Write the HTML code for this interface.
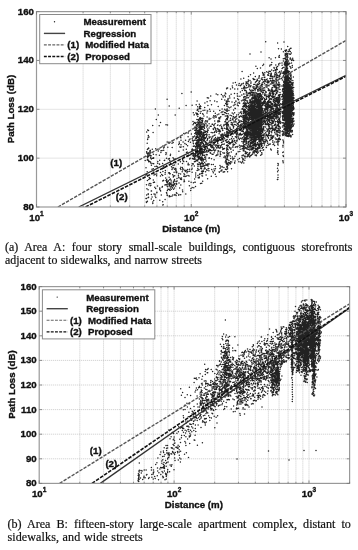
<!DOCTYPE html>
<html><head><meta charset="utf-8"><title>Path loss figure</title>
<style>
html,body{margin:0;padding:0;background:#fff}
body{width:358px;height:550px;position:relative;overflow:hidden}
svg,.cap{filter:blur(0.35px)}
.cap{position:absolute;font-family:"Liberation Serif","DejaVu Serif",serif;line-height:12.9px;color:#111;text-align:justify;margin:0;-webkit-text-stroke:0.2px #111}
.l1{text-align-last:justify;white-space:nowrap}
.l2{white-space:nowrap}
</style></head><body>
<svg width="358" height="550" viewBox="0 0 358 550" style="position:absolute;left:0;top:0;font-family:'Liberation Sans', Arial, sans-serif" fill="#111">
<style>text{stroke:#111;stroke-width:0.35px}</style>
<path d="M83.08 11.6V207M110.33 11.6V207M129.67 11.6V207M144.67 11.6V207M156.92 11.6V207M167.28 11.6V207M176.25 11.6V207M184.17 11.6V207M191.25 11.6V207M237.83 11.6V207M265.08 11.6V207M284.42 11.6V207M299.42 11.6V207M311.67 11.6V207M322.03 11.6V207M331.00 11.6V207M338.92 11.6V207M36.5 158.15H346M36.5 109.30H346M36.5 60.45H346" stroke="#a8a8a8" stroke-width="0.6" stroke-dasharray="1 1" fill="none"/>
<path d="M148.8 152.7h0M148.7 148.5h0M148.6 147.9h0M147.8 138.9h0M148.5 130.4h0M149.0 136.9h0M147.6 154.9h0M148.2 137.2h0M147.2 143.3h0M147.6 130.1h0M147.2 159.9h0M148.3 135.6h0M147.6 139.6h0M148.7 161.7h0M148.6 148.4h0M148.4 160.5h0M146.7 153.0h0M148.1 156.7h0M147.1 156.6h0M150.0 153.5h0M149.1 153.4h0M148.2 153.7h0M151.4 159.1h0M149.9 153.2h0M147.6 153.6h0M149.1 155.6h0M149.7 154.1h0M148.8 153.9h0M149.8 151.2h0M148.9 154.5h0M149.8 153.2h0M150.7 158.0h0M148.2 156.5h0M149.2 154.4h0M148.4 156.5h0M149.2 153.5h0M147.6 157.7h0M148.3 154.5h0M148.8 156.3h0M150.1 150.6h0M150.4 155.5h0M147.4 149.4h0M148.0 148.4h0M149.8 153.6h0M146.6 151.8h0M148.4 155.0h0M148.9 161.2h0M150.5 152.0h0M172.7 174.7h0M177.1 181.0h0M161.7 174.5h0M169.4 173.8h0M181.0 144.8h0M187.7 169.6h0M152.1 196.9h0M188.9 181.3h0M145.2 160.5h0M180.4 168.6h0M183.1 169.4h0M151.4 194.6h0M164.7 167.6h0M183.3 150.1h0M145.7 175.0h0M174.5 165.0h0M182.3 167.5h0M169.1 177.2h0M179.1 178.0h0M155.6 188.4h0M154.3 182.3h0M162.1 150.5h0M153.4 182.5h0M161.3 195.0h0M189.6 169.2h0M171.9 196.3h0M161.0 150.7h0M157.8 161.5h0M189.7 159.0h0M165.9 152.7h0M191.1 182.2h0M169.2 196.8h0M169.5 142.9h0M187.1 152.1h0M179.9 147.0h0M172.3 167.9h0M165.1 199.5h0M186.3 144.6h0M164.3 147.1h0M188.4 141.5h0M148.2 193.7h0M165.2 172.5h0M169.4 172.7h0M189.7 171.2h0M156.8 192.7h0M182.9 160.7h0M176.8 172.1h0M178.7 144.4h0M174.6 159.6h0M190.7 190.6h0M160.6 191.1h0M163.7 150.3h0M154.5 182.3h0M147.4 201.2h0M155.0 166.6h0M188.0 175.4h0M184.5 181.2h0M150.3 150.5h0M173.4 167.7h0M167.5 195.2h0M173.0 165.4h0M176.0 169.1h0M159.4 155.2h0M190.2 158.2h0M166.9 182.5h0M174.5 169.2h0M174.9 183.4h0M153.6 158.3h0M147.9 159.5h0M164.3 160.4h0M180.9 137.8h0M183.3 146.8h0M179.3 143.4h0M150.3 178.5h0M187.9 153.2h0M182.7 170.1h0M186.3 149.3h0M169.6 160.3h0M188.0 133.1h0M147.2 171.7h0M146.4 198.4h0M146.0 167.7h0M156.9 192.3h0M156.7 174.1h0M153.8 173.0h0M171.7 185.9h0M146.8 174.4h0M172.7 163.8h0M152.8 203.4h0M176.9 193.5h0M146.0 198.4h0M159.6 164.3h0M189.1 176.1h0M170.3 155.5h0M183.1 142.1h0M175.9 170.0h0M173.7 159.1h0M154.0 175.0h0M172.0 169.4h0M146.9 188.7h0M182.7 191.7h0M190.1 139.1h0M185.1 176.6h0M147.4 180.6h0M160.9 152.6h0M159.9 188.2h0M174.5 183.7h0M182.5 163.5h0M159.7 188.1h0M185.6 140.3h0M182.5 189.9h0M151.1 155.7h0M181.0 140.2h0M186.5 152.4h0M172.0 141.0h0M175.0 194.4h0M173.6 176.1h0M149.5 154.2h0M176.1 172.2h0M174.7 175.7h0M183.7 161.6h0M182.8 168.6h0M160.4 190.4h0M178.9 177.6h0M185.8 194.0h0M187.0 172.7h0M152.6 158.2h0M146.3 202.1h0M175.6 162.7h0M155.1 195.9h0M171.5 166.8h0M189.4 185.7h0M162.8 181.0h0M166.5 158.2h0M175.9 170.7h0M149.8 178.6h0M162.9 171.5h0M176.1 195.6h0M184.0 156.1h0M162.7 201.8h0M162.5 168.8h0M170.4 163.0h0M155.1 194.2h0M156.6 175.8h0M160.5 172.4h0M166.5 165.6h0M148.8 179.5h0M180.4 161.7h0M172.2 147.5h0M159.1 149.1h0M148.6 197.2h0M180.9 169.6h0M151.2 190.9h0M151.3 198.9h0M151.1 163.5h0M148.8 185.1h0M187.6 145.8h0M157.7 163.3h0M159.4 164.0h0M184.1 180.1h0M174.1 172.2h0M153.8 171.1h0M165.4 170.5h0M186.5 161.5h0M162.6 163.6h0M178.4 175.2h0M149.5 161.6h0M179.2 142.0h0M181.5 179.4h0M183.8 176.3h0M176.7 172.8h0M162.4 186.5h0M148.0 197.7h0M169.4 158.6h0M180.6 174.1h0M154.0 193.9h0M157.5 186.0h0M170.2 196.6h0M180.2 137.0h0M187.1 156.6h0M150.9 185.2h0M153.7 163.7h0M182.6 159.5h0M175.3 158.9h0M178.9 173.4h0M191.8 165.7h0M189.1 140.1h0M184.6 174.8h0M181.5 178.1h0M163.6 148.1h0M175.1 168.2h0M153.7 200.6h0M180.7 194.8h0M180.6 147.3h0M178.9 151.3h0M165.9 154.4h0M162.8 205.0h0M164.7 160.3h0M146.6 202.5h0M184.7 170.2h0M170.5 154.2h0M163.2 204.7h0M170.8 163.9h0M178.9 194.4h0M162.9 146.1h0M184.0 173.7h0M188.2 163.3h0M163.2 180.6h0M151.5 191.0h0M180.7 178.2h0M191.7 150.1h0M152.0 169.2h0M178.5 177.1h0M183.8 133.4h0M188.3 133.1h0M150.8 183.5h0M149.3 183.4h0M191.4 134.1h0M150.5 162.1h0M153.3 168.8h0M172.0 143.3h0M166.0 180.5h0M180.3 136.8h0M188.0 171.6h0M155.2 174.2h0M181.1 147.1h0M148.2 194.6h0M167.2 141.9h0M146.5 184.7h0M159.7 160.2h0M159.7 189.3h0M178.8 195.2h0M166.4 153.1h0M191.8 169.5h0M186.8 171.1h0M188.1 136.8h0M156.6 166.3h0M163.5 166.8h0M155.7 148.7h0M150.9 163.0h0M146.6 195.1h0M168.7 142.2h0M150.8 157.2h0M153.3 179.9h0M185.4 171.6h0M167.8 147.3h0M153.6 157.7h0M176.5 192.7h0M157.5 166.9h0M169.8 160.7h0M158.3 151.1h0M169.3 189.7h0M174.5 179.6h0M170.2 173.8h0M163.6 168.2h0M182.2 171.7h0M186.1 170.3h0M153.4 154.3h0M151.4 165.3h0M150.3 185.8h0M191.0 188.6h0M189.3 155.3h0M155.8 197.6h0M190.6 154.7h0M154.8 187.2h0M168.8 172.7h0M168.4 159.1h0M188.0 164.8h0M146.9 152.3h0M159.8 200.2h0M173.2 142.5h0M148.1 189.7h0M156.1 154.8h0M166.9 184.5h0M186.4 176.1h0M180.8 185.0h0M184.0 181.8h0M180.8 167.2h0M178.3 163.9h0M184.9 143.6h0M177.0 138.7h0M179.6 188.0h0M152.9 163.5h0M180.6 179.2h0M152.8 202.1h0M188.2 155.9h0M173.0 157.7h0M160.5 176.0h0M189.0 164.7h0M152.3 149.2h0M169.2 173.4h0M149.3 177.6h0M190.4 142.3h0M186.1 105.4h0M192.1 105.2h0M153.1 132.6h0M146.7 132.1h0M159.2 125.8h0M152.7 125.6h0M155.4 109.0h0M175.2 115.1h0M167.1 99.2h0M167.5 124.9h0M156.3 119.5h0M179.2 108.2h0M160.5 122.5h0M166.0 124.7h0M169.2 106.0h0M191.2 92.0h0M158.3 115.0h0M181.9 93.6h0M167.1 186.1h0M176.1 181.4h0M166.8 193.7h0M172.8 194.9h0M165.7 177.9h0M171.5 185.9h0M169.4 195.8h0M170.3 188.0h0M172.5 185.5h0M176.6 183.6h0M171.2 182.1h0M170.9 183.5h0M167.1 182.0h0M172.5 187.9h0M169.6 182.7h0M173.4 182.5h0M170.3 179.1h0M176.6 184.3h0M163.6 180.5h0M169.5 183.7h0M173.6 189.2h0M169.3 186.1h0M167.7 186.8h0M169.6 186.1h0M165.7 184.8h0M170.9 183.9h0M179.0 183.1h0M174.5 187.9h0M166.6 179.6h0M167.4 190.5h0M169.1 184.7h0M174.0 181.1h0M167.6 182.3h0M168.1 181.5h0M173.6 185.2h0M173.5 181.3h0M169.2 189.6h0M166.6 181.0h0M165.1 174.3h0M168.1 181.2h0M162.7 175.5h0M173.1 184.3h0M168.3 189.3h0M172.2 187.4h0M177.0 178.5h0M174.6 181.1h0M166.5 192.5h0M173.5 185.9h0M174.6 184.5h0M167.9 189.3h0M167.2 195.5h0M170.1 190.3h0M164.9 185.1h0M175.6 186.1h0M162.1 187.3h0M166.6 181.7h0M169.6 179.7h0M169.7 184.7h0M171.1 180.2h0M171.5 184.2h0M169.8 184.9h0M174.5 195.0h0M163.0 180.7h0M170.5 184.0h0M168.0 183.8h0M171.0 186.5h0M171.3 189.2h0M167.3 182.3h0M168.3 180.8h0M173.3 177.1h0M197.7 133.7h0M201.3 166.4h0M200.1 126.1h0M197.5 155.4h0M199.1 120.4h0M200.1 152.0h0M201.3 139.3h0M199.4 140.9h0M195.5 123.5h0M197.1 133.7h0M204.0 166.3h0M194.5 122.6h0M199.2 123.6h0M200.5 164.7h0M199.1 142.9h0M198.0 166.4h0M199.8 146.3h0M200.0 126.5h0M199.8 139.9h0M195.3 161.2h0M199.6 156.5h0M197.9 141.0h0M198.6 141.8h0M200.6 139.1h0M201.6 131.5h0M202.2 172.8h0M198.8 141.1h0M202.3 122.4h0M202.9 133.2h0M202.8 152.9h0M203.5 151.6h0M199.6 138.7h0M199.6 130.0h0M202.1 141.4h0M196.6 113.5h0M200.5 119.6h0M198.7 154.1h0M199.1 133.1h0M195.6 147.2h0M197.8 161.0h0M199.9 151.7h0M202.2 141.3h0M202.5 176.0h0M199.8 152.0h0M199.5 135.2h0M197.9 153.0h0M201.0 147.7h0M199.4 126.9h0M201.5 142.2h0M204.4 138.3h0M199.9 108.7h0M196.3 138.2h0M197.8 136.3h0M196.4 133.8h0M197.0 113.9h0M203.3 135.2h0M200.6 140.3h0M196.2 142.7h0M201.6 122.3h0M203.2 151.4h0M199.1 121.0h0M198.3 137.3h0M199.2 162.5h0M200.7 129.6h0M201.6 132.6h0M203.0 158.7h0M203.0 134.7h0M203.0 136.1h0M203.4 144.6h0M201.7 158.3h0M196.2 104.8h0M199.7 127.4h0M200.8 124.4h0M199.0 123.2h0M202.3 127.0h0M199.1 127.2h0M197.7 145.9h0M203.6 126.4h0M201.7 143.0h0M200.5 147.6h0M202.3 129.0h0M202.7 143.1h0M200.9 167.8h0M193.9 146.3h0M198.3 130.6h0M198.9 139.9h0M197.5 126.0h0M200.5 145.4h0M203.0 155.1h0M198.8 127.6h0M197.2 137.6h0M205.1 159.2h0M198.9 132.9h0M196.9 144.1h0M200.6 124.3h0M201.1 127.6h0M198.2 132.6h0M202.0 175.8h0M198.8 134.5h0M197.7 132.5h0M200.4 132.0h0M201.9 138.4h0M198.4 151.5h0M200.8 144.0h0M199.8 173.9h0M207.1 144.4h0M198.2 164.2h0M203.5 145.4h0M199.9 150.7h0M199.7 117.9h0M201.8 139.0h0M202.2 139.9h0M203.2 137.1h0M200.8 106.6h0M198.5 155.1h0M198.7 134.8h0M201.3 134.0h0M201.5 136.9h0M203.5 137.4h0M201.0 147.5h0M202.7 120.7h0M203.8 126.1h0M200.4 145.7h0M196.3 143.3h0M197.1 135.0h0M196.4 131.8h0M204.0 127.6h0M197.9 140.1h0M203.1 159.9h0M201.5 124.1h0M204.3 165.4h0M202.5 154.5h0M199.7 133.8h0M199.5 153.5h0M200.2 117.5h0M200.4 113.3h0M198.7 120.4h0M199.9 134.4h0M204.0 135.8h0M195.7 132.8h0M200.6 142.6h0M197.7 106.8h0M200.5 148.9h0M202.1 118.3h0M199.9 130.4h0M201.9 134.4h0M196.0 122.5h0M202.8 119.1h0M198.5 124.9h0M201.6 140.8h0M200.5 150.4h0M193.5 150.0h0M198.1 125.1h0M200.6 128.3h0M203.9 126.3h0M200.7 148.2h0M200.6 108.4h0M196.5 160.8h0M203.6 133.2h0M204.5 128.5h0M200.1 146.4h0M199.5 157.5h0M196.0 146.5h0M202.2 157.8h0M206.8 143.1h0M201.8 160.7h0M203.2 160.9h0M201.4 139.4h0M197.5 164.0h0M203.3 143.6h0M196.9 142.4h0M199.5 126.3h0M200.7 136.4h0M202.2 153.4h0M201.0 120.0h0M201.0 151.4h0M198.1 146.6h0M196.8 145.4h0M200.2 105.7h0M198.2 139.3h0M196.7 151.4h0M196.8 128.8h0M198.8 142.4h0M196.6 151.7h0M195.9 130.4h0M200.5 154.9h0M201.0 111.5h0M205.0 152.1h0M196.3 137.2h0M198.3 153.9h0M202.3 126.2h0M199.5 131.1h0M199.2 176.9h0M204.3 127.7h0M199.2 129.7h0M197.1 136.6h0M196.7 124.6h0M200.8 160.0h0M200.8 168.6h0M196.6 129.7h0M197.5 113.4h0M201.3 159.8h0M201.4 158.7h0M198.4 154.1h0M201.6 159.5h0M201.4 127.1h0M195.5 138.3h0M199.2 118.9h0M201.0 118.3h0M198.6 156.7h0M194.7 130.2h0M199.3 177.5h0M201.9 142.2h0M204.0 130.8h0M194.5 153.8h0M206.5 169.8h0M197.2 148.8h0M202.4 121.5h0M203.1 146.9h0M202.5 163.0h0M200.4 133.1h0M197.1 128.6h0M201.6 157.3h0M198.2 143.2h0M193.7 123.4h0M207.1 134.9h0M201.8 128.9h0M204.5 145.7h0M197.7 142.8h0M203.7 159.4h0M204.0 152.4h0M203.9 116.0h0M199.9 147.5h0M197.0 155.4h0M199.6 148.3h0M194.5 157.5h0M195.7 132.2h0M200.2 125.8h0M197.5 155.9h0M199.6 124.0h0M199.7 106.4h0M204.8 157.4h0M203.2 129.4h0M199.9 136.1h0M203.0 118.6h0M198.1 119.8h0M199.2 122.5h0M202.3 135.2h0M196.9 146.9h0M199.3 104.2h0M196.7 153.0h0M200.3 122.1h0M204.1 123.9h0M198.1 151.8h0M200.6 139.8h0M197.8 116.4h0M197.1 170.5h0M196.9 127.2h0M203.6 145.0h0M205.9 144.2h0M201.2 163.6h0M198.2 133.7h0M201.8 157.1h0M199.2 129.1h0M202.0 159.0h0M200.7 128.8h0M200.7 135.2h0M201.5 171.3h0M198.6 146.1h0M199.0 142.8h0M195.7 176.9h0M198.9 146.8h0M196.4 127.9h0M199.6 152.8h0M197.6 122.1h0M200.3 159.1h0M201.1 160.3h0M196.4 131.8h0M198.0 131.0h0M197.6 143.8h0M201.9 141.2h0M204.3 125.4h0M202.1 150.1h0M199.1 108.3h0M203.7 134.1h0M196.2 134.5h0M203.7 136.6h0M198.4 145.9h0M193.0 121.4h0M206.6 150.4h0M203.9 138.1h0M197.4 130.6h0M200.4 119.1h0M199.5 122.1h0M200.3 146.8h0M196.3 125.6h0M198.3 142.0h0M201.2 158.0h0M200.6 157.5h0M203.0 166.0h0M200.2 136.3h0M205.9 123.6h0M198.2 157.3h0M200.6 146.0h0M195.2 159.0h0M196.9 141.2h0M203.3 160.1h0M197.6 154.5h0M201.3 152.5h0M199.8 149.1h0M197.4 147.4h0M199.1 144.7h0M198.7 144.6h0M198.8 156.8h0M201.9 132.8h0M201.6 168.8h0M198.6 139.3h0M197.7 156.8h0M200.7 139.6h0M199.7 137.1h0M202.6 173.5h0M206.6 136.1h0M202.1 120.6h0M199.9 129.6h0M199.6 135.9h0M197.9 175.5h0M197.7 144.3h0M197.5 156.0h0M199.0 125.0h0M198.9 146.6h0M201.9 151.7h0M199.0 169.8h0M199.5 129.9h0M197.0 150.7h0M204.1 145.8h0M201.3 124.7h0M204.5 140.7h0M202.0 136.8h0M199.4 150.6h0M201.8 149.6h0M206.8 134.0h0M196.9 119.6h0M202.9 164.7h0M204.2 145.3h0M201.1 157.3h0M201.9 163.6h0M203.2 132.7h0M198.3 154.0h0M201.0 137.1h0M197.8 140.0h0M198.3 139.6h0M198.4 141.0h0M199.6 158.8h0M200.4 143.0h0M201.2 138.5h0M196.4 136.6h0M205.1 146.5h0M203.0 126.7h0M201.9 133.0h0M199.1 140.2h0M199.8 131.9h0M201.4 139.1h0M201.1 131.2h0M195.7 173.1h0M201.9 162.3h0M207.5 148.2h0M195.3 140.1h0M202.5 176.1h0M200.9 146.2h0M199.7 139.6h0M203.5 145.9h0M197.0 145.9h0M200.4 163.6h0M203.8 140.7h0M199.5 174.6h0M198.9 126.9h0M200.3 152.1h0M220.8 116.8h0M205.4 138.4h0M201.4 166.3h0M214.1 159.8h0M195.7 146.8h0M219.3 172.3h0M232.4 119.6h0M229.8 97.9h0M248.6 109.7h0M243.4 131.6h0M228.8 155.0h0M244.1 126.4h0M217.8 153.1h0M238.3 123.0h0M208.5 98.0h0M222.5 130.1h0M248.8 132.1h0M226.7 169.4h0M221.4 128.3h0M237.7 126.8h0M210.1 100.7h0M240.2 149.3h0M193.1 136.7h0M205.8 163.9h0M202.3 150.0h0M206.9 131.6h0M246.8 121.2h0M193.4 141.0h0M209.3 137.5h0M225.3 157.9h0M232.8 141.0h0M236.9 136.5h0M214.2 143.5h0M204.8 125.0h0M241.4 135.0h0M199.1 151.9h0M195.8 133.0h0M205.4 132.2h0M220.6 167.0h0M246.6 139.7h0M234.3 98.1h0M224.7 95.3h0M222.2 167.0h0M232.2 112.9h0M228.3 130.6h0M211.5 164.4h0M197.4 109.3h0M203.7 152.3h0M237.4 146.9h0M228.8 135.2h0M238.2 151.8h0M194.6 136.1h0M244.2 119.6h0M214.2 124.7h0M245.7 113.6h0M226.5 142.2h0M223.7 149.0h0M239.4 139.4h0M228.3 130.0h0M231.1 94.2h0M201.1 153.3h0M227.1 118.4h0M212.7 132.7h0M196.4 142.9h0M199.7 162.7h0M219.8 125.7h0M207.2 122.0h0M236.4 134.1h0M199.1 178.1h0M192.8 137.0h0M249.8 117.3h0M210.2 153.1h0M221.6 126.7h0M204.2 155.6h0M204.1 136.9h0M215.3 174.2h0M237.8 146.4h0M194.3 165.9h0M240.6 133.9h0M249.4 117.1h0M224.4 128.3h0M212.9 171.2h0M205.6 141.8h0M202.6 135.9h0M210.8 153.3h0M241.4 129.1h0M192.2 187.5h0M237.6 98.8h0M230.7 158.6h0M193.1 164.3h0M196.0 156.8h0M234.6 112.7h0M231.0 142.8h0M210.2 126.2h0M242.0 157.2h0M204.2 132.6h0M216.8 155.2h0M198.7 137.5h0M229.5 95.9h0M197.0 127.1h0M202.4 171.2h0M236.4 153.4h0M221.0 137.5h0M230.4 135.1h0M234.6 162.6h0M227.2 151.6h0M203.5 132.6h0M232.5 123.0h0M198.7 111.3h0M207.6 178.8h0M218.0 151.1h0M198.6 122.6h0M198.1 157.2h0M229.8 132.7h0M235.0 156.3h0M213.5 148.7h0M214.6 135.3h0M204.0 145.4h0M222.3 144.2h0M225.7 103.5h0M246.1 145.1h0M194.4 140.2h0M244.7 101.1h0M249.5 123.0h0M212.1 150.6h0M234.1 141.8h0M239.8 151.4h0M229.8 147.9h0M208.8 168.5h0M228.1 135.6h0M242.9 130.4h0M198.2 177.7h0M219.8 110.4h0M193.3 146.2h0M241.0 130.7h0M237.2 129.5h0M194.7 127.3h0M235.3 147.2h0M232.1 140.0h0M199.3 144.5h0M222.5 114.5h0M232.0 102.0h0M211.5 158.7h0M221.2 170.6h0M248.6 131.7h0M228.9 160.4h0M221.1 145.8h0M195.8 138.2h0M199.0 123.6h0M241.3 113.0h0M235.1 161.0h0M240.4 138.3h0M225.5 121.8h0M225.4 96.8h0M222.8 130.4h0M234.6 132.7h0M211.2 132.6h0M220.8 151.6h0M219.2 137.4h0M230.4 130.9h0M204.5 135.6h0M193.5 143.8h0M197.1 100.9h0M202.4 166.4h0M241.7 146.1h0M233.6 110.1h0M235.5 142.4h0M217.8 137.2h0M198.0 123.0h0M219.0 121.0h0M242.1 116.9h0M221.5 142.5h0M228.6 164.9h0M213.7 149.2h0M200.7 153.7h0M228.3 124.5h0M220.1 147.9h0M212.0 145.5h0M207.0 147.2h0M232.4 156.9h0M210.4 149.8h0M225.4 140.6h0M207.1 117.1h0M235.7 119.3h0M213.7 111.2h0M219.8 139.2h0M245.8 144.8h0M233.7 126.6h0M234.7 163.2h0M211.7 169.5h0M240.7 112.5h0M214.4 127.3h0M249.3 117.1h0M244.0 138.2h0M230.2 163.6h0M240.2 125.4h0M223.6 125.8h0M234.5 93.4h0M199.2 131.6h0M249.3 129.2h0M238.4 114.8h0M200.3 159.2h0M206.1 160.9h0M225.3 93.0h0M236.2 129.9h0M200.6 125.2h0M247.7 131.2h0M212.1 154.3h0M249.7 135.1h0M235.6 117.1h0M220.2 152.9h0M213.0 147.2h0M197.6 150.3h0M197.1 140.4h0M228.5 135.2h0M236.9 138.0h0M244.6 137.9h0M213.2 128.8h0M246.4 137.5h0M209.2 157.8h0M246.5 118.5h0M245.3 112.5h0M201.0 144.6h0M241.9 108.9h0M232.8 118.7h0M232.7 131.0h0M240.7 130.5h0M223.1 172.0h0M221.4 94.4h0M213.3 172.8h0M242.2 131.4h0M244.3 122.9h0M201.3 152.9h0M236.8 125.2h0M208.0 166.0h0M202.7 181.3h0M203.4 145.5h0M225.3 115.9h0M208.2 150.5h0M206.1 174.9h0M197.7 131.0h0M210.8 142.3h0M236.9 118.7h0M193.3 112.8h0M220.0 165.5h0M227.0 88.1h0M194.9 182.2h0M209.1 136.7h0M244.6 119.7h0M249.7 156.9h0M241.3 125.6h0M201.8 183.3h0M236.3 131.5h0M218.2 106.6h0M201.9 124.8h0M219.9 117.6h0M245.5 126.3h0M242.9 146.4h0M214.7 121.1h0M195.7 143.6h0M244.2 121.7h0M249.2 141.8h0M221.7 99.2h0M205.1 168.6h0M223.5 141.2h0M232.4 156.9h0M220.0 168.4h0M212.4 145.3h0M206.4 154.7h0M209.2 158.2h0M194.9 155.6h0M206.8 143.5h0M247.3 127.9h0M192.5 139.0h0M234.2 117.9h0M237.8 124.1h0M215.5 168.7h0M226.5 125.3h0M204.8 146.0h0M230.7 120.6h0M233.1 82.9h0M234.6 124.5h0M220.5 140.2h0M248.3 126.0h0M242.2 127.7h0M225.2 161.9h0M231.6 131.6h0M207.9 105.4h0M246.7 135.3h0M229.4 162.8h0M243.9 123.6h0M208.7 150.4h0M249.0 125.5h0M198.1 170.1h0M222.8 139.5h0M198.4 151.6h0M203.0 139.1h0M236.3 116.8h0M195.8 155.1h0M214.2 145.1h0M203.1 110.6h0M241.3 124.1h0M196.8 114.8h0M211.5 104.8h0M241.7 121.6h0M231.8 161.9h0M232.8 158.7h0M249.5 150.1h0M193.4 182.7h0M230.6 135.3h0M235.2 120.7h0M235.4 82.5h0M233.4 128.0h0M196.2 152.2h0M196.9 134.8h0M236.8 130.4h0M227.5 155.1h0M207.2 154.8h0M192.5 158.4h0M222.9 95.8h0M197.2 110.4h0M235.4 136.8h0M211.8 142.7h0M238.8 135.0h0M197.5 159.9h0M220.7 135.1h0M197.8 168.4h0M237.3 123.7h0M224.5 153.0h0M205.6 171.7h0M247.8 124.8h0M231.6 142.4h0M211.5 145.4h0M241.6 134.7h0M214.0 169.0h0M246.7 128.7h0M209.2 118.3h0M249.1 118.7h0M195.6 174.9h0M234.6 144.4h0M208.9 170.8h0M216.6 155.0h0M228.9 110.4h0M194.7 146.0h0M205.0 134.5h0M198.0 114.4h0M234.9 133.2h0M204.8 167.7h0M220.9 125.0h0M211.1 150.4h0M205.7 138.0h0M246.2 103.8h0M221.4 139.9h0M229.7 144.0h0M232.9 147.3h0M239.6 103.2h0M207.3 147.1h0M196.6 140.5h0M219.1 130.4h0M201.9 129.3h0M193.2 143.1h0M245.3 122.1h0M228.3 145.6h0M216.0 130.3h0M199.9 128.9h0M236.2 131.2h0M222.9 148.4h0M202.1 149.2h0M249.0 122.9h0M247.1 148.1h0M245.8 117.0h0M239.9 96.2h0M222.8 134.0h0M209.4 149.3h0M229.8 139.6h0M200.8 153.3h0M227.8 127.9h0M195.8 149.1h0M192.8 150.5h0M233.5 116.5h0M211.9 147.7h0M232.4 142.2h0M237.2 133.4h0M240.4 92.1h0M227.7 164.2h0M241.1 84.9h0M230.2 164.1h0M245.8 134.0h0M244.0 86.1h0M194.5 158.6h0M207.5 139.5h0M214.6 170.8h0M206.6 146.8h0M202.3 154.8h0M242.7 148.5h0M193.5 155.5h0M202.5 155.4h0M236.1 146.7h0M205.0 131.0h0M207.0 113.0h0M248.1 142.1h0M236.2 154.6h0M218.0 122.1h0M199.9 133.5h0M207.6 165.0h0M248.9 86.9h0M237.9 159.7h0M196.1 144.6h0M233.0 125.0h0M213.8 144.6h0M233.8 122.1h0M209.1 134.8h0M199.5 107.7h0M193.1 158.8h0M209.1 127.9h0M241.9 141.5h0M243.7 145.1h0M231.6 133.7h0M235.4 108.4h0M203.3 123.9h0M212.5 137.1h0M244.2 146.2h0M249.2 115.5h0M217.7 121.0h0M237.0 141.1h0M246.1 142.6h0M249.8 131.8h0M209.2 138.0h0M229.9 130.4h0M214.6 101.1h0M219.0 145.2h0M218.8 147.6h0M208.2 130.3h0M193.1 154.7h0M236.5 137.6h0M232.4 133.8h0M240.8 145.9h0M200.9 126.5h0M205.7 158.9h0M226.6 88.7h0M246.3 114.4h0M219.4 139.1h0M203.6 144.7h0M226.5 124.0h0M247.5 100.9h0M242.3 90.5h0M244.1 102.5h0M215.8 146.3h0M207.2 151.9h0M242.5 161.5h0M237.7 89.1h0M241.4 116.3h0M214.7 151.0h0M208.6 150.2h0M205.9 148.9h0M242.5 137.8h0M245.3 123.0h0M213.3 164.6h0M242.7 108.6h0M214.1 148.0h0M218.0 147.7h0M224.9 156.1h0M204.8 110.2h0M207.5 120.9h0M207.5 131.2h0M207.1 140.4h0M221.9 134.3h0M197.8 164.7h0M237.3 93.7h0M202.1 151.2h0M217.8 146.5h0M229.2 131.6h0M200.0 174.1h0M215.7 150.0h0M224.7 138.7h0M223.9 157.3h0M243.8 162.9h0M237.5 132.7h0M199.0 164.4h0M240.3 85.7h0M223.9 167.5h0M231.3 134.4h0M201.3 128.7h0M219.4 148.0h0M232.6 87.8h0M238.3 105.8h0M238.7 125.1h0M204.6 155.7h0M240.3 125.6h0M225.0 134.9h0M230.8 149.2h0M241.4 130.9h0M215.5 137.5h0M245.3 110.7h0M243.1 145.7h0M238.8 138.5h0M214.0 118.0h0M222.6 136.5h0M202.0 137.5h0M236.0 143.3h0M243.7 78.2h0M201.3 150.1h0M235.2 124.7h0M232.3 136.7h0M194.1 115.1h0M245.2 153.7h0M219.8 131.9h0M207.6 138.6h0M193.8 187.8h0M237.3 130.0h0M211.6 147.3h0M221.8 144.4h0M203.3 139.1h0M227.2 145.9h0M215.0 134.9h0M238.8 161.8h0M230.6 161.8h0M233.9 131.0h0M206.6 126.9h0M195.7 152.9h0M243.0 119.1h0M246.3 139.7h0M229.3 142.9h0M245.5 118.0h0M233.0 144.3h0M227.1 108.9h0M216.3 116.9h0M212.6 124.2h0M220.4 131.3h0M204.9 103.1h0M216.8 139.1h0M221.4 135.6h0M193.8 158.9h0M214.8 139.0h0M208.5 151.6h0M228.8 121.2h0M239.1 122.2h0M227.6 118.3h0M230.5 89.1h0M227.6 88.1h0M206.9 124.9h0M213.8 125.4h0M241.0 146.0h0M246.9 130.1h0M202.5 171.3h0M192.6 140.7h0M247.8 95.3h0M241.9 162.4h0M227.2 131.6h0M239.4 145.2h0M226.5 139.9h0M244.5 106.6h0M206.1 134.2h0M217.8 94.7h0M230.9 131.9h0M204.5 155.3h0M233.5 145.1h0M207.2 111.1h0M233.2 120.0h0M238.6 99.8h0M216.6 148.1h0M249.4 108.9h0M228.6 133.5h0M235.9 132.5h0M193.2 163.7h0M198.5 164.5h0M233.3 126.6h0M246.7 106.7h0M228.4 162.5h0M244.9 127.8h0M195.4 154.1h0M243.7 146.9h0M242.9 106.6h0M228.5 141.3h0M216.9 141.6h0M232.9 159.7h0M206.1 131.6h0M230.7 142.8h0M232.3 124.4h0M223.3 136.2h0M207.1 144.7h0M192.1 172.2h0M203.4 163.7h0M240.4 116.0h0M204.3 138.6h0M196.3 129.8h0M206.3 154.6h0M222.1 142.1h0M226.0 128.8h0M242.9 131.0h0M241.6 113.7h0M248.2 138.6h0M243.3 121.5h0M218.1 150.7h0M200.2 144.9h0M247.4 138.8h0M205.3 152.0h0M228.1 153.3h0M207.3 97.8h0M239.4 134.0h0M203.6 141.1h0M216.4 132.3h0M204.7 126.1h0M241.9 138.3h0M227.9 135.4h0M228.6 125.9h0M210.2 111.3h0M202.2 127.6h0M241.7 163.1h0M236.3 141.0h0M234.6 102.7h0M249.8 124.7h0M224.5 112.4h0M202.4 153.1h0M227.4 135.1h0M208.7 163.9h0M221.8 112.3h0M218.6 118.1h0M224.7 109.2h0M245.4 113.5h0M239.0 117.1h0M216.1 176.4h0M239.4 117.2h0M241.9 139.0h0M236.9 135.7h0M224.0 134.9h0M244.2 126.9h0M220.5 146.1h0M198.1 157.4h0M207.8 148.7h0M230.1 128.6h0M214.0 145.0h0M216.5 140.7h0M215.3 113.3h0M203.1 152.4h0M197.4 143.8h0M194.8 133.5h0M231.0 148.1h0M210.8 137.1h0M218.5 129.3h0M246.2 118.6h0M228.3 106.9h0M239.0 126.2h0M236.2 122.0h0M247.3 118.0h0M195.9 112.9h0M214.3 132.4h0M247.1 129.5h0M218.9 151.3h0M247.0 82.0h0M202.7 142.6h0M195.5 186.6h0M243.9 122.2h0M215.9 155.7h0M221.5 136.5h0M246.3 112.0h0M204.7 107.5h0M248.2 81.7h0M215.0 131.5h0M206.4 137.1h0M205.6 120.8h0M222.1 166.4h0M219.1 133.8h0M243.4 122.2h0M194.9 127.7h0M194.6 179.1h0M200.9 123.1h0M227.1 135.5h0M237.3 128.3h0M219.8 118.7h0M227.6 168.8h0M229.3 142.2h0M193.1 159.0h0M206.3 143.4h0M249.9 152.4h0M211.2 126.2h0M246.9 101.0h0M220.6 147.2h0M204.9 149.4h0M192.1 168.2h0M204.6 150.4h0M210.6 146.8h0M217.5 129.1h0M217.9 125.0h0M223.8 144.2h0M219.5 118.0h0M193.9 156.4h0M207.5 129.0h0M247.8 106.3h0M193.6 137.0h0M234.6 140.6h0M219.6 121.4h0M233.0 117.0h0M211.3 176.3h0M213.5 129.1h0M222.0 169.9h0M244.8 88.0h0M211.0 140.1h0M197.0 151.0h0M194.2 114.7h0M243.1 121.8h0M210.2 152.5h0M198.9 139.1h0M226.6 158.8h0M241.0 111.4h0M226.8 127.9h0M200.8 143.4h0M215.5 139.9h0M207.5 132.2h0M193.0 153.9h0M248.0 145.2h0M218.6 130.9h0M199.8 151.6h0M243.3 126.2h0M249.1 139.0h0M239.3 121.1h0M206.7 164.9h0M203.1 170.5h0M222.5 128.2h0M225.8 93.8h0M242.9 115.6h0M248.1 149.2h0M244.8 111.8h0M211.8 145.9h0M226.0 161.5h0M199.2 156.5h0M222.1 108.9h0M196.1 137.0h0M198.5 153.9h0M199.1 145.6h0M209.5 141.0h0M210.0 142.5h0M232.9 146.0h0M196.4 129.7h0M198.4 158.1h0M230.1 115.3h0M231.0 131.5h0M233.2 131.8h0M233.8 138.8h0M230.4 129.2h0M224.1 125.5h0M235.0 121.8h0M196.7 159.9h0M204.3 139.2h0M235.0 108.2h0M203.2 114.2h0M222.8 135.3h0M207.1 101.7h0M217.0 131.3h0M240.4 162.0h0M230.3 143.7h0M217.8 143.6h0M207.9 130.6h0M238.7 122.5h0M230.1 120.2h0M217.5 125.3h0M242.4 134.2h0M232.2 125.3h0M248.9 127.9h0M230.5 118.2h0M244.2 126.1h0M223.9 114.6h0M233.2 150.3h0M240.9 120.8h0M197.2 132.5h0M219.5 131.0h0M227.1 119.8h0M195.4 156.0h0M237.8 130.2h0M233.5 128.0h0M246.3 105.5h0M213.6 150.0h0M219.2 171.7h0M244.9 156.4h0M215.9 141.1h0M240.4 133.2h0M216.4 147.7h0M211.6 140.1h0M208.1 168.7h0M204.4 140.9h0M217.0 101.8h0M201.4 149.9h0M240.0 121.9h0M248.5 141.6h0M197.7 152.4h0M195.2 150.6h0M192.2 163.7h0M246.1 134.1h0M196.3 143.9h0M231.5 115.7h0M209.6 109.2h0M203.5 171.4h0M206.3 142.8h0M232.0 141.4h0M193.0 124.7h0M242.2 124.3h0M224.9 121.7h0M205.7 157.0h0M204.1 169.0h0M230.0 127.2h0M228.5 130.0h0M210.5 150.2h0M211.4 142.2h0M218.9 131.5h0M244.8 160.2h0M223.2 96.9h0M240.7 124.6h0M229.2 152.7h0M224.6 132.9h0M220.4 154.4h0M231.5 138.6h0M220.5 139.7h0M234.1 158.3h0M202.6 113.8h0M210.7 96.1h0M242.6 158.8h0M214.9 127.6h0M240.9 79.1h0M246.4 121.5h0M225.6 140.7h0M197.9 109.4h0M235.9 129.6h0M230.6 163.5h0M208.9 163.7h0M242.1 109.1h0M220.0 156.2h0M195.3 127.1h0M195.9 151.2h0M205.2 137.8h0M227.4 132.9h0M239.3 129.9h0M197.7 145.5h0M193.3 153.7h0M228.1 149.8h0M215.7 145.1h0M217.6 142.2h0M239.6 128.9h0M245.3 104.4h0M248.1 93.5h0M237.2 140.0h0M192.2 138.8h0M200.7 127.2h0M226.1 124.2h0M247.4 129.9h0M196.7 153.0h0M221.9 128.6h0M215.0 142.4h0M215.6 129.8h0M207.6 125.8h0M207.7 110.9h0M205.8 165.4h0M198.0 130.7h0M224.1 124.4h0M217.9 154.8h0M233.4 114.0h0M229.1 147.1h0M247.3 139.1h0M211.7 138.6h0M243.2 150.8h0M214.3 138.9h0M230.3 156.1h0M238.7 120.1h0M215.0 138.8h0M217.9 145.6h0M228.6 132.5h0M198.4 159.3h0M222.8 149.5h0M197.5 155.0h0M205.0 148.2h0M228.1 136.6h0M248.4 121.9h0M250.0 128.6h0M207.1 170.3h0M200.5 183.6h0M222.1 139.8h0M217.6 139.1h0M214.0 150.0h0M236.6 115.1h0M233.2 134.0h0M224.6 171.8h0M228.0 137.5h0M225.7 136.3h0M231.3 122.5h0M245.8 113.6h0M246.9 149.1h0M248.8 110.8h0M241.9 88.5h0M198.1 137.1h0M218.2 140.9h0M237.3 104.9h0M209.1 123.8h0M227.2 123.6h0M195.2 182.3h0M203.8 126.4h0M215.2 166.5h0M196.1 136.9h0M216.6 144.9h0M205.3 142.3h0M242.0 149.1h0M210.5 145.2h0M214.1 152.8h0M238.5 137.1h0M224.5 148.6h0M194.9 156.1h0M204.6 138.6h0M227.4 146.3h0M203.6 138.9h0M206.4 151.7h0M228.1 125.3h0M220.7 154.6h0M207.6 164.0h0M224.4 105.6h0M228.8 143.4h0M194.3 158.8h0M207.9 145.2h0M209.8 150.6h0M243.0 159.9h0M195.0 159.5h0M212.1 124.2h0M203.3 143.7h0M232.3 85.9h0M239.1 113.1h0M195.3 161.4h0M242.1 155.4h0M232.4 132.0h0M204.6 162.5h0M245.1 116.2h0M209.0 158.3h0M237.7 134.1h0M196.3 138.5h0M218.5 145.9h0M221.3 135.7h0M244.0 110.2h0M240.5 127.0h0M223.7 171.9h0M195.0 155.5h0M216.9 141.3h0M213.8 139.7h0M249.7 156.2h0M231.5 168.7h0M215.5 115.7h0M213.2 136.0h0M236.5 134.5h0M197.6 124.2h0M239.4 158.5h0M230.9 134.9h0M217.2 128.4h0M233.2 144.0h0M215.1 123.6h0M200.3 166.3h0M216.2 93.9h0M195.0 155.2h0M197.1 140.1h0M217.5 140.2h0M239.9 147.3h0M203.8 149.4h0M221.0 171.3h0M248.8 133.9h0M240.0 135.0h0M244.3 115.2h0M231.1 124.2h0M226.2 163.8h0M225.7 136.0h0M226.9 119.2h0M219.0 120.2h0M212.9 146.7h0M205.8 142.9h0M195.8 129.1h0M213.4 129.6h0M236.7 128.6h0M224.1 153.2h0M201.5 173.6h0M239.2 83.6h0M194.4 161.7h0M246.0 88.1h0M229.8 163.6h0M224.3 144.0h0M215.9 117.2h0M239.9 116.6h0M192.4 149.0h0M192.9 155.7h0M222.2 147.3h0M209.2 163.9h0M215.3 128.5h0M223.1 139.8h0M194.5 154.1h0M249.0 119.5h0M231.3 152.1h0M197.7 142.7h0M234.8 89.0h0M222.9 152.8h0M231.8 129.6h0M234.8 117.5h0M249.5 146.6h0M198.9 141.2h0M249.8 101.9h0M219.7 130.1h0M203.7 140.5h0M213.7 115.7h0M213.1 154.3h0M226.9 119.1h0M226.7 155.1h0M227.1 139.5h0M226.6 126.7h0M227.7 156.5h0M227.5 167.2h0M227.9 145.5h0M227.4 146.3h0M226.4 161.8h0M226.9 119.7h0M227.6 171.7h0M226.7 111.0h0M229.0 101.4h0M226.8 158.9h0M226.6 110.9h0M227.8 122.8h0M227.5 136.0h0M227.0 106.2h0M226.8 129.4h0M227.3 124.2h0M227.6 104.3h0M227.5 142.6h0M226.8 131.4h0M227.3 109.8h0M227.6 156.3h0M227.5 128.3h0M224.8 99.9h0M226.4 163.1h0M226.5 128.3h0M226.8 104.8h0M227.1 119.4h0M227.6 116.9h0M227.4 101.3h0M226.9 122.5h0M227.0 110.5h0M228.2 113.8h0M226.6 147.9h0M227.2 109.7h0M228.1 99.6h0M227.2 111.2h0M225.6 119.9h0M227.3 110.2h0M226.7 142.2h0M226.9 163.1h0M227.7 159.5h0M227.3 132.8h0M226.8 156.1h0M227.6 156.5h0M227.3 145.0h0M227.1 157.4h0M227.2 126.0h0M227.2 153.3h0M226.8 136.7h0M226.7 152.7h0M227.0 152.7h0M226.3 102.9h0M226.1 159.7h0M227.9 100.7h0M226.8 129.6h0M227.0 141.7h0M226.9 158.9h0M227.0 102.3h0M227.0 147.7h0M227.0 123.5h0M226.4 101.0h0M227.7 122.6h0M226.5 145.4h0M227.7 104.1h0M225.7 160.8h0M226.3 101.2h0M227.7 115.7h0M226.9 122.4h0M226.5 102.8h0M227.3 166.5h0M226.3 169.5h0M227.1 165.0h0M225.4 112.7h0M226.7 159.7h0M226.5 123.0h0M227.4 119.4h0M227.6 149.1h0M226.4 104.3h0M228.1 98.4h0M226.6 166.9h0M225.6 124.2h0M225.3 156.8h0M228.1 129.5h0M226.9 104.9h0M226.5 133.1h0M226.5 110.6h0M226.2 104.0h0M227.9 99.4h0M226.9 127.7h0M228.3 117.1h0M226.9 122.9h0M225.4 169.2h0M227.6 159.4h0M226.7 150.2h0M226.8 116.1h0M228.1 153.5h0M226.8 149.6h0M227.8 137.1h0M227.0 115.7h0M226.5 113.4h0M227.4 129.0h0M226.6 118.5h0M227.9 163.5h0M227.7 132.5h0M227.0 148.1h0M227.4 164.4h0M257.6 120.5h0M252.3 127.8h0M254.2 140.1h0M261.1 106.7h0M251.0 128.4h0M253.0 136.1h0M257.6 116.5h0M260.3 94.5h0M259.9 117.8h0M258.9 105.1h0M258.6 132.9h0M254.8 110.4h0M251.2 149.9h0M257.8 125.3h0M251.3 111.1h0M259.7 115.6h0M252.0 106.8h0M250.8 129.0h0M262.0 145.5h0M252.4 119.9h0M257.2 137.0h0M251.2 109.0h0M261.8 127.8h0M258.4 102.1h0M260.2 141.6h0M253.9 140.8h0M250.6 95.0h0M250.9 101.6h0M251.2 108.5h0M259.2 137.7h0M256.6 116.7h0M260.8 120.6h0M257.8 133.8h0M257.3 124.9h0M252.8 126.5h0M253.1 118.3h0M261.8 140.0h0M261.5 111.5h0M255.5 148.3h0M259.6 118.1h0M258.8 111.2h0M253.7 132.8h0M252.8 129.9h0M259.1 93.4h0M261.6 126.4h0M261.8 102.9h0M254.6 110.7h0M251.3 134.9h0M254.2 110.2h0M251.3 128.4h0M261.9 117.4h0M254.0 152.1h0M260.2 121.7h0M253.3 105.5h0M261.5 106.5h0M256.1 109.5h0M260.1 125.0h0M257.4 123.0h0M259.3 137.6h0M251.3 125.6h0M251.5 125.0h0M254.6 127.9h0M260.6 121.1h0M261.0 127.4h0M258.7 134.8h0M257.4 134.8h0M251.1 114.8h0M261.2 96.5h0M258.1 110.9h0M257.6 127.2h0M253.2 115.8h0M257.6 129.7h0M258.4 114.5h0M259.2 106.2h0M251.6 149.2h0M258.9 143.7h0M260.9 119.1h0M257.7 142.8h0M252.5 142.4h0M261.1 106.0h0M253.1 108.8h0M260.3 118.9h0M257.3 106.4h0M254.4 124.0h0M259.7 103.1h0M257.9 122.8h0M251.9 139.1h0M253.2 126.0h0M259.8 118.9h0M259.8 146.0h0M251.4 109.4h0M256.5 137.3h0M258.7 118.3h0M254.2 126.0h0M251.2 123.3h0M255.3 124.7h0M261.3 122.0h0M258.9 111.0h0M253.0 114.2h0M260.2 129.4h0M258.2 121.1h0M253.8 105.3h0M253.6 112.1h0M252.5 112.3h0M255.2 121.9h0M254.6 125.4h0M253.8 124.0h0M260.5 112.9h0M259.3 122.9h0M256.2 102.1h0M258.2 121.8h0M261.4 97.8h0M260.0 108.4h0M257.8 104.5h0M258.5 132.0h0M259.4 104.4h0M259.2 126.7h0M260.5 115.2h0M254.4 104.0h0M254.7 98.9h0M253.3 129.4h0M261.1 128.2h0M260.9 134.0h0M255.6 149.9h0M255.1 126.5h0M252.0 126.6h0M261.7 120.5h0M258.2 123.9h0M261.6 117.1h0M257.8 108.9h0M256.4 152.2h0M259.1 94.4h0M260.7 126.1h0M260.2 128.9h0M254.5 124.5h0M256.3 107.8h0M261.4 119.3h0M256.3 115.3h0M259.7 106.1h0M256.5 121.5h0M260.1 116.0h0M251.3 113.8h0M250.5 132.4h0M251.5 106.2h0M255.5 128.7h0M254.7 112.9h0M261.5 128.5h0M262.0 123.1h0M252.0 125.6h0M260.1 107.3h0M256.4 110.4h0M260.2 109.2h0M254.7 124.6h0M259.4 133.2h0M250.6 138.1h0M255.9 114.4h0M254.3 123.2h0M253.4 97.7h0M254.0 88.7h0M255.3 108.9h0M256.2 111.9h0M256.5 98.6h0M258.9 95.2h0M260.0 129.8h0M261.6 109.8h0M258.2 96.7h0M257.2 124.4h0M255.5 117.0h0M253.2 131.9h0M254.3 110.4h0M253.1 145.5h0M256.7 98.7h0M251.3 102.2h0M256.7 119.7h0M255.2 110.3h0M250.6 142.8h0M253.7 97.7h0M261.7 110.7h0M257.2 125.2h0M251.2 130.0h0M257.1 136.6h0M258.6 126.7h0M252.0 154.5h0M255.1 114.5h0M253.0 124.2h0M256.7 134.4h0M260.0 116.8h0M253.3 117.1h0M252.1 114.6h0M252.1 111.9h0M257.6 104.6h0M251.3 113.2h0M256.6 98.3h0M259.8 127.1h0M259.3 97.6h0M258.2 152.3h0M250.6 146.8h0M255.5 137.9h0M253.3 118.2h0M256.4 112.6h0M252.2 139.7h0M252.1 124.1h0M261.4 129.7h0M260.6 110.6h0M251.6 137.3h0M260.0 109.4h0M251.3 122.9h0M254.4 95.5h0M261.9 111.5h0M261.3 128.8h0M255.9 114.6h0M258.6 114.6h0M254.9 133.1h0M260.3 120.2h0M254.1 139.8h0M252.2 129.7h0M257.8 128.8h0M256.9 98.2h0M260.9 101.8h0M252.2 134.4h0M259.8 105.3h0M261.4 111.7h0M259.1 130.2h0M251.8 116.3h0M252.3 128.3h0M251.5 108.3h0M254.3 125.7h0M259.2 137.4h0M252.2 126.1h0M255.7 88.4h0M251.0 130.9h0M258.3 122.1h0M251.6 107.7h0M259.6 142.0h0M257.5 95.2h0M252.7 149.2h0M258.5 111.7h0M254.5 144.7h0M256.5 120.5h0M256.9 101.3h0M253.6 122.6h0M255.3 126.1h0M259.5 129.3h0M260.4 137.0h0M260.3 107.8h0M257.0 128.5h0M260.5 132.2h0M252.1 117.1h0M261.8 107.2h0M251.0 106.9h0M260.8 132.4h0M259.6 133.1h0M255.0 108.8h0M259.6 101.2h0M261.5 139.7h0M252.4 98.0h0M258.0 123.6h0M250.6 109.1h0M258.1 95.0h0M251.2 123.0h0M258.2 118.3h0M250.8 142.7h0M255.1 155.1h0M260.5 118.4h0M254.0 136.5h0M261.6 136.8h0M255.9 113.4h0M252.6 108.2h0M261.3 145.2h0M252.3 115.7h0M257.3 120.8h0M261.3 116.8h0M261.3 119.2h0M256.9 112.1h0M252.9 132.3h0M256.3 139.9h0M253.9 115.6h0M254.1 100.6h0M254.2 121.9h0M252.8 99.0h0M250.9 111.6h0M259.1 139.5h0M250.6 155.8h0M257.1 126.8h0M254.7 105.3h0M258.0 132.8h0M256.0 110.8h0M259.4 143.9h0M257.1 132.3h0M260.8 100.6h0M257.2 96.3h0M260.6 133.9h0M260.4 120.4h0M258.6 112.3h0M254.3 127.3h0M256.1 112.6h0M251.4 92.5h0M258.8 133.2h0M257.9 111.5h0M259.9 106.2h0M251.5 101.3h0M252.0 124.9h0M257.9 109.1h0M258.9 130.5h0M251.3 117.2h0M250.9 137.3h0M254.2 115.4h0M254.4 111.4h0M251.1 91.8h0M251.6 104.8h0M252.8 131.9h0M252.2 102.5h0M250.8 105.7h0M254.8 126.2h0M259.1 128.3h0M258.1 111.1h0M257.5 122.3h0M255.9 97.2h0M252.7 116.7h0M251.1 134.6h0M252.6 145.6h0M261.4 118.7h0M259.9 117.3h0M257.1 127.9h0M257.6 137.7h0M259.1 128.4h0M260.0 110.0h0M253.3 126.5h0M259.7 135.6h0M258.0 110.5h0M253.7 101.2h0M253.8 128.8h0M252.5 126.6h0M256.8 135.6h0M261.6 122.5h0M259.6 111.6h0M252.4 114.7h0M251.9 105.8h0M253.7 107.1h0M252.4 112.8h0M252.1 114.0h0M258.9 137.8h0M254.1 102.9h0M257.0 120.5h0M254.1 112.4h0M261.8 143.4h0M257.3 125.1h0M252.1 115.7h0M259.4 133.4h0M253.8 122.2h0M255.7 114.2h0M253.8 144.2h0M256.1 131.9h0M254.0 147.1h0M254.2 138.5h0M252.3 132.8h0M261.5 123.3h0M252.9 105.1h0M253.8 131.9h0M255.2 122.4h0M251.9 131.4h0M253.1 121.2h0M255.2 111.0h0M257.2 106.3h0M256.7 131.8h0M254.7 140.6h0M258.3 117.0h0M259.1 128.1h0M253.6 142.0h0M253.3 108.9h0M257.7 116.3h0M255.2 104.7h0M260.0 138.9h0M250.6 125.3h0M256.7 114.5h0M254.5 96.7h0M252.9 118.7h0M260.5 136.2h0M253.0 117.0h0M259.6 115.1h0M260.3 130.9h0M261.6 103.0h0M251.8 122.2h0M252.3 130.3h0M251.5 109.8h0M254.2 109.0h0M260.9 125.1h0M257.9 119.9h0M252.3 117.9h0M251.7 124.5h0M259.1 124.7h0M257.7 107.6h0M250.5 111.5h0M257.3 128.1h0M252.7 138.1h0M253.9 141.6h0M251.7 108.8h0M261.9 137.7h0M255.8 132.7h0M257.6 121.0h0M252.8 128.7h0M254.8 133.8h0M257.9 148.1h0M259.1 105.8h0M260.9 130.4h0M253.3 119.4h0M253.3 118.4h0M255.1 138.6h0M254.0 133.7h0M259.9 106.4h0M254.8 117.3h0M254.8 124.9h0M256.3 100.5h0M257.0 134.4h0M254.6 120.4h0M250.6 123.9h0M259.0 126.5h0M251.8 148.4h0M260.3 122.1h0M253.3 116.2h0M253.4 147.4h0M256.7 114.1h0M260.9 113.7h0M254.9 100.9h0M256.0 137.6h0M255.3 125.6h0M251.8 128.5h0M253.8 124.0h0M261.0 119.5h0M261.3 109.9h0M253.4 110.0h0M261.1 128.0h0M250.7 123.4h0M258.8 145.8h0M250.8 110.3h0M255.4 114.3h0M255.2 106.4h0M255.5 142.0h0M261.3 103.3h0M254.6 133.0h0M250.7 142.9h0M251.8 119.5h0M259.1 132.3h0M252.0 90.0h0M251.2 115.8h0M252.7 97.0h0M261.7 124.1h0M255.6 121.7h0M252.2 110.2h0M258.1 135.6h0M254.8 126.9h0M256.9 113.8h0M262.0 114.0h0M258.5 99.8h0M256.7 118.9h0M262.0 153.0h0M256.3 111.1h0M255.7 127.8h0M260.3 113.5h0M261.5 133.5h0M258.8 128.1h0M254.7 118.2h0M255.1 95.2h0M250.6 114.0h0M253.3 139.4h0M259.4 118.0h0M256.1 130.9h0M260.3 114.5h0M258.2 94.0h0M257.0 127.9h0M259.8 126.4h0M256.2 113.1h0M258.2 116.1h0M256.1 125.9h0M254.6 112.8h0M259.3 126.8h0M251.3 118.6h0M261.5 119.5h0M260.0 112.8h0M255.9 109.2h0M255.7 127.6h0M255.1 114.4h0M255.8 129.6h0M253.0 137.9h0M259.7 123.8h0M260.6 98.7h0M256.3 110.8h0M260.3 135.2h0M253.9 117.8h0M260.4 109.7h0M261.7 120.3h0M258.2 129.1h0M261.6 125.5h0M258.8 131.2h0M258.5 109.4h0M255.9 117.6h0M251.2 117.9h0M251.9 121.4h0M260.0 90.6h0M252.6 118.2h0M258.4 101.8h0M252.3 142.3h0M259.2 144.8h0M261.5 146.6h0M257.6 133.7h0M250.9 114.5h0M259.0 135.9h0M256.0 118.7h0M260.5 130.8h0M252.2 108.3h0M253.7 113.0h0M261.1 128.6h0M260.1 148.0h0M261.0 121.4h0M256.5 155.1h0M261.2 102.7h0M258.1 121.3h0M251.5 107.6h0M252.3 119.7h0M250.5 113.8h0M251.8 120.8h0M250.8 136.0h0M254.9 135.7h0M257.6 125.6h0M260.4 121.8h0M255.2 123.5h0M252.3 123.6h0M261.0 130.3h0M261.0 121.8h0M261.7 129.2h0M250.8 102.3h0M257.3 133.5h0M257.8 147.7h0M256.6 124.5h0M252.7 100.8h0M261.1 141.8h0M256.7 116.9h0M254.5 118.5h0M258.9 130.8h0M252.8 127.5h0M259.4 140.2h0M252.9 131.0h0M255.5 123.6h0M253.9 92.5h0M252.0 105.3h0M260.7 124.5h0M254.4 131.8h0M259.1 106.6h0M260.7 112.7h0M253.8 128.8h0M250.6 93.5h0M256.5 92.9h0M253.2 118.4h0M260.5 125.5h0M252.4 114.7h0M250.8 122.2h0M253.6 102.1h0M252.8 131.5h0M260.3 120.3h0M257.4 125.7h0M258.1 131.3h0M251.4 114.0h0M254.0 134.1h0M260.8 140.3h0M257.6 127.7h0M259.2 141.6h0M256.3 112.5h0M252.9 135.4h0M261.0 125.8h0M253.5 107.2h0M252.5 120.7h0M258.0 114.0h0M251.5 113.6h0M259.3 123.1h0M258.7 137.6h0M254.9 117.1h0M256.4 123.7h0M256.1 100.0h0M251.4 123.4h0M251.4 139.0h0M254.6 133.9h0M250.6 128.9h0M252.6 114.0h0M254.7 107.4h0M257.7 120.4h0M256.4 102.0h0M252.5 103.5h0M259.2 135.8h0M259.6 108.2h0M258.1 148.5h0M258.4 100.6h0M253.4 128.2h0M260.1 104.4h0M257.2 124.4h0M252.5 106.4h0M258.4 122.4h0M257.7 119.5h0M257.0 115.1h0M255.9 129.4h0M259.3 144.2h0M258.9 113.0h0M257.3 135.0h0M251.3 123.1h0M253.2 121.4h0M261.8 154.4h0M255.1 89.6h0M257.8 111.7h0M252.0 94.9h0M257.1 117.2h0M257.5 118.4h0M261.6 127.0h0M255.7 148.5h0M254.1 141.1h0M252.3 115.3h0M254.3 128.9h0M255.6 146.6h0M261.6 124.4h0M256.4 124.9h0M258.3 129.3h0M258.9 99.5h0M250.7 109.8h0M253.2 126.8h0M256.7 129.9h0M251.2 108.2h0M252.2 117.0h0M259.2 120.0h0M258.3 119.6h0M252.1 132.1h0M251.9 123.4h0M260.2 124.3h0M255.9 100.8h0M254.1 106.1h0M258.8 126.6h0M258.2 98.1h0M261.9 125.8h0M251.7 112.0h0M259.3 109.7h0M255.8 131.4h0M253.4 111.7h0M256.2 109.0h0M250.7 111.7h0M251.9 122.6h0M258.5 90.2h0M258.6 121.5h0M253.3 118.1h0M254.0 135.9h0M259.4 116.2h0M254.5 141.5h0M261.4 105.5h0M256.8 120.8h0M256.7 101.3h0M257.5 105.4h0M251.0 114.3h0M255.1 134.5h0M259.6 134.2h0M258.0 112.8h0M260.7 129.1h0M254.1 116.1h0M256.0 123.3h0M253.2 123.9h0M252.6 130.9h0M251.5 112.5h0M252.8 119.7h0M252.4 124.9h0M255.5 123.0h0M255.2 109.7h0M259.3 147.3h0M259.4 114.7h0M256.7 132.9h0M258.1 124.6h0M255.9 139.8h0M254.1 89.0h0M256.3 152.2h0M257.8 118.4h0M261.5 103.2h0M259.9 123.5h0M251.3 155.2h0M257.9 129.1h0M251.5 103.2h0M257.7 114.7h0M260.3 141.5h0M258.5 100.6h0M251.9 118.9h0M255.4 117.2h0M252.7 153.9h0M258.1 117.2h0M258.7 141.1h0M259.0 111.5h0M254.6 109.6h0M257.4 136.5h0M252.9 130.8h0M261.2 95.8h0M261.3 131.1h0M250.8 131.1h0M257.0 112.4h0M258.8 124.8h0M253.2 125.5h0M250.9 114.3h0M250.5 112.8h0M258.6 111.5h0M250.6 117.5h0M254.9 101.7h0M259.7 120.9h0M251.1 99.3h0M258.6 122.6h0M255.5 120.3h0M255.0 106.1h0M256.1 134.2h0M254.5 150.4h0M260.4 141.2h0M258.2 101.2h0M255.0 140.5h0M251.9 124.8h0M256.3 120.7h0M262.0 112.6h0M260.8 121.4h0M251.3 142.2h0M254.6 129.6h0M255.9 115.3h0M255.2 111.5h0M251.8 115.3h0M252.6 130.2h0M256.7 149.3h0M258.8 105.7h0M258.7 121.5h0M258.2 115.8h0M258.2 110.3h0M250.6 127.4h0M253.0 129.7h0M254.4 100.4h0M253.4 106.1h0M255.0 139.3h0M255.1 126.2h0M254.4 129.2h0M250.6 114.0h0M260.4 115.8h0M261.5 128.3h0M257.6 114.1h0M253.6 105.0h0M255.7 121.5h0M261.0 134.9h0M257.4 106.2h0M258.5 137.2h0M258.6 131.9h0M261.8 108.7h0M258.0 121.6h0M251.7 120.9h0M256.3 130.9h0M261.1 131.4h0M252.0 102.1h0M251.1 101.5h0M251.1 136.8h0M251.3 123.2h0M252.4 127.7h0M259.4 126.4h0M257.4 144.2h0M258.9 103.6h0M256.9 137.7h0M254.6 109.3h0M259.5 132.3h0M252.5 141.4h0M254.6 101.0h0M255.3 127.5h0M258.3 117.4h0M259.3 117.2h0M257.0 122.1h0M257.5 105.9h0M253.7 107.2h0M257.3 131.2h0M260.2 134.0h0M255.6 113.1h0M259.1 99.9h0M256.3 155.8h0M256.4 137.8h0M257.5 126.8h0M252.1 106.2h0M253.0 112.9h0M252.5 125.1h0M256.7 107.3h0M258.2 145.2h0M258.6 123.5h0M252.9 127.3h0M254.3 106.2h0M252.2 108.0h0M258.0 109.8h0M255.3 125.6h0M253.6 117.6h0M253.1 117.2h0M261.4 126.2h0M256.0 124.8h0M261.9 143.4h0M254.2 118.6h0M253.0 106.5h0M258.7 121.3h0M261.0 143.1h0M252.4 113.3h0M260.4 122.2h0M257.3 116.2h0M260.9 127.5h0M261.4 125.3h0M255.4 109.5h0M261.3 118.1h0M252.6 135.4h0M255.6 137.7h0M255.6 135.1h0M253.3 134.2h0M256.1 116.6h0M259.2 116.1h0M251.7 135.2h0M256.0 104.2h0M256.5 120.6h0M252.8 94.1h0M257.9 115.9h0M253.4 111.1h0M257.1 103.7h0M257.1 130.0h0M259.1 110.7h0M261.3 116.1h0M261.2 117.7h0M256.3 110.7h0M253.5 142.5h0M253.3 114.2h0M259.5 124.4h0M259.2 102.3h0M259.6 114.5h0M260.1 116.7h0M257.0 117.0h0M260.8 112.9h0M258.1 123.6h0M257.8 144.5h0M260.1 119.6h0M258.0 119.5h0M259.3 115.8h0M255.0 145.3h0M259.1 129.7h0M253.9 131.9h0M256.1 111.1h0M260.5 119.3h0M261.7 124.6h0M261.4 123.3h0M259.2 108.9h0M260.3 110.0h0M260.7 129.1h0M257.5 126.1h0M253.3 90.5h0M250.7 122.9h0M259.3 140.2h0M259.2 112.0h0M258.9 125.1h0M257.2 100.1h0M258.1 133.8h0M258.8 105.1h0M256.6 103.1h0M258.1 116.9h0M256.6 112.5h0M257.7 103.0h0M257.0 128.3h0M253.5 124.9h0M252.0 145.9h0M258.0 102.9h0M251.8 98.1h0M259.6 116.9h0M252.6 127.1h0M259.4 126.8h0M254.6 137.5h0M260.9 99.6h0M253.1 109.4h0M252.3 119.6h0M258.3 133.9h0M259.4 128.5h0M254.5 115.3h0M255.9 106.5h0M258.1 134.5h0M253.9 135.5h0M257.0 118.9h0M254.0 145.4h0M252.2 103.8h0M260.9 113.6h0M251.9 111.6h0M261.8 114.7h0M260.2 108.7h0M255.6 113.6h0M260.4 120.8h0M251.2 114.9h0M257.0 131.3h0M254.6 120.3h0M254.0 121.5h0M260.8 143.2h0M250.9 126.2h0M260.4 123.8h0M251.4 121.3h0M258.3 122.5h0M253.8 130.0h0M256.6 109.8h0M261.1 138.4h0M259.7 144.7h0M251.6 138.5h0M254.0 114.3h0M256.1 98.2h0M258.7 115.1h0M250.6 123.8h0M260.4 133.7h0M260.2 118.9h0M261.5 117.1h0M252.8 143.9h0M253.0 111.7h0M260.1 137.2h0M256.4 134.9h0M253.3 102.0h0M250.7 125.7h0M253.0 113.4h0M258.3 107.6h0M258.9 94.4h0M254.6 98.5h0M261.1 127.7h0M256.4 115.9h0M256.5 125.6h0M255.0 105.9h0M255.1 116.9h0M254.6 117.6h0M260.0 98.9h0M255.6 97.1h0M253.2 128.0h0M255.5 123.7h0M261.1 107.9h0M257.8 120.1h0M251.7 131.3h0M255.3 148.5h0M255.9 108.5h0M250.7 130.6h0M261.6 152.7h0M261.0 122.5h0M251.7 143.1h0M254.1 142.9h0M252.9 121.4h0M253.7 94.0h0M251.1 133.0h0M258.4 137.0h0M254.7 139.3h0M258.5 139.2h0M259.9 121.1h0M257.1 110.6h0M254.5 114.8h0M252.1 121.1h0M258.0 127.5h0M258.3 114.5h0M259.5 122.3h0M252.1 134.5h0M251.0 126.3h0M260.6 155.3h0M257.5 153.3h0M251.6 104.7h0M258.7 113.2h0M251.1 102.3h0M257.8 104.4h0M256.9 129.6h0M258.7 107.0h0M251.6 106.2h0M260.9 117.6h0M261.3 133.3h0M261.8 116.3h0M259.3 116.3h0M254.1 135.1h0M261.8 128.5h0M257.6 128.3h0M258.8 135.5h0M258.1 106.7h0M252.9 124.7h0M260.3 112.2h0M257.9 136.7h0M253.0 133.6h0M254.8 106.2h0M252.2 141.3h0M255.5 104.3h0M261.9 138.8h0M254.9 124.6h0M255.0 108.7h0M259.7 105.1h0M251.5 117.1h0M251.9 121.2h0M259.1 111.1h0M268.6 100.7h0M278.5 126.8h0M271.3 103.1h0M253.0 130.8h0M267.8 106.3h0M256.1 138.5h0M273.9 105.8h0M261.2 119.4h0M252.4 121.4h0M253.9 138.4h0M246.2 106.0h0M256.5 116.3h0M255.7 108.3h0M260.2 132.4h0M267.7 106.2h0M277.8 121.1h0M273.7 116.3h0M264.5 120.6h0M256.6 129.8h0M249.4 128.2h0M265.2 111.3h0M245.4 152.0h0M245.0 124.4h0M267.1 116.6h0M249.2 113.3h0M274.8 132.6h0M268.1 80.7h0M262.7 79.8h0M278.1 130.5h0M247.9 134.1h0M254.6 124.5h0M262.0 91.9h0M279.2 104.9h0M246.0 128.1h0M265.6 106.7h0M277.5 109.9h0M248.4 132.4h0M269.4 114.5h0M268.9 117.2h0M256.5 130.6h0M263.1 134.8h0M278.1 101.4h0M260.5 90.9h0M260.1 105.4h0M264.2 117.0h0M244.2 136.2h0M273.4 111.7h0M244.9 118.8h0M279.7 71.4h0M279.4 137.9h0M273.7 94.3h0M276.6 98.4h0M266.1 95.1h0M254.5 151.5h0M265.6 127.1h0M268.5 105.4h0M248.3 123.2h0M272.1 120.9h0M254.4 101.7h0M262.2 114.8h0M253.0 101.3h0M253.6 72.9h0M275.9 112.3h0M271.9 127.1h0M245.3 139.7h0M271.9 87.9h0M277.7 111.3h0M269.4 90.6h0M269.0 89.5h0M252.9 116.6h0M269.2 101.3h0M257.2 120.3h0M277.6 120.7h0M269.4 105.9h0M255.1 106.4h0M276.1 100.8h0M272.0 136.1h0M250.5 119.6h0M251.1 117.0h0M243.5 116.3h0M271.9 90.7h0M246.2 93.9h0M253.3 122.2h0M270.6 107.5h0M254.5 108.0h0M253.7 119.4h0M245.5 99.8h0M244.9 148.6h0M264.4 134.1h0M248.2 97.4h0M279.1 130.0h0M244.0 141.7h0M254.8 117.3h0M249.9 125.7h0M276.7 113.5h0M271.2 80.9h0M247.2 152.5h0M245.1 127.0h0M246.1 140.5h0M270.7 94.9h0M271.0 75.6h0M266.7 84.8h0M261.3 114.3h0M260.4 117.8h0M265.3 106.3h0M247.1 114.0h0M272.8 126.1h0M272.2 128.0h0M268.5 101.7h0M251.8 113.2h0M251.1 146.3h0M279.8 139.6h0M278.6 102.9h0M271.1 107.5h0M272.4 138.4h0M260.2 131.1h0M275.9 109.7h0M268.9 128.1h0M259.4 118.5h0M268.6 133.9h0M246.0 119.9h0M257.8 122.2h0M274.6 130.8h0M261.0 117.3h0M263.9 120.7h0M264.0 120.6h0M278.4 126.0h0M250.5 108.7h0M268.6 135.3h0M259.8 139.1h0M251.8 123.5h0M244.8 117.1h0M265.9 106.8h0M249.9 130.2h0M264.8 115.7h0M259.1 112.2h0M258.2 89.3h0M276.3 130.4h0M246.4 112.0h0M264.0 102.9h0M258.5 131.4h0M248.7 155.1h0M257.8 90.4h0M275.5 109.3h0M250.4 86.6h0M268.5 138.3h0M253.1 151.0h0M262.5 89.0h0M263.7 137.6h0M245.7 132.8h0M273.3 117.3h0M257.2 120.8h0M250.9 83.2h0M250.8 134.5h0M279.9 76.2h0M278.4 95.2h0M260.6 126.2h0M253.2 86.7h0M269.6 92.8h0M245.0 125.7h0M275.2 110.4h0M243.2 117.6h0M244.9 126.9h0M255.5 151.4h0M260.1 89.5h0M243.2 103.8h0M253.7 131.5h0M279.9 110.7h0M272.0 127.9h0M245.2 105.1h0M275.9 89.0h0M260.5 117.6h0M280.1 127.5h0M255.0 124.1h0M254.6 135.5h0M268.5 97.3h0M261.3 109.4h0M253.4 105.3h0M262.7 73.1h0M266.9 124.3h0M254.7 144.0h0M273.9 93.8h0M271.1 110.9h0M271.2 99.5h0M267.8 82.9h0M251.6 116.0h0M269.5 105.5h0M249.6 136.9h0M248.3 125.9h0M261.9 114.3h0M249.5 141.1h0M247.8 156.5h0M265.2 103.7h0M279.6 135.4h0M245.1 121.0h0M259.7 113.5h0M246.4 138.0h0M263.2 114.4h0M264.5 110.8h0M261.4 128.3h0M244.5 144.8h0M269.3 128.3h0M262.0 131.5h0M264.5 99.2h0M268.1 72.6h0M277.0 117.8h0M259.3 117.1h0M277.2 121.6h0M249.6 89.3h0M260.0 125.0h0M249.6 118.4h0M257.0 122.8h0M276.9 125.2h0M279.6 100.4h0M260.7 117.7h0M253.4 119.0h0M255.1 94.4h0M276.8 105.7h0M259.4 95.9h0M250.4 124.5h0M274.3 120.8h0M262.1 116.7h0M259.0 110.9h0M276.9 84.3h0M271.0 106.2h0M243.5 113.4h0M279.2 94.7h0M260.0 115.1h0M249.7 100.1h0M277.1 109.2h0M258.7 133.2h0M268.7 120.9h0M271.2 110.4h0M250.3 113.6h0M279.9 104.5h0M264.1 119.4h0M245.1 116.4h0M263.1 128.8h0M243.7 120.6h0M279.7 112.9h0M268.0 81.3h0M257.2 95.1h0M273.0 92.8h0M272.8 115.9h0M269.3 93.4h0M251.8 118.7h0M246.5 124.5h0M275.1 124.4h0M276.3 93.3h0M256.0 133.6h0M257.5 85.0h0M258.1 122.0h0M253.4 88.0h0M278.2 96.9h0M262.9 105.6h0M269.6 131.7h0M265.7 142.0h0M246.4 112.1h0M245.7 103.1h0M248.5 110.2h0M261.6 99.4h0M266.5 109.7h0M280.3 94.6h0M276.8 113.1h0M270.7 73.9h0M257.4 142.7h0M255.9 115.1h0M269.1 81.7h0M256.0 113.6h0M271.7 108.8h0M270.3 116.1h0M247.5 155.1h0M273.1 144.5h0M246.5 141.4h0M254.9 121.2h0M279.6 113.5h0M267.4 113.8h0M275.1 75.9h0M277.8 91.9h0M252.9 124.0h0M272.8 93.3h0M257.0 120.1h0M245.4 128.0h0M247.0 116.6h0M247.7 125.3h0M266.7 107.9h0M267.1 104.4h0M274.8 129.8h0M254.1 139.9h0M271.6 118.1h0M253.0 152.5h0M254.8 114.1h0M267.6 101.4h0M257.7 119.3h0M280.4 113.5h0M254.9 130.1h0M251.9 140.1h0M276.0 139.5h0M275.7 114.4h0M249.1 105.7h0M255.7 145.9h0M262.1 120.5h0M245.5 139.0h0M256.9 128.8h0M271.9 128.4h0M271.8 89.3h0M248.6 97.7h0M254.4 113.4h0M253.1 112.1h0M268.7 131.9h0M247.9 138.1h0M280.0 89.6h0M247.4 117.5h0M262.8 135.3h0M269.4 120.1h0M278.6 84.5h0M266.0 107.4h0M275.1 87.4h0M262.9 88.2h0M251.3 146.0h0M258.8 98.0h0M265.8 119.1h0M262.9 105.0h0M272.3 106.5h0M263.2 121.2h0M257.4 113.2h0M262.3 103.0h0M262.5 117.4h0M243.4 83.3h0M255.3 99.8h0M264.5 120.8h0M269.7 106.5h0M259.0 128.9h0M271.0 104.1h0M261.9 105.5h0M256.9 132.5h0M252.1 125.1h0M272.9 128.2h0M277.6 84.2h0M270.4 93.8h0M251.3 137.1h0M269.5 112.2h0M261.9 86.2h0M277.7 91.0h0M243.2 125.6h0M272.0 118.4h0M260.5 95.8h0M275.1 96.1h0M265.7 121.7h0M243.3 143.3h0M268.9 113.8h0M263.0 138.8h0M252.0 108.2h0M247.6 113.1h0M257.9 107.9h0M264.0 126.6h0M260.9 138.9h0M243.6 110.7h0M248.5 109.4h0M268.5 144.9h0M263.5 82.0h0M270.9 128.4h0M258.5 101.3h0M252.6 102.3h0M272.9 142.3h0M251.2 143.7h0M245.3 156.3h0M256.8 134.0h0M259.9 140.2h0M250.8 102.7h0M278.8 64.9h0M251.7 146.9h0M247.6 132.4h0M267.8 109.3h0M248.4 132.6h0M253.5 124.1h0M258.5 105.8h0M253.3 145.4h0M267.5 81.1h0M248.3 144.6h0M267.2 124.5h0M247.3 97.6h0M264.8 100.8h0M279.7 105.9h0M272.5 104.6h0M278.5 132.3h0M263.5 103.7h0M248.9 134.6h0M256.9 102.5h0M272.1 122.0h0M247.9 114.9h0M267.9 113.3h0M255.1 102.6h0M277.4 106.9h0M256.1 106.7h0M255.1 90.7h0M253.2 144.7h0M263.2 143.3h0M278.7 82.3h0M263.3 90.6h0M270.8 98.5h0M262.5 114.1h0M246.1 121.8h0M265.0 102.8h0M265.3 124.5h0M265.4 116.9h0M254.2 128.7h0M253.0 100.9h0M255.3 76.6h0M244.2 109.5h0M249.0 112.6h0M253.8 84.4h0M262.2 99.1h0M277.2 125.1h0M269.3 133.4h0M262.4 99.4h0M269.9 131.7h0M259.7 126.3h0M244.8 127.3h0M268.7 119.3h0M269.5 119.1h0M267.6 118.6h0M275.0 84.3h0M272.3 97.5h0M274.1 114.9h0M244.7 139.5h0M280.5 121.8h0M265.1 116.4h0M265.2 108.8h0M266.0 107.3h0M253.1 111.5h0M254.4 105.6h0M275.9 81.2h0M265.5 101.8h0M279.0 77.2h0M250.8 122.2h0M265.0 100.1h0M265.5 106.6h0M244.4 140.4h0M266.5 109.5h0M257.4 150.7h0M259.1 133.5h0M250.0 144.3h0M265.3 112.7h0M268.3 119.7h0M276.5 97.8h0M274.6 116.4h0M279.8 85.1h0M279.6 120.5h0M269.3 114.7h0M253.5 137.2h0M263.3 111.3h0M246.1 128.1h0M264.2 121.4h0M254.5 123.8h0M263.1 134.2h0M271.1 91.7h0M245.3 116.5h0M275.9 98.4h0M244.4 109.6h0M261.4 137.1h0M251.2 149.2h0M244.5 111.2h0M261.0 115.3h0M252.8 147.4h0M246.0 143.2h0M273.9 99.4h0M252.2 107.7h0M278.2 111.9h0M265.8 138.0h0M256.3 122.1h0M245.3 114.0h0M275.1 116.9h0M247.1 126.7h0M272.1 121.1h0M262.8 110.4h0M260.1 112.3h0M246.0 113.2h0M258.8 114.1h0M243.6 145.9h0M271.6 131.3h0M269.5 115.6h0M248.1 93.4h0M262.1 111.3h0M249.7 108.0h0M269.7 93.9h0M250.1 112.4h0M249.5 114.2h0M253.7 119.2h0M279.4 95.0h0M273.7 83.0h0M258.1 109.1h0M272.8 140.8h0M256.6 129.5h0M250.0 115.2h0M276.6 88.4h0M244.4 124.4h0M272.7 79.1h0M279.0 141.3h0M246.2 143.3h0M275.2 116.6h0M272.3 115.9h0M244.6 109.6h0M259.7 109.5h0M252.8 123.4h0M257.4 148.8h0M257.3 106.5h0M257.8 111.1h0M243.4 109.6h0M253.2 125.4h0M253.9 125.0h0M267.4 131.0h0M269.1 101.6h0M271.1 134.9h0M266.9 128.8h0M276.5 79.3h0M263.9 135.7h0M254.8 79.4h0M244.5 146.9h0M270.3 80.8h0M264.1 101.2h0M249.1 106.9h0M262.2 138.4h0M278.4 98.2h0M265.7 123.6h0M254.6 129.1h0M273.3 80.5h0M257.8 118.7h0M243.6 87.7h0M246.0 124.1h0M279.1 114.0h0M246.5 127.7h0M272.4 108.9h0M244.2 118.2h0M258.9 78.2h0M253.6 110.5h0M255.9 120.0h0M246.4 128.5h0M258.1 127.8h0M271.5 139.0h0M262.7 132.6h0M248.0 127.0h0M273.2 85.5h0M275.7 111.7h0M260.1 112.6h0M256.5 129.9h0M243.7 97.7h0M245.6 137.5h0M257.1 105.6h0M247.2 129.7h0M279.4 99.3h0M267.2 113.3h0M254.7 128.7h0M264.9 93.8h0M249.3 110.9h0M277.4 134.5h0M261.8 107.7h0M269.2 116.8h0M260.8 117.3h0M269.8 115.5h0M257.5 84.1h0M245.4 112.4h0M260.6 116.1h0M273.9 104.9h0M260.3 95.0h0M279.7 84.4h0M264.0 119.3h0M276.1 111.6h0M244.2 122.1h0M266.7 134.4h0M262.1 77.7h0M256.4 87.3h0M276.8 93.4h0M246.4 153.6h0M261.2 103.3h0M254.5 113.9h0M279.0 105.2h0M272.3 118.0h0M250.5 102.9h0M247.8 129.8h0M243.9 119.2h0M249.7 113.5h0M277.8 104.7h0M275.7 121.6h0M273.0 116.9h0M258.0 129.0h0M261.1 105.4h0M264.6 109.3h0M273.4 123.1h0M243.2 112.0h0M249.8 104.3h0M264.8 105.4h0M248.3 115.8h0M278.2 100.0h0M244.7 133.1h0M279.5 111.9h0M251.0 130.6h0M250.3 122.1h0M258.9 131.1h0M266.9 113.7h0M279.7 119.3h0M260.9 122.1h0M276.7 73.0h0M276.4 117.7h0M279.9 104.8h0M256.5 99.9h0M260.8 94.9h0M243.8 110.8h0M257.4 119.3h0M256.3 144.8h0M247.7 127.0h0M274.2 86.0h0M253.5 126.0h0M247.9 127.7h0M247.3 119.4h0M243.9 117.0h0M271.3 150.1h0M262.9 94.1h0M262.6 98.5h0M258.5 115.4h0M279.1 105.4h0M257.2 86.5h0M260.8 89.1h0M268.9 112.6h0M277.8 90.9h0M275.2 90.2h0M276.1 97.8h0M249.9 128.3h0M278.4 101.6h0M273.9 114.0h0M255.4 129.8h0M273.2 109.0h0M278.7 113.0h0M270.9 108.7h0M270.7 118.4h0M274.4 130.4h0M276.0 100.9h0M272.3 120.8h0M245.9 106.0h0M250.8 109.5h0M247.5 127.3h0M260.5 135.9h0M245.5 135.2h0M263.6 149.7h0M277.7 75.4h0M279.8 78.9h0M244.4 118.4h0M268.6 95.3h0M248.4 79.9h0M275.3 134.0h0M244.2 125.1h0M246.9 133.8h0M255.1 124.9h0M243.2 107.1h0M267.8 103.1h0M250.7 146.0h0M270.0 102.4h0M278.6 124.3h0M260.6 130.3h0M260.6 115.8h0M280.4 111.7h0M254.8 112.4h0M276.2 109.0h0M269.7 140.2h0M243.3 145.7h0M254.2 103.9h0M270.0 111.9h0M244.7 127.6h0M275.2 102.0h0M277.2 100.0h0M271.5 125.0h0M273.4 111.9h0M265.4 91.9h0M273.3 118.6h0M260.5 127.0h0M258.3 104.7h0M269.4 105.4h0M260.4 116.1h0M254.6 99.2h0M252.9 115.5h0M259.4 117.6h0M257.3 125.9h0M271.3 103.1h0M272.4 138.5h0M272.9 108.5h0M274.7 98.3h0M256.6 109.7h0M256.9 144.6h0M274.4 91.2h0M249.8 135.7h0M269.3 144.3h0M262.7 114.7h0M268.0 109.0h0M269.1 104.8h0M268.1 96.5h0M251.8 135.6h0M243.9 122.5h0M278.7 108.7h0M276.7 134.0h0M261.9 102.7h0M267.8 117.4h0M246.4 92.6h0M260.2 134.6h0M265.0 80.0h0M269.2 120.6h0M251.2 95.6h0M246.5 153.1h0M279.0 128.9h0M274.8 124.4h0M249.7 126.8h0M273.8 108.2h0M273.5 116.6h0M249.8 137.6h0M273.2 121.1h0M257.3 131.6h0M255.5 104.3h0M249.0 124.1h0M265.2 102.2h0M266.0 91.7h0M262.2 79.4h0M246.7 132.8h0M272.8 91.0h0M254.9 135.1h0M252.9 128.5h0M267.0 109.7h0M249.9 102.4h0M277.1 131.2h0M267.3 96.5h0M272.6 117.5h0M255.8 97.7h0M259.1 123.1h0M252.4 113.1h0M252.4 99.0h0M258.6 119.5h0M272.5 105.9h0M261.9 90.7h0M274.2 86.8h0M247.2 119.3h0M253.8 98.6h0M244.4 126.1h0M277.2 105.5h0M245.4 138.6h0M263.3 112.2h0M268.3 116.7h0M250.7 116.0h0M279.8 100.5h0M279.8 86.2h0M251.9 94.5h0M248.2 135.2h0M267.4 135.4h0M262.3 116.8h0M265.7 121.2h0M266.2 104.3h0M278.9 76.1h0M271.8 108.6h0M254.7 121.1h0M271.0 104.3h0M259.8 144.0h0M279.6 95.7h0M260.9 94.6h0M243.4 127.2h0M277.4 77.6h0M253.4 135.8h0M273.8 106.0h0M265.9 108.8h0M270.9 90.2h0M270.7 101.6h0M277.0 132.3h0M274.2 97.1h0M267.2 131.1h0M255.2 134.5h0M261.5 111.4h0M253.5 129.1h0M255.6 116.2h0M260.3 93.3h0M258.9 110.3h0M253.9 148.1h0M254.4 116.4h0M254.7 126.1h0M250.2 121.9h0M264.9 130.8h0M246.5 85.5h0M252.3 114.6h0M249.4 118.9h0M269.5 107.1h0M253.5 148.8h0M246.7 126.6h0M273.8 115.4h0M259.4 100.7h0M273.2 114.8h0M255.0 103.5h0M256.0 148.6h0M264.0 113.4h0M245.6 120.1h0M279.6 96.6h0M248.0 103.1h0M277.2 84.5h0M267.7 121.0h0M271.7 83.7h0M250.9 139.7h0M276.5 128.1h0M263.1 138.0h0M258.5 128.3h0M250.2 130.8h0M249.4 134.6h0M275.4 69.7h0M279.4 101.9h0M258.7 109.9h0M270.1 94.4h0M269.2 125.0h0M261.5 96.9h0M261.0 115.5h0M263.7 127.2h0M256.0 148.5h0M271.0 115.0h0M258.7 116.5h0M261.9 130.4h0M249.8 110.2h0M279.6 101.2h0M245.9 117.2h0M269.9 109.9h0M267.8 119.2h0M255.9 113.7h0M279.6 97.1h0M244.4 99.3h0M253.2 96.0h0M255.7 143.4h0M267.1 102.6h0M265.1 109.9h0M269.7 99.3h0M275.3 122.0h0M243.7 100.2h0M264.0 81.5h0M258.0 148.9h0M268.8 135.2h0M262.8 103.9h0M256.1 85.4h0M243.3 159.7h0M254.7 123.7h0M259.7 142.0h0M255.6 132.3h0M257.2 139.4h0M267.4 122.2h0M255.6 116.1h0M274.9 105.5h0M256.6 109.9h0M259.3 148.3h0M259.3 101.0h0M276.9 101.5h0M265.7 132.8h0M279.2 102.4h0M243.2 123.4h0M278.8 126.7h0M250.3 112.0h0M276.7 117.0h0M244.6 134.1h0M275.1 70.5h0M266.7 106.6h0M268.7 82.6h0M257.7 99.6h0M257.6 120.1h0M248.9 123.4h0M248.3 119.4h0M266.4 96.2h0M255.8 149.2h0M244.1 111.3h0M249.4 85.1h0M249.4 127.7h0M250.2 109.3h0M260.0 129.1h0M277.1 113.6h0M264.8 116.5h0M270.8 117.1h0M247.0 143.3h0M269.0 107.8h0M275.4 125.1h0M280.3 98.9h0M269.7 117.5h0M265.8 114.9h0M279.1 99.8h0M247.8 124.7h0M272.7 87.4h0M270.0 102.2h0M270.2 91.9h0M256.3 107.6h0M246.0 125.5h0M248.3 122.6h0M268.4 102.5h0M254.7 133.0h0M278.6 123.3h0M247.6 136.3h0M273.5 85.3h0M260.9 144.1h0M254.0 107.8h0M252.6 116.2h0M256.3 123.0h0M256.8 103.7h0M251.5 123.3h0M251.2 127.5h0M279.4 100.3h0M258.8 100.4h0M266.4 147.6h0M269.3 126.7h0M255.4 98.4h0M278.1 111.3h0M254.0 132.6h0M250.2 106.7h0M244.7 90.0h0M252.9 113.4h0M245.3 109.7h0M266.5 103.1h0M264.6 101.0h0M243.8 149.9h0M278.6 98.8h0M270.3 76.2h0M263.6 103.5h0M278.4 128.7h0M262.9 102.3h0M249.6 133.9h0M272.2 83.1h0M278.8 110.1h0M245.2 96.8h0M261.9 144.7h0M251.5 137.2h0M276.9 119.0h0M246.6 83.6h0M273.3 121.6h0M250.7 140.7h0M267.0 131.6h0M268.9 73.4h0M271.5 96.2h0M245.0 90.6h0M261.1 106.4h0M247.7 119.4h0M247.7 125.9h0M249.1 113.8h0M248.5 120.1h0M278.1 108.8h0M264.0 113.9h0M252.5 97.7h0M261.2 140.3h0M245.1 158.1h0M251.1 118.0h0M266.5 140.5h0M269.0 95.5h0M266.1 116.3h0M279.9 120.9h0M279.7 126.5h0M274.3 119.6h0M260.5 104.5h0M271.4 73.2h0M252.3 119.5h0M275.4 113.8h0M252.1 102.3h0M280.2 128.6h0M243.5 119.9h0M272.9 82.3h0M261.8 129.4h0M273.6 113.0h0M262.5 117.6h0M274.3 100.6h0M269.6 121.0h0M267.0 109.0h0M278.7 103.5h0M247.4 135.4h0M277.7 110.6h0M262.6 140.3h0M269.5 118.0h0M268.1 95.0h0M257.7 117.1h0M262.8 131.3h0M279.5 104.8h0M261.3 127.7h0M277.4 112.0h0M243.3 116.7h0M264.5 143.2h0M268.8 102.8h0M257.8 122.9h0M246.0 153.0h0M272.7 129.3h0M271.2 110.8h0M257.3 135.3h0M246.7 103.7h0M274.5 104.4h0M272.1 107.6h0M274.3 125.5h0M273.7 110.7h0M252.9 105.3h0M266.4 134.5h0M260.5 140.0h0M257.6 119.5h0M258.4 99.3h0M268.2 96.7h0M280.4 114.9h0M260.7 105.5h0M256.7 125.4h0M266.5 99.2h0M266.6 139.9h0M258.3 106.2h0M267.2 79.0h0M267.6 75.0h0M271.0 137.3h0M249.3 114.8h0M267.5 129.7h0M258.7 147.0h0M276.0 87.0h0M266.2 147.3h0M273.4 96.2h0M273.4 97.0h0M251.0 131.1h0M245.9 142.0h0M271.5 103.9h0M245.1 120.7h0M278.6 139.6h0M268.9 107.3h0M258.9 119.3h0M268.1 104.4h0M247.9 117.8h0M266.9 124.0h0M277.5 136.3h0M243.0 83.7h0M278.2 110.0h0M254.7 117.2h0M257.9 132.8h0M278.2 98.7h0M272.9 130.0h0M257.4 110.1h0M279.7 97.4h0M244.2 103.3h0M267.8 113.6h0M262.1 148.6h0M276.3 131.2h0M243.7 129.3h0M255.1 103.7h0M260.9 118.6h0M245.7 114.5h0M267.2 113.5h0M274.8 141.9h0M277.0 101.8h0M248.4 120.3h0M262.0 122.2h0M279.9 133.1h0M245.7 131.9h0M269.4 112.0h0M253.7 140.1h0M277.1 88.0h0M265.8 140.1h0M276.6 100.1h0M244.9 123.5h0M265.7 106.2h0M258.8 84.1h0M247.0 136.0h0M258.3 123.6h0M270.8 102.2h0M264.8 134.0h0M265.3 113.3h0M253.5 113.6h0M262.1 104.0h0M259.7 147.6h0M277.1 115.1h0M275.9 104.1h0M259.4 141.6h0M261.9 115.0h0M254.0 134.4h0M264.3 100.6h0M247.9 130.6h0M279.2 121.6h0M258.5 113.4h0M243.3 116.6h0M254.1 116.5h0M278.6 122.8h0M254.6 143.3h0M257.5 148.3h0M279.6 138.7h0M272.4 83.5h0M256.5 109.5h0M249.2 124.5h0M257.7 94.0h0M257.0 149.6h0M276.5 80.7h0M263.2 97.5h0M277.7 110.3h0M280.0 135.2h0M275.6 129.3h0M258.2 136.5h0M257.6 132.9h0M263.5 126.7h0M268.5 126.0h0M274.8 128.7h0M273.7 85.2h0M254.7 121.5h0M270.6 116.4h0M257.1 118.3h0M272.1 113.9h0M243.5 111.0h0M274.8 106.2h0M269.2 113.1h0M248.5 105.5h0M252.4 114.6h0M254.7 123.5h0M262.3 103.7h0M277.0 108.0h0M279.4 102.3h0M265.6 106.9h0M247.1 122.3h0M279.7 118.9h0M279.0 83.8h0M246.3 130.1h0M268.0 110.8h0M268.0 74.7h0M267.8 115.2h0M270.2 139.8h0M243.2 129.5h0M254.6 98.2h0M255.7 123.2h0M267.3 107.0h0M246.6 112.0h0M253.4 130.4h0M249.6 93.2h0M244.8 141.4h0M260.8 150.5h0M250.7 134.5h0M261.1 85.2h0M250.7 108.2h0M272.7 103.4h0M247.2 83.5h0M271.9 111.2h0M267.7 143.1h0M248.9 107.6h0M257.2 79.2h0M257.3 135.7h0M260.1 133.7h0M268.3 90.6h0M243.6 117.5h0M249.2 110.8h0M269.2 119.8h0M246.5 137.7h0M274.7 115.3h0M256.9 94.9h0M244.4 141.0h0M271.8 123.6h0M252.2 122.5h0M280.4 103.8h0M277.6 116.9h0M276.2 101.5h0M276.1 100.6h0M245.8 147.6h0M244.0 94.0h0M258.0 136.7h0M258.8 77.9h0M258.3 108.1h0M265.4 118.1h0M272.4 123.6h0M272.6 107.9h0M277.9 108.0h0M268.4 120.0h0M275.9 107.0h0M246.4 126.3h0M244.0 149.1h0M259.9 147.3h0M276.1 100.0h0M257.5 106.0h0M247.2 87.6h0M247.7 102.6h0M251.6 108.7h0M275.4 79.1h0M255.6 110.5h0M275.2 137.9h0M278.3 124.1h0M272.0 116.7h0M277.6 91.3h0M252.6 92.6h0M250.3 121.9h0M252.1 102.8h0M243.7 105.8h0M277.9 141.5h0M250.7 105.1h0M266.6 124.6h0M253.7 114.4h0M263.2 147.3h0M259.3 124.2h0M270.0 124.6h0M250.5 100.4h0M253.8 117.4h0M248.2 127.1h0M255.2 131.5h0M274.3 102.5h0M279.1 122.5h0M243.6 94.1h0M274.7 116.3h0M270.5 118.8h0M246.0 103.1h0M249.0 149.4h0M275.5 109.6h0M250.3 105.9h0M277.1 100.8h0M263.2 97.5h0M279.9 135.9h0M261.9 116.3h0M247.9 118.0h0M265.7 81.6h0M259.7 117.1h0M245.7 151.6h0M273.7 129.6h0M276.7 127.1h0M279.1 97.8h0M267.2 110.0h0M264.9 122.7h0M250.3 133.7h0M279.2 109.4h0M270.6 149.1h0M268.1 119.7h0M269.0 132.5h0M274.6 145.4h0M255.9 109.2h0M247.2 127.2h0M280.2 111.4h0M244.2 128.0h0M253.2 108.2h0M261.4 90.9h0M244.5 137.9h0M254.6 120.9h0M275.6 112.2h0M266.5 98.6h0M264.9 139.8h0M243.7 136.8h0M259.0 117.9h0M247.6 133.0h0M257.5 113.7h0M257.6 137.2h0M258.9 116.5h0M254.8 93.3h0M272.3 116.5h0M260.4 128.5h0M277.1 87.6h0M255.9 133.9h0M248.4 103.4h0M256.3 103.8h0M275.7 114.5h0M256.5 113.1h0M273.8 136.1h0M269.0 107.7h0M252.7 95.4h0M250.2 145.0h0M247.2 136.0h0M259.9 107.0h0M269.0 85.7h0M254.0 120.6h0M278.8 105.6h0M243.5 128.7h0M272.5 137.2h0M249.4 146.0h0M280.4 117.1h0M246.7 138.3h0M277.5 131.2h0M258.1 87.1h0M253.7 140.4h0M244.5 110.0h0M251.2 91.9h0M257.4 120.1h0M278.1 85.6h0M279.3 97.1h0M246.0 82.1h0M264.1 103.5h0M244.2 156.0h0M246.9 156.7h0M266.1 140.2h0M262.8 122.1h0M276.8 105.1h0M276.9 77.7h0M249.0 132.6h0M266.8 86.3h0M273.2 115.7h0M272.0 119.9h0M264.3 115.3h0M262.2 110.1h0M264.4 122.0h0M258.5 144.4h0M264.2 118.6h0M276.4 82.2h0M256.0 115.2h0M259.5 97.4h0M259.4 104.5h0M275.5 112.4h0M252.2 117.0h0M259.5 100.8h0M271.2 109.6h0M257.7 118.3h0M275.1 99.9h0M263.2 75.3h0M246.7 122.2h0M256.8 105.7h0M248.5 128.6h0M259.5 112.3h0M256.7 151.3h0M255.7 96.1h0M274.1 114.0h0M276.6 68.2h0M271.3 73.6h0M271.7 82.3h0M276.5 116.6h0M277.4 103.1h0M249.5 106.5h0M276.7 117.7h0M249.0 118.8h0M253.2 116.9h0M272.7 109.0h0M248.4 113.3h0M279.2 97.7h0M277.9 108.6h0M243.0 142.9h0M266.9 87.2h0M277.7 144.0h0M263.3 104.3h0M263.1 115.2h0M265.0 141.4h0M263.7 101.6h0M264.8 113.2h0M268.5 104.6h0M278.9 87.5h0M246.1 115.4h0M251.8 125.1h0M243.2 148.0h0M245.5 115.4h0M250.6 114.0h0M276.8 87.8h0M254.8 86.9h0M265.5 99.7h0M254.7 101.6h0M280.0 130.7h0M250.2 101.5h0M257.8 101.4h0M256.9 80.4h0M251.0 122.5h0M245.8 111.6h0M257.7 110.9h0M250.6 140.0h0M243.9 99.6h0M276.2 85.7h0M255.9 119.1h0M243.4 128.2h0M266.1 92.5h0M260.9 89.6h0M268.9 97.5h0M256.5 127.5h0M248.3 120.5h0M267.0 82.3h0M257.9 126.8h0M275.9 106.0h0M255.2 136.5h0M251.3 112.3h0M250.0 80.4h0M252.6 118.5h0M251.9 127.9h0M262.6 124.6h0M257.0 128.3h0M279.4 95.3h0M250.6 86.7h0M278.3 85.8h0M255.6 115.8h0M261.1 118.0h0M279.0 82.7h0M272.3 96.5h0M278.5 97.7h0M263.2 141.4h0M254.9 124.3h0M268.3 107.8h0M268.7 97.1h0M244.6 112.4h0M247.0 130.9h0M278.5 113.8h0M270.0 110.2h0M273.9 97.8h0M250.0 143.9h0M279.5 118.2h0M254.3 153.0h0M248.3 147.3h0M256.5 136.6h0M256.2 118.9h0M245.2 111.0h0M274.7 86.4h0M275.6 129.2h0M250.4 109.1h0M263.7 129.2h0M275.6 94.4h0M257.2 84.3h0M262.1 96.5h0M252.2 137.3h0M260.5 139.4h0M254.7 88.7h0M273.9 91.8h0M249.0 122.9h0M244.2 134.9h0M276.8 139.1h0M249.5 132.5h0M263.6 123.9h0M269.6 131.2h0M255.3 97.9h0M277.8 116.9h0M255.7 110.7h0M250.4 135.1h0M245.5 125.9h0M276.7 98.4h0M251.1 133.3h0M276.7 142.0h0M260.1 110.3h0M278.0 128.5h0M246.3 114.9h0M275.1 91.3h0M279.7 107.0h0M269.7 131.1h0M248.0 138.3h0M280.4 139.4h0M273.0 123.0h0M250.9 85.6h0M279.4 119.9h0M246.2 136.1h0M247.9 109.6h0M243.6 88.8h0M265.2 106.1h0M258.1 103.8h0M246.2 117.6h0M261.5 114.9h0M276.0 110.1h0M246.5 133.7h0M267.0 112.7h0M249.3 126.0h0M262.2 82.9h0M255.9 96.2h0M253.3 103.1h0M243.5 119.1h0M264.7 87.7h0M259.6 140.3h0M268.9 130.3h0M249.9 115.8h0M279.9 132.4h0M243.7 133.2h0M250.3 90.4h0M267.1 111.7h0M248.0 136.6h0M252.8 132.8h0M261.8 135.4h0M271.4 137.6h0M275.4 124.5h0M254.9 130.8h0M267.7 136.5h0M243.9 142.4h0M276.4 92.4h0M268.2 88.8h0M276.8 110.1h0M250.9 116.7h0M261.6 130.8h0M270.9 76.8h0M243.9 144.9h0M274.5 91.2h0M269.5 99.0h0M272.6 91.5h0M249.1 120.4h0M272.1 76.3h0M264.3 118.5h0M248.6 112.5h0M248.0 108.1h0M275.2 103.6h0M257.9 150.9h0M253.2 122.4h0M256.8 114.5h0M268.7 129.0h0M248.1 156.2h0M249.1 118.0h0M267.4 141.3h0M276.5 73.3h0M268.2 104.9h0M278.4 117.1h0M253.6 121.8h0M256.3 96.1h0M257.0 112.7h0M256.5 120.5h0M253.1 78.5h0M272.7 95.1h0M253.6 127.6h0M258.6 94.1h0M260.7 104.7h0M280.4 73.7h0M255.4 106.1h0M268.9 106.0h0M255.3 115.8h0M273.0 77.0h0M257.5 147.4h0M243.8 103.0h0M262.6 109.2h0M255.7 109.6h0M252.9 148.1h0M254.0 118.3h0M243.1 115.4h0M270.4 80.7h0M263.5 123.3h0M266.9 105.0h0M264.4 145.1h0M257.3 119.1h0M260.2 150.4h0M260.9 140.0h0M277.4 74.9h0M256.1 121.1h0M248.7 120.3h0M246.1 140.3h0M255.6 126.8h0M264.5 79.6h0M264.8 94.6h0M270.3 128.9h0M267.7 143.3h0M246.1 140.6h0M257.6 109.2h0M256.9 113.2h0M247.2 118.6h0M265.1 135.9h0M272.0 113.5h0M244.6 104.2h0M262.9 108.6h0M247.5 127.3h0M272.1 93.4h0M263.9 90.3h0M245.5 114.2h0M262.3 92.5h0M252.0 125.8h0M250.8 149.3h0M268.0 123.2h0M258.2 98.3h0M277.8 97.3h0M277.4 130.6h0M275.0 85.1h0M258.4 122.6h0M276.9 101.1h0M245.7 107.2h0M272.1 111.4h0M256.5 119.3h0M275.5 101.4h0M244.1 150.9h0M264.6 95.5h0M245.6 137.5h0M254.0 118.9h0M264.2 117.7h0M248.2 114.2h0M269.0 131.8h0M262.2 114.3h0M251.4 133.8h0M263.2 137.3h0M259.7 107.8h0M244.3 132.9h0M269.6 106.9h0M269.8 78.5h0M277.1 91.7h0M278.3 123.9h0M256.9 122.0h0M267.1 124.3h0M265.8 112.2h0M245.0 124.4h0M270.1 114.9h0M253.2 137.2h0M258.9 113.2h0M266.3 97.1h0M261.9 138.9h0M253.5 130.8h0M275.7 98.6h0M246.5 123.6h0M265.6 115.9h0M249.9 133.4h0M277.7 124.8h0M278.1 135.0h0M269.8 128.1h0M276.2 104.2h0M271.7 132.7h0M267.5 119.5h0M271.0 105.0h0M277.2 115.5h0M251.1 115.8h0M270.3 143.9h0M249.7 115.0h0M260.3 102.7h0M255.7 119.5h0M266.8 118.8h0M267.0 85.4h0M276.8 114.3h0M274.5 114.3h0M245.4 134.8h0M249.5 154.1h0M244.7 90.6h0M269.6 107.3h0M256.0 112.2h0M279.6 118.4h0M251.0 82.1h0M278.9 132.1h0M271.4 108.2h0M271.6 103.5h0M265.8 95.0h0M276.2 107.0h0M251.8 108.5h0M275.6 124.0h0M276.0 86.8h0M265.7 106.1h0M267.8 119.8h0M251.6 132.8h0M261.4 95.3h0M265.0 116.3h0M254.9 106.7h0M244.6 123.8h0M278.6 123.6h0M273.2 112.0h0M256.7 103.3h0M263.0 74.9h0M265.2 109.9h0M278.9 121.3h0M263.9 127.2h0M270.1 135.8h0M273.1 137.3h0M246.8 95.4h0M264.8 72.8h0M277.9 110.7h0M273.9 102.0h0M277.6 100.4h0M249.1 127.3h0M272.2 96.7h0M253.5 124.5h0M275.8 108.7h0M272.4 92.5h0M257.1 85.1h0M264.7 100.0h0M260.6 135.3h0M278.3 102.3h0M263.8 116.8h0M245.9 148.0h0M263.1 103.3h0M243.7 106.6h0M248.1 93.1h0M261.4 109.3h0M260.3 111.4h0M245.6 124.1h0M255.8 96.8h0M253.8 107.4h0M253.8 145.3h0M259.6 83.4h0M244.3 125.1h0M244.2 100.8h0M251.8 104.3h0M269.9 71.6h0M278.1 122.2h0M271.3 116.4h0M245.9 126.8h0M273.9 113.0h0M273.7 144.0h0M274.7 73.9h0M270.3 95.4h0M252.8 141.6h0M261.6 129.2h0M259.5 100.5h0M244.3 112.3h0M263.3 140.1h0M252.9 87.0h0M278.7 108.9h0M268.0 85.2h0M273.4 70.7h0M244.2 96.4h0M269.7 122.3h0M273.1 136.1h0M260.3 108.0h0M252.5 115.1h0M261.3 79.1h0M263.6 128.1h0M259.3 75.7h0M254.9 144.6h0M268.1 108.0h0M276.4 115.0h0M253.1 109.6h0M276.1 70.9h0M245.1 139.6h0M268.8 123.8h0M255.9 110.7h0M262.7 119.0h0M256.3 145.9h0M246.0 106.0h0M249.2 107.5h0M280.0 92.4h0M258.6 138.5h0M278.6 119.6h0M262.5 129.4h0M276.7 69.4h0M259.7 118.1h0M280.2 74.6h0M260.9 109.1h0M252.7 113.0h0M249.6 102.5h0M245.7 125.0h0M247.1 132.2h0M268.6 75.3h0M256.6 110.2h0M275.8 104.6h0M250.4 102.6h0M278.0 125.7h0M250.1 111.2h0M253.1 116.2h0M255.7 140.7h0M252.9 101.8h0M258.6 112.5h0M273.1 100.9h0M245.7 100.3h0M252.2 105.9h0M245.0 116.4h0M272.1 104.0h0M247.5 146.2h0M262.1 117.1h0M275.6 104.2h0M254.8 99.5h0M247.3 132.9h0M253.0 136.8h0M278.2 97.1h0M246.6 111.0h0M275.4 127.6h0M247.5 133.3h0M249.1 126.7h0M272.0 116.8h0M267.0 145.6h0M255.0 84.3h0M269.3 96.5h0M248.5 123.5h0M276.0 126.8h0M264.6 109.0h0M278.5 138.5h0M265.3 113.5h0M264.4 98.6h0M275.2 116.0h0M264.9 116.9h0M246.3 115.6h0M265.9 123.9h0M254.0 131.2h0M266.9 108.6h0M280.4 123.4h0M265.9 104.4h0M274.3 80.7h0M256.3 118.8h0M243.4 141.3h0M244.8 105.1h0M243.7 111.9h0M251.2 122.4h0M253.2 152.1h0M255.1 108.3h0M267.5 105.1h0M271.1 106.8h0M271.8 112.9h0M271.2 120.5h0M275.1 118.6h0M270.0 124.7h0M260.2 151.2h0M258.5 135.7h0M246.1 125.0h0M243.5 139.5h0M275.1 100.0h0M248.6 143.1h0M275.4 116.8h0M258.0 93.8h0M245.2 104.4h0M274.1 90.9h0M269.8 105.4h0M280.4 130.9h0M263.3 102.3h0M277.9 80.7h0M262.0 137.5h0M252.8 92.7h0M258.0 144.7h0M267.7 116.4h0M276.4 90.6h0M273.6 116.3h0M277.9 103.1h0M263.1 150.2h0M260.3 115.4h0M262.7 103.0h0M278.0 105.0h0M256.7 130.5h0M245.3 147.4h0M257.7 105.0h0M267.4 114.9h0M274.2 102.5h0M278.4 114.7h0M268.8 90.6h0M273.5 94.3h0M273.5 99.5h0M273.3 109.3h0M265.5 117.3h0M278.4 84.6h0M276.4 112.1h0M243.3 155.1h0M247.6 111.2h0M280.2 122.6h0M268.0 124.4h0M248.3 84.0h0M277.2 104.9h0M246.3 131.8h0M263.2 130.7h0M257.5 89.5h0M253.8 125.0h0M252.0 109.7h0M246.3 108.3h0M257.1 102.3h0M246.8 136.7h0M266.4 124.6h0M255.1 95.6h0M271.8 99.0h0M278.2 121.8h0M276.3 74.7h0M270.7 122.7h0M272.3 130.6h0M246.5 91.2h0M279.5 75.2h0M264.6 95.4h0M263.4 92.3h0M268.3 137.3h0M250.0 125.9h0M260.6 96.8h0M247.6 124.5h0M277.5 134.4h0M261.7 125.6h0M248.0 122.9h0M279.4 122.4h0M264.8 90.2h0M271.3 120.1h0M273.1 128.3h0M269.1 98.1h0M259.6 95.5h0M253.5 118.3h0M244.9 123.1h0M266.4 135.4h0M247.1 134.9h0M256.8 93.8h0M276.4 117.3h0M276.9 89.3h0M273.8 121.1h0M250.2 100.7h0M278.3 125.3h0M248.3 133.2h0M277.4 99.5h0M271.1 81.1h0M279.4 126.2h0M279.9 114.4h0M262.7 116.3h0M254.7 113.9h0M277.4 107.8h0M254.8 115.1h0M255.5 128.9h0M264.3 74.9h0M248.3 154.3h0M260.1 103.7h0M248.2 135.8h0M260.0 80.8h0M277.0 134.9h0M277.5 113.3h0M278.9 118.2h0M270.2 116.7h0M271.0 138.8h0M259.0 128.6h0M276.5 131.5h0M248.0 93.1h0M249.2 93.7h0M247.4 94.9h0M258.3 125.9h0M245.2 124.1h0M269.4 102.2h0M249.9 148.0h0M268.8 115.4h0M264.1 141.9h0M268.9 101.0h0M269.3 99.7h0M272.5 90.0h0M261.0 110.7h0M264.4 102.8h0M252.4 109.6h0M261.8 107.9h0M246.4 128.8h0M278.8 89.1h0M277.8 122.4h0M245.8 90.6h0M243.4 159.1h0M257.8 96.9h0M262.8 147.6h0M261.0 101.6h0M255.7 123.2h0M266.3 120.4h0M258.0 129.2h0M258.2 116.0h0M244.2 133.6h0M265.2 111.1h0M246.1 97.0h0M275.2 112.6h0M260.9 131.1h0M256.3 81.6h0M267.8 103.5h0M276.2 83.0h0M249.3 153.0h0M258.0 107.6h0M279.5 110.2h0M275.4 111.9h0M257.7 116.5h0M289.9 120.6h0M288.3 117.4h0M289.7 77.9h0M288.7 103.0h0M286.4 96.5h0M292.6 110.2h0M291.1 89.4h0M283.8 119.6h0M286.4 102.8h0M288.1 114.6h0M289.9 119.1h0M287.8 76.8h0M284.4 102.7h0M290.3 128.6h0M287.5 106.2h0M291.3 121.6h0M288.9 112.2h0M290.8 98.5h0M290.3 110.1h0M290.4 121.7h0M286.7 125.3h0M290.8 127.6h0M288.6 89.3h0M284.7 118.4h0M287.0 85.3h0M287.1 104.0h0M289.3 102.8h0M289.9 115.3h0M285.0 110.7h0M290.0 124.7h0M287.9 96.8h0M285.2 118.6h0M290.3 111.8h0M286.0 106.0h0M284.8 88.0h0M290.1 114.5h0M290.5 110.7h0M286.3 117.7h0M290.9 105.4h0M290.8 102.1h0M286.7 111.8h0M293.5 112.9h0M287.9 116.2h0M288.7 134.3h0M281.6 96.7h0M289.8 136.0h0M289.3 120.3h0M283.5 93.7h0M291.2 136.0h0M292.0 92.7h0M293.2 121.8h0M289.7 89.0h0M289.0 118.0h0M286.1 95.5h0M291.9 101.2h0M285.8 129.3h0M288.6 90.8h0M287.9 91.5h0M289.1 107.3h0M287.0 90.8h0M290.5 112.8h0M290.7 73.8h0M284.4 108.6h0M291.1 97.5h0M286.1 91.6h0M287.4 109.1h0M291.1 102.6h0M288.4 99.2h0M289.7 118.1h0M290.2 110.4h0M289.7 111.6h0M286.7 125.8h0M285.5 104.9h0M290.0 118.5h0M290.2 99.7h0M289.1 115.0h0M287.6 113.8h0M290.4 97.8h0M288.1 83.3h0M284.4 86.8h0M288.9 91.9h0M289.5 114.3h0M290.2 104.0h0M285.7 101.5h0M286.1 113.1h0M289.0 116.9h0M286.9 126.8h0M288.0 97.1h0M290.7 114.2h0M289.2 116.5h0M293.1 91.8h0M288.9 107.8h0M292.8 92.3h0M291.0 102.6h0M288.2 80.6h0M287.9 92.9h0M291.7 93.9h0M286.8 107.3h0M286.9 95.0h0M288.9 111.5h0M289.2 93.2h0M284.4 98.3h0M288.9 115.0h0M287.4 110.7h0M288.1 108.2h0M288.7 105.4h0M287.7 120.9h0M291.1 126.5h0M289.5 100.4h0M287.7 95.1h0M288.4 90.4h0M291.0 131.8h0M290.3 92.6h0M291.6 86.2h0M287.9 110.0h0M288.6 121.6h0M293.7 87.5h0M288.2 104.1h0M292.8 84.6h0M290.5 95.6h0M287.1 130.2h0M284.5 108.5h0M290.0 102.1h0M286.4 107.0h0M286.4 110.2h0M283.6 104.4h0M291.5 88.3h0M288.5 88.4h0M288.3 135.9h0M289.3 94.6h0M288.9 123.8h0M288.5 95.3h0M289.7 125.4h0M287.5 116.4h0M290.3 135.9h0M289.4 92.0h0M288.3 102.5h0M292.5 93.2h0M284.5 94.4h0M292.3 91.7h0M289.4 101.1h0M283.9 129.5h0M287.2 80.1h0M289.9 87.3h0M285.0 91.8h0M289.8 99.0h0M294.0 121.0h0M292.0 116.7h0M288.2 113.1h0M289.1 109.0h0M288.6 89.2h0M287.4 88.8h0M285.6 105.6h0M284.7 109.0h0M293.5 102.4h0M288.5 93.4h0M285.5 86.5h0M287.2 101.9h0M292.3 95.4h0M292.6 98.8h0M286.6 89.9h0M288.8 125.9h0M290.7 112.7h0M287.4 133.6h0M285.1 98.3h0M285.7 106.9h0M288.3 102.3h0M286.2 106.3h0M284.8 102.2h0M287.6 103.5h0M290.8 76.6h0M290.1 101.9h0M287.7 116.3h0M293.4 77.0h0M286.2 100.8h0M288.1 114.5h0M284.6 124.8h0M290.4 104.7h0M287.9 112.8h0M283.8 132.1h0M286.1 125.3h0M293.1 99.3h0M290.2 97.0h0M288.6 121.2h0M290.6 109.3h0M284.0 97.9h0M286.1 102.5h0M284.7 110.7h0M286.0 103.0h0M287.2 102.2h0M289.7 102.5h0M291.0 83.8h0M290.9 131.8h0M286.9 128.5h0M288.2 104.0h0M289.6 107.9h0M286.0 114.6h0M287.5 118.2h0M289.4 78.8h0M285.9 111.3h0M289.5 91.1h0M291.5 104.9h0M285.3 96.1h0M282.1 131.4h0M288.5 114.0h0M285.5 105.6h0M288.7 126.7h0M287.0 104.9h0M289.1 95.2h0M291.3 103.2h0M290.4 100.5h0M287.3 106.7h0M285.1 118.5h0M281.6 104.2h0M282.4 105.0h0M286.1 121.1h0M288.5 110.3h0M286.4 120.1h0M286.6 108.0h0M283.9 86.6h0M283.8 89.3h0M283.6 81.3h0M289.9 122.9h0M282.9 112.2h0M290.0 98.9h0M285.7 91.3h0M289.6 111.4h0M288.8 104.0h0M290.2 110.8h0M291.3 93.4h0M286.0 89.5h0M285.5 129.4h0M286.9 91.8h0M286.0 105.7h0M289.9 125.9h0M287.8 78.7h0M288.1 116.4h0M289.2 107.0h0M286.8 103.9h0M291.0 110.0h0M283.1 88.4h0M288.7 72.9h0M289.4 134.1h0M286.0 101.7h0M286.2 119.2h0M290.5 122.5h0M287.2 110.3h0M282.9 112.8h0M284.4 116.6h0M290.7 129.4h0M285.6 113.3h0M291.5 124.7h0M291.7 101.7h0M287.5 99.7h0M289.5 107.3h0M285.8 112.0h0M286.9 114.0h0M286.1 134.9h0M289.6 118.5h0M284.6 107.0h0M287.6 135.5h0M288.1 110.9h0M289.4 111.3h0M282.3 113.3h0M283.2 101.1h0M285.6 89.8h0M287.4 108.0h0M288.4 101.4h0M288.5 93.2h0M293.4 107.8h0M289.7 103.1h0M289.6 97.2h0M286.7 79.7h0M290.1 103.5h0M289.8 132.1h0M289.8 119.2h0M287.7 122.1h0M289.6 105.7h0M292.1 121.7h0M285.8 96.0h0M282.2 99.3h0M290.2 113.7h0M289.9 84.9h0M287.3 106.9h0M286.8 110.5h0M286.7 95.7h0M284.7 112.3h0M286.7 96.4h0M289.3 98.0h0M286.9 92.1h0M288.8 123.1h0M286.8 113.7h0M288.3 108.4h0M285.1 114.1h0M288.1 87.7h0M284.8 103.0h0M290.5 105.2h0M285.5 129.9h0M287.3 92.7h0M283.1 112.3h0M286.8 120.6h0M284.6 94.0h0M292.0 107.4h0M287.6 76.2h0M289.3 107.5h0M283.3 73.4h0M284.6 100.3h0M287.5 131.6h0M284.3 112.1h0M291.0 106.8h0M286.9 108.3h0M288.8 114.3h0M287.5 121.5h0M290.0 99.6h0M286.1 99.6h0M288.9 90.6h0M291.1 103.5h0M288.5 95.7h0M288.3 120.7h0M287.0 115.6h0M288.1 104.3h0M289.7 98.0h0M283.4 97.3h0M288.4 110.6h0M287.5 115.9h0M288.0 70.5h0M292.1 108.4h0M284.7 90.8h0M285.3 102.9h0M289.7 99.1h0M285.2 114.8h0M288.8 78.5h0M287.9 97.6h0M282.7 120.0h0M289.7 109.1h0M291.6 93.8h0M288.5 112.8h0M284.2 110.3h0M290.0 92.9h0M285.2 116.3h0M287.6 116.1h0M289.0 104.1h0M285.9 120.0h0M283.4 88.7h0M287.5 117.4h0M287.8 103.2h0M285.7 92.2h0M285.9 97.2h0M289.9 123.4h0M287.7 97.9h0M286.7 100.9h0M286.3 96.4h0M288.4 94.3h0M288.2 120.3h0M284.2 125.9h0M286.9 113.6h0M286.3 117.3h0M288.1 101.0h0M291.0 98.7h0M290.4 88.7h0M289.6 127.4h0M288.2 101.1h0M287.1 95.5h0M288.8 96.6h0M286.7 108.9h0M287.0 98.0h0M285.7 106.4h0M287.8 108.6h0M287.7 125.9h0M292.8 87.7h0M289.4 110.5h0M286.9 95.8h0M289.9 99.7h0M286.7 130.1h0M290.6 115.4h0M290.0 100.4h0M285.1 105.8h0M287.7 122.6h0M287.6 98.9h0M288.7 113.4h0M289.8 103.1h0M285.3 106.3h0M286.0 103.9h0M288.7 96.9h0M290.4 107.7h0M285.0 120.7h0M283.8 97.1h0M290.9 100.4h0M290.1 111.6h0M290.8 95.0h0M285.4 119.0h0M287.4 116.6h0M288.5 72.1h0M289.1 96.4h0M287.6 90.1h0M287.8 118.4h0M290.6 120.0h0M286.8 88.4h0M286.5 96.0h0M286.8 104.9h0M286.6 100.7h0M288.2 116.8h0M287.4 120.6h0M286.8 114.9h0M291.6 122.3h0M288.7 120.0h0M287.0 105.1h0M291.2 99.7h0M286.5 95.2h0M287.9 118.3h0M287.7 119.3h0M286.4 121.2h0M286.9 101.3h0M288.1 100.4h0M284.2 110.1h0M286.9 124.7h0M288.6 111.5h0M288.6 109.5h0M288.7 94.0h0M294.0 112.7h0M289.6 114.1h0M287.5 92.1h0M287.6 132.2h0M287.9 92.6h0M289.0 119.9h0M287.1 103.2h0M291.8 108.6h0M285.1 94.6h0M289.5 97.9h0M289.2 116.6h0M285.0 103.3h0M289.5 101.1h0M289.3 119.3h0M286.3 116.7h0M293.9 108.6h0M289.7 109.6h0M287.1 131.6h0M286.7 103.7h0M286.0 112.0h0M288.6 112.5h0M288.1 85.5h0M284.3 77.7h0M285.2 108.1h0M286.1 119.0h0M286.9 109.2h0M287.0 98.3h0M286.2 96.5h0M289.5 118.2h0M290.3 101.8h0M288.1 82.4h0M282.3 116.3h0M287.5 109.7h0M289.3 111.8h0M287.7 121.6h0M288.6 125.8h0M288.2 114.5h0M284.1 103.6h0M289.5 110.6h0M286.6 104.0h0M289.0 125.7h0M287.1 125.1h0M287.5 113.2h0M291.4 126.4h0M284.8 105.1h0M287.9 105.6h0M285.1 93.7h0M288.1 101.6h0M289.1 109.3h0M289.6 121.8h0M288.3 95.4h0M284.4 118.0h0M290.2 86.3h0M290.4 102.4h0M293.4 106.5h0M289.3 121.0h0M285.3 135.6h0M286.6 124.4h0M288.1 105.7h0M290.6 93.6h0M285.0 105.4h0M290.2 105.6h0M289.6 109.8h0M285.7 93.0h0M289.5 128.7h0M285.9 95.5h0M287.9 116.3h0M287.1 109.4h0M288.5 90.0h0M284.9 107.2h0M289.2 106.5h0M282.3 103.4h0M286.9 118.1h0M286.4 99.2h0M289.3 122.9h0M286.6 92.6h0M288.0 124.7h0M286.3 109.9h0M293.6 107.4h0M288.1 84.8h0M281.6 78.6h0M285.8 129.9h0M292.0 98.0h0M286.5 133.9h0M290.7 78.7h0M288.4 116.5h0M290.9 116.6h0M288.0 93.4h0M286.0 90.7h0M283.9 106.7h0M290.3 125.6h0M289.3 120.9h0M287.9 112.3h0M289.1 122.7h0M288.4 79.6h0M286.4 136.1h0M292.9 105.3h0M288.5 86.5h0M287.4 100.4h0M284.1 96.4h0M286.3 107.5h0M287.9 110.7h0M287.4 71.4h0M286.7 124.8h0M287.8 131.8h0M285.0 90.7h0M287.9 128.0h0M283.9 124.8h0M285.7 121.2h0M286.0 130.4h0M290.1 85.4h0M289.2 116.9h0M288.1 91.0h0M286.9 91.6h0M290.0 87.8h0M291.1 122.8h0M284.1 115.3h0M286.8 106.5h0M288.2 108.1h0M288.8 115.2h0M287.9 131.8h0M289.6 95.4h0M284.2 97.7h0M291.9 97.4h0M285.0 104.9h0M288.1 106.2h0M289.2 86.8h0M290.9 110.6h0M290.2 87.1h0M290.1 101.4h0M291.2 102.3h0M287.5 102.4h0M289.8 128.2h0M291.9 130.5h0M286.0 122.2h0M284.3 129.7h0M285.3 101.8h0M291.6 127.1h0M291.1 105.2h0M287.0 109.4h0M288.6 110.1h0M289.1 86.0h0M290.6 96.9h0M283.1 103.6h0M286.5 111.5h0M287.3 104.1h0M288.8 93.3h0M288.1 88.7h0M287.1 106.2h0M288.7 88.3h0M290.1 108.7h0M290.2 93.6h0M286.2 79.3h0M289.0 110.3h0M293.2 118.3h0M292.6 99.9h0M288.1 100.4h0M284.7 71.2h0M288.4 119.5h0M287.2 89.6h0M290.1 116.8h0M284.7 97.2h0M287.5 103.9h0M288.6 103.2h0M286.7 79.0h0M285.0 82.6h0M284.8 107.7h0M287.0 93.8h0M290.1 102.5h0M287.2 126.7h0M286.4 78.1h0M290.0 103.9h0M288.5 113.4h0M286.6 107.8h0M288.3 112.0h0M287.3 94.8h0M289.5 81.4h0M288.3 86.3h0M285.9 99.9h0M286.7 117.1h0M286.9 107.2h0M288.9 130.1h0M288.9 107.5h0M285.8 108.9h0M287.5 109.0h0M288.8 80.0h0M290.8 114.6h0M288.6 89.3h0M293.0 100.3h0M289.9 87.5h0M287.1 107.8h0M285.4 110.4h0M288.2 107.9h0M289.2 106.1h0M288.8 97.6h0M288.3 135.9h0M287.1 75.9h0M285.8 90.6h0M287.2 128.3h0M289.2 114.2h0M290.4 94.5h0M289.5 102.3h0M291.2 113.4h0M288.9 90.5h0M289.7 109.6h0M286.8 96.6h0M287.7 128.5h0M289.3 110.4h0M285.1 124.9h0M285.9 108.4h0M288.5 136.6h0M284.5 112.2h0M288.1 110.2h0M284.1 90.7h0M288.5 99.7h0M288.0 111.9h0M286.5 98.6h0M286.6 105.8h0M282.2 94.6h0M286.9 120.8h0M288.3 98.1h0M291.1 112.1h0M286.6 104.6h0M287.5 95.2h0M291.5 126.8h0M292.4 107.4h0M286.7 122.3h0M290.7 100.9h0M291.0 84.6h0M289.3 87.3h0M285.4 98.2h0M285.5 103.2h0M289.4 106.8h0M294.0 113.7h0M287.5 87.4h0M292.0 109.4h0M292.9 87.7h0M284.7 95.7h0M291.9 125.1h0M290.5 100.6h0M289.4 132.9h0M287.9 127.3h0M289.6 119.3h0M286.3 128.0h0M285.0 104.1h0M283.3 93.1h0M288.3 114.8h0M291.7 87.2h0M286.7 98.4h0M287.8 112.9h0M285.3 98.4h0M287.8 111.2h0M285.3 133.4h0M285.4 91.2h0M284.1 127.1h0M286.5 95.8h0M292.8 92.0h0M287.8 109.4h0M288.4 121.4h0M293.7 95.3h0M286.3 95.1h0M285.4 99.4h0M289.3 95.2h0M284.8 108.8h0M288.8 95.3h0M290.9 102.2h0M285.1 111.3h0M286.6 99.7h0M292.4 123.3h0M285.2 95.8h0M286.2 94.4h0M288.6 136.6h0M287.1 128.6h0M285.7 107.1h0M292.1 118.5h0M286.4 111.1h0M288.8 98.3h0M286.9 116.1h0M287.4 110.6h0M284.4 125.2h0M290.4 78.4h0M286.8 118.1h0M291.3 108.5h0M284.9 95.7h0M286.7 99.6h0M289.2 99.9h0M288.2 86.2h0M286.2 97.4h0M287.6 117.7h0M284.6 83.2h0M288.1 100.4h0M288.4 97.4h0M291.5 111.9h0M290.3 105.2h0M290.2 106.7h0M286.9 89.2h0M289.2 114.5h0M286.9 92.5h0M287.7 119.6h0M287.7 109.2h0M290.3 128.3h0M289.1 100.1h0M290.1 121.4h0M285.5 107.6h0M289.7 106.0h0M289.2 121.0h0M282.1 112.6h0M283.4 105.9h0M288.1 104.2h0M286.2 109.2h0M287.9 107.3h0M286.3 101.1h0M291.8 90.5h0M284.4 104.3h0M285.4 102.4h0M284.4 124.2h0M286.4 112.7h0M287.9 123.1h0M284.5 132.1h0M288.9 104.4h0M291.4 93.4h0M290.8 118.3h0M293.2 97.1h0M290.9 102.2h0M287.9 127.6h0M292.6 114.3h0M289.8 122.5h0M292.8 85.8h0M287.5 106.6h0M282.5 122.8h0M284.9 86.8h0M288.4 109.0h0M289.4 112.1h0M287.4 71.4h0M290.6 130.0h0M285.0 95.3h0M286.1 104.0h0M290.5 131.2h0M288.1 79.2h0M288.2 113.0h0M291.6 99.3h0M290.8 106.7h0M285.9 93.8h0M288.5 126.5h0M283.6 89.2h0M287.9 111.5h0M289.0 114.2h0M283.5 104.7h0M292.0 101.9h0M293.2 102.1h0M289.3 121.4h0M290.4 112.8h0M291.9 104.8h0M287.5 89.7h0M290.7 108.4h0M289.0 114.0h0M284.0 105.6h0M285.6 127.6h0M286.5 77.4h0M288.3 103.3h0M290.6 89.0h0M286.8 79.9h0M284.7 119.1h0M293.4 114.6h0M289.0 105.3h0M287.5 108.6h0M291.1 99.7h0M285.1 123.4h0M287.5 115.5h0M284.3 104.3h0M289.3 81.5h0M288.6 126.6h0M287.0 98.9h0M286.3 90.5h0M284.1 125.4h0M285.9 113.6h0M291.2 75.8h0M287.1 81.1h0M291.3 100.1h0M285.8 87.2h0M287.8 103.8h0M290.0 105.5h0M282.7 118.1h0M289.9 119.5h0M289.8 104.3h0M288.0 83.9h0M288.2 122.2h0M287.4 103.5h0M289.8 112.9h0M288.2 116.7h0M285.8 94.0h0M288.4 131.4h0M290.5 107.3h0M289.0 109.5h0M288.1 99.6h0M288.5 116.8h0M286.7 121.3h0M286.8 97.8h0M283.1 114.9h0M287.5 99.6h0M290.6 87.7h0M287.0 101.2h0M285.7 115.3h0M290.3 114.4h0M288.4 122.4h0M288.4 96.0h0M289.2 101.6h0M289.8 107.2h0M287.9 115.5h0M285.9 104.4h0M292.5 91.9h0M288.2 82.9h0M286.0 123.9h0M288.5 122.2h0M291.1 96.2h0M284.3 128.4h0M291.4 105.2h0M287.7 113.0h0M293.2 125.2h0M289.7 99.0h0M287.7 94.5h0M291.3 80.1h0M291.3 110.8h0M287.1 113.0h0M288.6 119.2h0M286.7 115.3h0M290.4 107.8h0M284.4 123.5h0M287.6 90.8h0M282.5 112.1h0M289.5 113.9h0M282.3 104.4h0M285.3 132.2h0M288.7 112.8h0M287.1 126.5h0M286.9 119.7h0M285.5 103.5h0M286.8 135.3h0M283.5 122.9h0M288.8 106.5h0M290.1 104.4h0M290.0 90.7h0M287.9 104.0h0M291.2 102.7h0M289.2 109.4h0M290.5 99.9h0M289.0 114.8h0M288.1 105.0h0M286.1 82.4h0M289.7 92.7h0M287.7 87.1h0M293.1 102.4h0M282.9 120.0h0M290.2 89.4h0M285.6 76.1h0M288.0 103.8h0M288.9 97.4h0M287.9 110.4h0M290.3 100.1h0M288.4 119.2h0M289.2 128.0h0M291.3 103.9h0M289.3 124.1h0M287.7 90.0h0M291.2 109.4h0M287.7 87.2h0M289.1 109.1h0M287.2 97.1h0M286.3 109.9h0M289.8 109.8h0M285.1 108.0h0M289.9 97.7h0M292.7 94.2h0M284.6 88.5h0M290.3 100.4h0M287.8 112.4h0M289.2 104.3h0M284.9 108.7h0M288.1 125.4h0M288.4 101.5h0M291.7 110.8h0M293.5 118.8h0M288.8 114.1h0M287.1 112.2h0M293.7 107.6h0M287.8 135.4h0M287.9 105.2h0M288.3 100.5h0M289.2 115.3h0M289.9 131.0h0M286.6 127.7h0M287.7 106.9h0M292.9 118.9h0M292.1 113.9h0M289.2 107.5h0M288.7 116.2h0M287.4 115.7h0M290.7 108.5h0M286.7 132.3h0M288.4 100.7h0M286.9 127.4h0M288.1 110.5h0M286.6 103.6h0M287.9 82.3h0M288.2 105.5h0M286.4 82.8h0M287.7 83.1h0M289.8 119.0h0M290.9 115.7h0M288.5 78.9h0M287.3 105.5h0M288.0 111.5h0M292.9 83.6h0M290.4 120.8h0M285.6 86.4h0M287.9 123.4h0M286.7 109.4h0M287.1 95.9h0M283.7 82.2h0M288.1 101.2h0M284.6 105.0h0M286.5 104.4h0M291.9 97.4h0M290.6 103.2h0M285.8 119.5h0M285.4 92.7h0M285.7 103.2h0M283.2 113.3h0M285.5 106.0h0M287.4 119.4h0M285.4 129.8h0M290.0 101.0h0M287.9 109.6h0M292.5 101.1h0M289.9 116.4h0M288.2 89.5h0M292.8 126.4h0M291.4 78.0h0M286.2 126.7h0M288.9 98.6h0M286.9 91.0h0M284.4 99.0h0M292.9 102.3h0M291.9 91.0h0M284.8 85.5h0M289.3 98.4h0M283.8 120.6h0M290.8 112.4h0M287.9 126.5h0M287.3 97.1h0M291.3 100.9h0M288.1 101.3h0M287.4 108.4h0M290.4 113.2h0M287.3 132.7h0M290.3 116.8h0M288.1 108.7h0M290.2 126.7h0M289.7 94.5h0M290.1 86.5h0M285.5 116.3h0M292.9 108.8h0M287.6 108.0h0M292.6 120.3h0M286.5 101.2h0M287.3 104.5h0M287.4 111.9h0M291.0 116.0h0M286.9 121.0h0M289.1 108.0h0M284.0 110.2h0M288.6 124.6h0M287.8 82.6h0M283.2 105.5h0M285.6 101.3h0M293.1 82.4h0M287.6 130.4h0M293.9 97.8h0M289.8 103.7h0M289.2 103.7h0M286.8 117.2h0M287.7 117.9h0M289.2 104.3h0M283.0 122.9h0M290.6 92.6h0M285.0 116.3h0M287.4 96.8h0M289.2 96.1h0M290.0 99.5h0M288.8 128.3h0M288.9 89.3h0M287.1 88.5h0M288.4 114.8h0M291.2 102.1h0M286.9 99.7h0M289.4 104.0h0M287.4 90.6h0M288.7 102.1h0M288.6 108.6h0M286.8 92.0h0M286.9 113.4h0M292.5 92.4h0M290.8 122.9h0M282.7 88.9h0M288.7 103.9h0M290.7 111.1h0M285.7 79.8h0M288.7 110.3h0M285.3 97.1h0M287.4 122.4h0M288.5 109.3h0M292.2 84.6h0M289.0 112.0h0M290.8 92.7h0M284.9 107.4h0M285.0 83.5h0M286.8 117.0h0M284.5 103.5h0M283.9 125.4h0M287.8 113.8h0M291.2 100.8h0M283.8 102.5h0M287.4 99.6h0M291.8 105.2h0M289.9 105.8h0M288.8 95.0h0M287.9 98.9h0M287.4 115.2h0M288.4 96.9h0M286.3 93.9h0M285.7 97.8h0M285.1 100.7h0M288.1 108.6h0M286.0 98.7h0M290.3 103.1h0M282.5 94.8h0M289.5 124.6h0M289.4 107.4h0M291.2 101.3h0M287.4 110.4h0M284.1 105.3h0M285.6 82.5h0M291.0 103.3h0M287.2 130.8h0M287.0 113.6h0M286.5 123.7h0M287.9 95.9h0M287.4 83.7h0M283.9 95.5h0M286.5 126.3h0M290.7 91.0h0M291.8 94.1h0M287.7 122.6h0M286.7 102.2h0M291.6 103.0h0M287.6 111.7h0M284.9 107.3h0M287.7 101.5h0M289.9 109.8h0M292.1 95.3h0M286.7 105.4h0M289.4 115.8h0M287.2 90.1h0M291.0 102.8h0M288.7 88.8h0M288.7 117.2h0M285.4 115.2h0M287.2 120.1h0M287.2 121.5h0M290.3 116.8h0M288.0 94.3h0M287.5 120.0h0M287.1 92.3h0M288.7 110.3h0M284.6 114.9h0M288.4 87.5h0M288.3 122.1h0M288.1 123.6h0M284.1 82.5h0M287.7 97.6h0M284.7 99.0h0M288.9 96.3h0M291.5 126.7h0M287.1 90.0h0M286.6 121.7h0M286.5 102.1h0M288.9 126.6h0M286.6 99.5h0M285.8 94.6h0M286.0 123.8h0M286.6 98.3h0M291.2 123.1h0M284.5 114.7h0M284.5 99.7h0M289.6 94.5h0M285.4 103.4h0M287.6 123.4h0M288.5 105.9h0M288.1 96.0h0M290.4 82.3h0M292.0 102.6h0M285.4 114.1h0M287.3 90.3h0M290.5 105.8h0M287.5 99.6h0M285.4 83.7h0M286.9 112.8h0M290.2 88.9h0M285.4 94.6h0M288.7 124.5h0M289.0 89.1h0M286.3 115.0h0M289.5 123.7h0M289.8 120.9h0M290.6 113.0h0M290.5 102.4h0M284.1 84.9h0M290.4 108.1h0M289.5 112.6h0M290.6 98.3h0M285.8 91.1h0M290.4 118.9h0M289.0 90.1h0M285.0 112.5h0M291.4 98.7h0M286.0 80.6h0M285.4 130.1h0M289.1 115.0h0M286.4 114.0h0M289.0 84.6h0M287.4 103.9h0M288.8 110.0h0M290.2 94.6h0M287.9 130.6h0M290.3 75.4h0M290.2 116.3h0M285.8 77.4h0M290.3 82.2h0M289.6 86.5h0M288.4 114.3h0M291.0 94.9h0M292.4 95.5h0M290.0 92.0h0M284.2 83.3h0M289.2 92.1h0M287.7 90.7h0M287.3 100.7h0M288.9 99.7h0M292.3 95.6h0M288.8 123.6h0M288.1 98.2h0M290.1 104.1h0M290.1 94.3h0M291.1 94.8h0M289.7 104.0h0M287.9 84.8h0M288.4 102.5h0M282.4 80.0h0M284.2 110.0h0M290.8 81.3h0M287.2 114.7h0M292.8 120.0h0M292.8 80.4h0M284.8 114.9h0M288.9 98.6h0M286.0 96.7h0M289.1 100.4h0M287.4 100.3h0M287.4 123.5h0M287.3 75.5h0M288.0 116.1h0M290.0 106.0h0M285.9 97.2h0M289.4 101.0h0M286.2 118.6h0M289.4 116.9h0M288.9 130.0h0M286.0 94.9h0M288.4 76.1h0M286.1 96.2h0M285.8 101.6h0M291.1 97.9h0M283.3 122.8h0M289.9 110.2h0M286.5 77.7h0M290.9 120.1h0M290.4 94.8h0M284.7 105.1h0M289.4 117.0h0M289.3 110.0h0M286.1 103.4h0M289.6 108.7h0M290.0 115.8h0M286.2 113.8h0M282.8 135.5h0M286.1 92.7h0M283.5 95.6h0M287.0 116.8h0M281.8 107.7h0M287.2 117.2h0M292.0 83.0h0M289.2 114.1h0M285.6 103.6h0M287.0 98.4h0M285.7 108.5h0M289.7 129.1h0M288.0 72.8h0M286.0 128.2h0M284.6 108.6h0M286.9 91.5h0M291.1 114.3h0M284.9 105.0h0M289.1 122.5h0M288.9 92.3h0M282.8 118.9h0M290.9 90.8h0M287.9 109.2h0M293.9 114.8h0M292.6 103.2h0M287.4 114.0h0M287.6 95.4h0M285.4 120.3h0M284.4 96.8h0M290.1 93.8h0M287.4 102.6h0M287.0 103.6h0M287.6 91.8h0M289.8 116.3h0M290.5 102.5h0M288.0 113.5h0M287.5 82.0h0M288.3 84.7h0M293.5 100.4h0M282.6 89.5h0M285.0 102.4h0M289.3 112.8h0M288.4 121.1h0M291.3 126.4h0M291.5 116.2h0M293.3 93.8h0M285.9 112.7h0M289.7 96.6h0M287.4 112.5h0M290.6 88.6h0M288.5 124.6h0M290.4 110.6h0M286.1 100.1h0M288.5 84.0h0M286.7 108.6h0M287.4 96.5h0M286.9 108.2h0M285.3 93.7h0M291.0 96.3h0M288.8 113.8h0M290.9 126.6h0M285.4 85.5h0M282.9 101.5h0M286.4 110.3h0M287.7 102.1h0M290.2 97.9h0M290.9 136.9h0M291.3 91.9h0M292.1 109.9h0M290.0 97.1h0M288.4 103.0h0M286.0 70.2h0M289.9 117.8h0M286.7 101.3h0M285.9 90.0h0M289.6 129.4h0M288.6 100.3h0M290.3 95.3h0M286.2 91.8h0M291.2 120.5h0M289.0 104.9h0M287.6 99.8h0M286.1 84.6h0M285.2 90.9h0M284.5 109.7h0M291.8 104.2h0M284.3 74.3h0M289.7 91.4h0M287.4 107.9h0M286.8 93.2h0M287.8 71.1h0M290.5 116.0h0M289.6 97.3h0M288.1 84.7h0M284.4 112.9h0M283.3 101.0h0M293.0 90.0h0M285.4 84.8h0M283.9 102.6h0M291.0 105.8h0M284.1 77.8h0M290.0 119.3h0M290.5 85.4h0M288.7 125.5h0M290.6 109.5h0M284.4 101.7h0M284.8 109.5h0M287.6 95.6h0M288.1 103.5h0M287.8 129.2h0M289.3 95.9h0M286.1 116.7h0M282.4 91.0h0M289.1 104.2h0M287.5 118.9h0M290.2 86.5h0M293.6 109.5h0M288.3 72.2h0M289.6 87.3h0M285.7 98.2h0M290.5 117.7h0M289.0 115.2h0M288.7 90.8h0M290.5 102.5h0M285.1 107.3h0M289.6 81.0h0M289.3 110.8h0M292.3 124.8h0M283.3 123.1h0M287.8 95.6h0M293.9 98.4h0M287.0 90.5h0M286.9 97.1h0M292.8 100.7h0M288.4 105.7h0M286.2 90.6h0M286.5 116.8h0M287.0 117.7h0M285.8 95.3h0M285.9 100.8h0M288.5 103.0h0M288.2 79.8h0M289.3 106.5h0M288.1 114.6h0M284.8 133.7h0M290.0 107.4h0M288.7 100.2h0M286.5 102.3h0M287.3 113.7h0M288.9 116.5h0M288.3 91.6h0M287.7 107.4h0M290.1 114.3h0M290.9 74.4h0M287.2 125.1h0M288.0 101.3h0M285.1 117.6h0M287.6 103.9h0M289.3 100.9h0M290.3 103.4h0M288.5 108.9h0M287.8 117.6h0M286.2 100.6h0M288.6 87.8h0M285.2 94.1h0M288.4 89.9h0M288.1 116.0h0M285.7 90.2h0M288.9 127.4h0M287.5 106.6h0M289.6 103.3h0M286.8 124.2h0M289.3 99.1h0M292.2 100.2h0M288.5 116.3h0M290.1 115.7h0M286.4 89.7h0M283.1 113.2h0M287.6 85.8h0M285.1 102.1h0M288.3 118.6h0M282.6 108.0h0M285.8 117.5h0M289.1 118.7h0M283.7 134.8h0M286.9 115.0h0M290.1 127.4h0M288.5 94.3h0M285.6 114.6h0M289.4 92.1h0M288.7 94.3h0M289.2 102.2h0M290.6 110.9h0M288.3 124.9h0M290.3 106.1h0M283.3 133.5h0M287.3 95.5h0M286.3 95.8h0M292.0 106.4h0M289.6 97.4h0M290.6 103.8h0M286.4 116.8h0M288.8 109.1h0M289.9 119.9h0M285.0 94.9h0M287.5 92.4h0M287.4 84.3h0M287.3 78.6h0M286.2 98.6h0M284.7 106.4h0M289.2 102.4h0M288.7 105.5h0M291.1 136.1h0M287.9 89.1h0M286.3 101.4h0M284.2 98.1h0M288.3 91.8h0M287.2 125.8h0M293.4 105.0h0M292.2 88.6h0M285.6 133.7h0M287.4 92.5h0M285.7 105.4h0M291.8 103.6h0M288.3 114.0h0M287.0 86.1h0M288.0 112.6h0M291.3 116.5h0M285.5 96.6h0M289.3 71.6h0M284.5 95.4h0M287.5 99.7h0M286.3 117.1h0M288.9 96.3h0M288.4 88.4h0M291.2 114.9h0M289.8 111.2h0M286.4 116.7h0M284.5 106.4h0M285.9 121.5h0M286.9 113.4h0M287.4 78.9h0M286.0 108.7h0M290.9 117.3h0M290.5 106.2h0M287.3 127.6h0M286.7 98.9h0M287.4 116.2h0M287.9 87.3h0M288.0 105.7h0M283.7 97.5h0M286.9 90.7h0M283.1 86.1h0M288.1 109.1h0M289.8 112.1h0M285.2 96.2h0M288.5 87.2h0M286.4 92.6h0M286.2 117.1h0M293.2 87.7h0M290.4 122.8h0M289.3 80.7h0M286.9 109.9h0M289.1 115.7h0M287.5 124.1h0M289.2 99.3h0M285.6 94.3h0M287.8 84.4h0M287.0 119.4h0M284.3 103.8h0M292.5 98.9h0M290.2 99.5h0M285.9 109.6h0M284.1 106.3h0M286.1 123.5h0M285.8 73.5h0M286.4 118.5h0M284.0 97.8h0M285.8 104.6h0M288.2 101.1h0M289.1 104.5h0M282.8 117.1h0M288.0 109.1h0M285.4 84.2h0M285.3 104.8h0M287.2 104.4h0M286.2 111.4h0M289.9 106.5h0M289.9 104.6h0M287.2 121.2h0M286.3 89.5h0M293.0 97.4h0M289.0 90.3h0M287.6 117.6h0M290.7 122.0h0M291.9 124.7h0M286.6 127.8h0M292.8 113.1h0M287.6 106.9h0M290.9 111.6h0M286.6 105.9h0M288.2 97.8h0M286.8 130.0h0M288.1 133.2h0M290.7 106.1h0M285.6 102.5h0M287.2 98.6h0M289.5 80.7h0M286.8 95.8h0M293.4 98.2h0M284.1 105.7h0M286.3 77.4h0M290.6 115.8h0M292.3 131.8h0M289.4 74.1h0M284.3 103.9h0M287.1 118.8h0M288.2 88.5h0M289.5 84.5h0M290.6 106.5h0M291.0 102.5h0M291.9 96.5h0M285.5 130.7h0M290.7 128.5h0M283.4 115.9h0M288.4 105.1h0M285.1 101.2h0M283.2 119.4h0M290.5 102.6h0M287.9 128.5h0M290.7 124.9h0M283.8 97.1h0M284.7 117.6h0M287.7 129.8h0M286.2 116.1h0M288.2 92.1h0M286.3 102.3h0M287.1 101.2h0M284.9 108.2h0M291.4 106.9h0M287.2 101.1h0M284.8 119.3h0M289.8 126.8h0M289.3 98.0h0M288.6 84.4h0M288.6 112.1h0M286.9 106.7h0M287.7 112.9h0M282.1 96.4h0M283.8 111.0h0M284.7 93.0h0M288.8 123.1h0M291.3 132.0h0M287.6 92.8h0M291.0 99.5h0M287.0 98.9h0M289.8 109.8h0M289.2 107.2h0M284.4 114.3h0M288.6 98.6h0M284.9 101.3h0M285.2 113.5h0M284.6 79.2h0M291.7 118.8h0M293.7 97.7h0M289.9 85.5h0M292.2 94.3h0M284.4 114.6h0M291.8 119.7h0M293.3 125.8h0M292.3 113.7h0M285.5 96.3h0M290.9 115.5h0M287.7 106.0h0M286.3 76.3h0M288.0 131.4h0M286.5 118.8h0M289.3 113.4h0M287.7 105.9h0M291.0 98.8h0M290.2 92.8h0M289.1 83.9h0M287.2 121.4h0M288.0 117.5h0M290.0 112.8h0M288.4 78.6h0M288.8 103.2h0M287.9 109.2h0M287.8 124.8h0M286.2 92.4h0M283.0 111.5h0M289.5 103.9h0M289.5 107.9h0M285.4 95.8h0M293.1 112.9h0M284.9 108.7h0M290.7 79.5h0M288.7 125.7h0M291.1 94.4h0M290.5 124.8h0M288.1 92.9h0M285.2 99.7h0M284.7 134.0h0M288.5 110.6h0M292.3 130.4h0M290.4 112.1h0M287.9 122.9h0M288.9 105.2h0M289.9 129.2h0M292.6 134.6h0M286.0 117.9h0M290.0 99.3h0M288.8 102.3h0M286.0 93.6h0M285.3 116.9h0M291.4 115.7h0M288.9 97.4h0M287.4 121.6h0M288.3 99.2h0M290.7 135.2h0M288.3 120.3h0M292.3 131.8h0M287.3 97.2h0M285.9 93.0h0M287.7 80.6h0M285.5 117.7h0M287.1 91.1h0M291.3 128.1h0M292.6 110.2h0M289.7 119.5h0M288.5 88.8h0M285.6 99.1h0M285.3 110.8h0M289.0 119.1h0M288.5 88.8h0M286.5 113.2h0M286.8 95.7h0M292.2 120.2h0M290.7 104.7h0M288.2 103.6h0M288.6 114.6h0M291.5 125.4h0M289.0 104.5h0M288.7 126.4h0M283.8 93.2h0M283.5 112.3h0M282.9 91.3h0M281.9 111.3h0M288.0 94.4h0M288.9 108.6h0M285.7 117.4h0M289.2 93.6h0M289.2 81.8h0M287.8 105.5h0M284.0 115.9h0M291.9 111.5h0M291.7 94.5h0M286.5 120.5h0M293.2 103.7h0M288.1 119.5h0M285.9 94.8h0M286.9 114.6h0M283.0 125.6h0M287.1 98.1h0M283.7 103.7h0M291.1 117.3h0M288.9 115.8h0M284.3 113.3h0M289.6 106.2h0M283.4 84.6h0M288.4 107.9h0M289.3 88.7h0M288.2 109.2h0M285.0 73.0h0M287.7 129.4h0M287.5 136.3h0M288.2 114.5h0M292.0 95.3h0M292.6 103.4h0M292.3 121.1h0M286.3 117.7h0M286.0 97.5h0M288.1 125.8h0M289.2 118.7h0M282.5 115.8h0M286.4 102.6h0M292.8 107.8h0M284.7 97.3h0M286.0 110.6h0M286.1 98.0h0M289.3 125.3h0M287.8 108.4h0M287.1 111.0h0M283.9 112.7h0M289.7 112.6h0M288.0 86.6h0M286.2 126.9h0M288.1 109.3h0M290.1 99.6h0M284.0 93.4h0M283.8 97.7h0M285.2 98.7h0M285.6 108.0h0M286.4 109.4h0M291.0 109.9h0M287.1 97.5h0M287.7 112.7h0M291.8 109.4h0M292.2 105.3h0M286.7 117.7h0M285.8 128.2h0M289.0 106.6h0M284.7 94.9h0M287.0 115.8h0M283.5 75.6h0M288.2 109.9h0M288.0 104.8h0M292.4 112.4h0M289.0 85.1h0M286.2 101.1h0M287.8 92.3h0M284.5 99.5h0M288.1 116.2h0M287.4 104.5h0M289.1 98.5h0M290.5 125.0h0M282.6 107.5h0M288.9 77.3h0M290.0 91.8h0M284.8 113.4h0M293.1 113.7h0M286.1 110.5h0M290.1 93.8h0M290.6 105.7h0M288.7 89.5h0M290.7 94.6h0M285.2 93.5h0M285.8 94.5h0M282.7 101.9h0M289.5 103.5h0M286.1 95.0h0M290.0 122.8h0M289.6 100.0h0M284.4 129.5h0M289.9 121.5h0M288.7 88.7h0M288.5 119.8h0M289.2 85.9h0M287.9 128.0h0M288.0 111.4h0M290.9 91.8h0M285.3 74.1h0M284.7 100.5h0M285.9 86.4h0M290.8 122.6h0M287.1 87.9h0M293.2 102.9h0M286.1 106.4h0M286.8 110.1h0M288.7 102.5h0M291.6 116.8h0M287.5 92.3h0M285.2 114.5h0M290.3 88.3h0M292.2 108.7h0M289.6 103.1h0M288.8 114.7h0M285.7 124.3h0M286.7 79.4h0M288.8 94.6h0M288.1 91.6h0M287.3 123.9h0M284.8 93.1h0M288.8 116.4h0M286.2 98.3h0M288.2 84.6h0M286.4 107.6h0M288.5 89.1h0M290.0 116.7h0M288.6 118.1h0M289.8 125.6h0M284.2 90.9h0M289.3 129.2h0M288.8 120.2h0M286.3 79.3h0M288.2 90.5h0M286.9 110.7h0M281.9 86.0h0M289.4 103.9h0M286.3 108.6h0M288.7 115.0h0M287.3 93.6h0M289.3 105.4h0M288.2 92.0h0M287.2 111.5h0M289.3 115.7h0M290.2 106.9h0M281.9 122.8h0M288.1 117.0h0M286.4 111.3h0M285.0 123.0h0M291.5 87.4h0M290.6 105.3h0M285.2 79.6h0M285.0 105.5h0M290.2 98.9h0M286.3 118.1h0M287.1 99.3h0M282.7 96.3h0M287.6 104.4h0M291.1 103.9h0M286.7 113.4h0M287.7 92.9h0M292.7 83.6h0M290.4 82.2h0M291.8 122.9h0M289.7 87.1h0M291.2 98.9h0M283.5 89.4h0M285.8 118.9h0M283.5 97.5h0M294.0 124.0h0M288.5 95.4h0M287.6 110.2h0M285.9 117.1h0M285.2 120.2h0M287.8 104.7h0M288.1 78.7h0M284.2 116.4h0M287.8 111.6h0M289.0 113.4h0M287.8 85.2h0M289.6 108.6h0M285.7 112.4h0M288.9 121.2h0M290.4 98.1h0M289.5 115.9h0M289.0 135.0h0M287.7 99.4h0M285.3 99.8h0M289.5 101.1h0M286.9 83.8h0M285.4 100.5h0M290.0 130.0h0M283.6 92.1h0M286.5 103.0h0M290.1 123.7h0M290.5 114.3h0M287.0 109.3h0M288.2 101.0h0M289.4 104.2h0M287.8 106.1h0M285.9 116.1h0M289.2 107.1h0M288.4 119.9h0M288.3 78.3h0M291.0 118.1h0M288.8 98.1h0M286.7 106.1h0M288.4 99.7h0M293.2 115.5h0M286.0 104.2h0M287.3 115.3h0M285.8 94.1h0M288.9 108.8h0M284.6 124.2h0M289.2 122.5h0M290.0 100.7h0M285.9 108.1h0M285.7 100.5h0M284.0 104.2h0M288.1 106.3h0M285.0 124.0h0M286.3 114.7h0M286.8 127.6h0M286.1 128.8h0M290.2 87.3h0M292.3 110.6h0M282.2 99.4h0M285.8 82.1h0M288.7 90.1h0M285.1 98.6h0M286.5 130.8h0M288.5 107.3h0M291.7 103.3h0M291.2 105.6h0M287.2 95.0h0M288.3 108.6h0M287.0 104.7h0M287.5 82.0h0M284.8 98.2h0M287.0 115.4h0M286.9 129.0h0M288.0 108.2h0M285.6 98.1h0M287.1 107.0h0M288.3 100.7h0M285.9 110.1h0M286.4 102.0h0M286.6 109.4h0M286.3 127.1h0M287.4 95.8h0M288.5 86.5h0M287.5 125.0h0M288.5 116.0h0M288.5 102.4h0M286.1 107.1h0M287.4 122.4h0M288.0 124.5h0M286.5 105.9h0M286.7 116.8h0M289.5 107.5h0M284.7 100.1h0M287.2 122.3h0M286.3 108.6h0M287.1 118.3h0M288.5 88.1h0M286.3 81.9h0M286.7 109.3h0M286.0 121.2h0M287.5 123.4h0M286.8 99.2h0M285.7 112.6h0M286.8 89.8h0M289.7 130.7h0M284.5 100.7h0M285.0 124.6h0M287.5 104.6h0M285.0 103.8h0M289.9 129.1h0M284.8 96.8h0M285.1 124.8h0M286.3 103.4h0M288.6 96.7h0M288.2 97.2h0M287.9 122.7h0M287.5 107.0h0M288.9 103.5h0M284.4 88.5h0M287.4 123.3h0M289.1 121.6h0M285.5 112.2h0M287.5 118.1h0M288.9 101.1h0M286.8 110.1h0M289.7 109.4h0M287.8 100.6h0M288.6 111.1h0M285.5 98.5h0M285.9 99.5h0M285.9 91.8h0M289.6 109.8h0M283.6 98.6h0M284.3 101.5h0M288.2 126.0h0M287.2 107.4h0M282.7 107.5h0M286.4 88.0h0M286.6 101.2h0M288.8 120.8h0M284.2 115.2h0M286.2 108.7h0M288.6 105.7h0M288.1 108.9h0M285.7 113.2h0M286.6 103.8h0M289.0 133.5h0M286.4 122.8h0M288.9 106.0h0M288.2 126.3h0M285.7 91.0h0M286.8 124.8h0M288.0 110.5h0M287.7 119.5h0M289.3 103.5h0M288.7 110.0h0M287.5 115.6h0M288.0 121.6h0M286.0 114.7h0M286.2 113.8h0M287.9 100.3h0M287.5 130.3h0M285.4 110.7h0M286.9 105.1h0M285.9 103.8h0M286.2 92.4h0M288.9 98.4h0M285.7 88.2h0M286.1 110.6h0M287.9 106.9h0M287.1 110.8h0M287.3 91.7h0M284.9 102.5h0M287.0 99.6h0M286.5 120.9h0M285.9 88.6h0M286.2 88.2h0M286.6 124.7h0M288.3 112.7h0M289.8 87.6h0M287.2 125.5h0M289.2 127.4h0M287.2 122.8h0M284.9 81.2h0M287.1 109.5h0M288.9 96.7h0M289.1 104.5h0M285.8 87.4h0M290.3 130.5h0M286.0 99.0h0M286.0 111.6h0M286.3 118.4h0M289.2 116.0h0M287.6 113.3h0M288.4 102.9h0M283.8 110.8h0M287.0 105.1h0M286.9 78.4h0M288.1 121.0h0M286.4 99.8h0M288.8 101.2h0M286.1 102.6h0M285.0 89.9h0M284.7 92.2h0M288.9 84.5h0M288.2 114.1h0M285.9 123.3h0M288.7 108.9h0M286.8 93.1h0M286.9 124.9h0M284.9 103.8h0M286.3 87.2h0M287.2 83.5h0M287.4 110.3h0M286.2 126.7h0M288.5 103.0h0M289.2 99.7h0M285.9 104.4h0M287.6 96.9h0M284.9 100.8h0M287.7 111.2h0M285.7 98.5h0M286.8 120.1h0M287.3 95.2h0M286.7 117.1h0M288.6 112.4h0M285.9 102.9h0M286.4 104.1h0M287.5 103.7h0M287.0 129.7h0M287.4 97.4h0M286.8 123.4h0M285.9 121.0h0M288.0 103.5h0M287.2 129.0h0M289.0 111.1h0M286.6 109.6h0M286.0 108.2h0M286.4 118.8h0M286.1 102.7h0M284.2 105.5h0M289.5 122.9h0M287.7 106.4h0M290.5 94.5h0M286.3 115.3h0M287.9 106.8h0M287.5 100.6h0M287.0 115.1h0M288.5 97.9h0M287.1 95.2h0M287.0 104.5h0M287.3 105.4h0M283.9 108.6h0M286.0 92.3h0M286.0 130.3h0M289.5 116.7h0M287.9 109.8h0M288.2 110.9h0M286.8 119.9h0M289.5 94.6h0M286.8 114.5h0M285.0 92.4h0M288.0 120.7h0M288.8 101.0h0M287.2 105.1h0M287.6 127.8h0M288.5 120.8h0M289.3 90.0h0M287.9 98.8h0M289.5 110.4h0M287.5 104.9h0M290.1 118.4h0M285.1 99.0h0M288.5 83.5h0M287.5 96.1h0M287.3 105.5h0M285.2 115.0h0M288.6 117.6h0M286.8 124.1h0M285.7 111.0h0M286.2 105.3h0M286.8 117.4h0M287.2 106.6h0M285.8 101.8h0M285.8 101.8h0M287.7 120.0h0M287.0 127.2h0M289.9 125.0h0M286.5 87.1h0M288.2 122.1h0M289.6 93.3h0M286.8 103.5h0M288.5 115.5h0M287.5 90.6h0M287.2 92.0h0M289.4 98.2h0M285.7 129.9h0M286.2 121.9h0M284.5 96.2h0M286.9 109.7h0M288.5 109.7h0M286.7 112.0h0M288.3 98.7h0M286.0 126.7h0M288.7 103.0h0M286.9 118.6h0M286.4 86.0h0M289.5 113.0h0M287.1 109.8h0M287.9 125.6h0M288.1 115.1h0M287.3 118.5h0M285.4 104.5h0M287.5 125.0h0M287.6 119.4h0M286.8 118.5h0M289.7 125.5h0M286.0 113.6h0M287.3 123.9h0M287.4 115.7h0M285.5 99.0h0M285.4 94.3h0M288.0 123.2h0M288.1 115.7h0M287.3 99.2h0M284.8 108.3h0M286.7 127.0h0M287.4 85.7h0M288.0 96.2h0M288.8 117.0h0M287.7 118.7h0M288.5 92.7h0M289.5 95.0h0M283.7 110.1h0M288.5 126.2h0M286.5 108.1h0M287.4 121.3h0M285.6 107.7h0M285.8 102.0h0M287.7 92.8h0M286.8 123.5h0M288.1 111.4h0M286.5 113.2h0M290.2 112.5h0M286.7 113.6h0M290.1 118.8h0M286.0 130.2h0M287.9 94.1h0M288.7 107.0h0M285.2 102.1h0M285.7 129.8h0M287.7 104.2h0M288.7 87.0h0M289.0 107.6h0M287.9 98.4h0M288.6 98.3h0M285.4 102.1h0M286.5 90.9h0M289.2 82.8h0M286.3 133.3h0M286.7 106.3h0M284.6 95.8h0M286.8 116.0h0M284.8 125.3h0M287.6 85.2h0M289.2 102.1h0M287.5 111.6h0M287.3 97.0h0M286.5 113.8h0M287.9 91.8h0M285.5 99.3h0M286.4 106.4h0M290.2 113.5h0M285.2 108.4h0M286.3 99.1h0M285.1 103.1h0M288.8 80.4h0M285.2 102.6h0M285.3 104.1h0M288.7 111.4h0M288.0 115.4h0M288.2 112.4h0M287.0 99.1h0M288.4 86.3h0M289.0 105.6h0M288.0 97.5h0M284.8 100.7h0M284.2 107.9h0M285.0 111.0h0M287.4 124.7h0M284.9 106.0h0M285.5 85.4h0M287.1 115.5h0M285.8 120.0h0M285.2 86.5h0M288.4 115.8h0M287.8 110.3h0M288.2 100.8h0M288.4 110.1h0M289.1 113.0h0M287.0 115.6h0M286.8 122.8h0M284.5 107.7h0M286.7 107.8h0M288.5 94.0h0M288.0 104.3h0M289.1 103.3h0M288.6 117.9h0M288.7 122.3h0M287.8 90.7h0M287.2 123.9h0M286.5 92.4h0M285.6 99.2h0M287.6 122.3h0M286.9 104.4h0M284.1 117.1h0M283.1 98.1h0M286.0 109.6h0M286.3 108.2h0M286.6 109.1h0M288.9 118.2h0M286.1 102.2h0M285.2 103.7h0M287.6 90.8h0M288.4 106.1h0M289.4 101.5h0M285.5 119.4h0M286.6 116.6h0M286.4 98.5h0M289.2 113.7h0M288.0 125.0h0M287.0 105.2h0M288.0 92.6h0M286.7 115.1h0M286.9 117.1h0M286.6 97.5h0M287.5 111.9h0M287.3 83.2h0M289.1 114.3h0M288.2 113.1h0M286.9 97.7h0M283.8 96.8h0M284.9 105.6h0M286.3 104.9h0M286.4 128.5h0M285.1 104.7h0M286.4 105.9h0M287.1 105.6h0M286.1 87.1h0M286.8 101.6h0M286.8 90.3h0M286.0 109.6h0M285.7 79.4h0M286.8 93.3h0M287.4 111.2h0M285.5 80.6h0M284.0 87.6h0M285.6 120.8h0M287.7 90.6h0M284.7 107.8h0M288.3 111.9h0M286.1 94.1h0M287.1 85.9h0M285.9 127.8h0M287.8 100.6h0M287.0 114.6h0M287.5 98.0h0M284.2 112.6h0M288.0 90.8h0M284.6 90.0h0M286.5 94.3h0M287.7 99.7h0M286.7 99.7h0M287.7 103.6h0M287.2 113.5h0M287.1 100.9h0M285.8 120.1h0M288.4 99.3h0M288.6 116.5h0M286.2 125.0h0M285.7 130.5h0M287.2 82.0h0M285.9 130.3h0M287.1 84.9h0M288.1 126.4h0M287.9 107.7h0M289.1 112.5h0M287.6 95.6h0M285.5 120.1h0M285.7 116.8h0M287.7 100.7h0M289.7 99.9h0M286.4 119.1h0M285.6 121.3h0M288.9 117.9h0M286.8 102.9h0M287.9 107.9h0M288.5 120.1h0M285.5 118.8h0M286.4 122.6h0M286.2 109.8h0M287.7 98.8h0M287.9 111.7h0M286.2 113.8h0M287.7 101.0h0M284.4 113.8h0M287.4 97.0h0M287.4 111.3h0M286.9 100.1h0M286.8 123.4h0M285.4 111.3h0M289.0 90.8h0M286.5 91.9h0M286.7 117.0h0M286.8 106.0h0M287.7 111.9h0M287.1 87.4h0M287.7 88.3h0M285.6 109.4h0M288.5 105.2h0M286.2 90.6h0M288.0 97.5h0M287.3 118.1h0M288.5 102.3h0M286.8 115.4h0M284.9 129.4h0M285.3 112.3h0M286.6 109.6h0M288.9 100.2h0M286.4 123.8h0M287.0 89.1h0M288.7 93.6h0M286.1 107.7h0M287.4 88.8h0M287.3 120.7h0M286.1 99.8h0M287.3 114.8h0M288.4 103.9h0M288.4 104.6h0M286.5 108.1h0M291.0 82.4h0M287.4 93.8h0M286.6 101.8h0M285.6 118.5h0M288.1 117.3h0M282.9 94.4h0M286.7 119.5h0M285.0 124.1h0M286.7 117.7h0M285.1 90.4h0M285.6 93.9h0M288.7 104.5h0M286.2 95.2h0M286.9 108.6h0M286.5 114.7h0M288.1 107.7h0M288.7 109.2h0M288.2 113.2h0M287.7 118.0h0M287.7 99.3h0M285.3 99.2h0M288.8 123.4h0M286.2 103.5h0M285.7 97.1h0M286.4 111.6h0M285.8 103.3h0M287.5 109.4h0M288.0 107.0h0M288.7 116.1h0M286.8 119.8h0M286.1 97.1h0M286.5 92.1h0M285.3 128.6h0M285.9 99.0h0M289.8 87.7h0M285.9 83.2h0M286.3 107.4h0M287.8 99.5h0M287.3 84.0h0M288.0 95.5h0M285.7 94.1h0M285.4 120.8h0M288.8 110.9h0M286.0 107.7h0M286.8 91.3h0M287.2 105.5h0M284.3 116.4h0M286.7 109.9h0M286.0 121.5h0M287.7 108.8h0M286.5 116.8h0M283.8 113.7h0M288.1 100.4h0M283.3 125.2h0M286.4 112.5h0M286.0 118.5h0M286.1 94.0h0M286.9 93.7h0M288.3 105.5h0M285.7 97.3h0M286.1 115.9h0M288.0 113.1h0M287.7 123.7h0M288.0 115.5h0M287.4 93.1h0M286.6 120.1h0M286.3 99.3h0M286.3 98.3h0M288.2 108.6h0M289.0 107.7h0M289.7 121.3h0M286.6 113.3h0M286.9 126.7h0M286.7 105.0h0M285.4 112.2h0M290.0 101.1h0M289.1 102.3h0M286.7 125.2h0M286.3 113.7h0M286.9 113.6h0M285.2 97.4h0M286.5 130.0h0M288.0 105.5h0M289.3 99.3h0M288.2 107.5h0M288.8 116.5h0M285.5 117.5h0M282.4 126.9h0M288.9 94.0h0M287.2 102.2h0M286.8 128.1h0M285.6 99.7h0M285.6 106.6h0M285.9 87.8h0M289.2 97.1h0M288.3 96.3h0M284.4 106.5h0M289.3 92.4h0M287.0 119.9h0M287.6 107.1h0M285.9 104.5h0M289.6 119.8h0M287.6 104.4h0M288.8 91.7h0M285.5 108.2h0M287.1 109.1h0M286.6 114.6h0M285.8 105.3h0M286.0 105.0h0M285.3 114.4h0M286.9 91.7h0M287.8 100.1h0M284.7 104.3h0M285.5 126.7h0M284.6 116.0h0M286.5 113.0h0M286.6 116.7h0M286.7 127.4h0M287.5 95.1h0M288.3 101.5h0M288.1 109.8h0M287.3 111.7h0M287.8 83.2h0M285.8 113.4h0M285.6 87.2h0M287.9 117.8h0M287.7 118.8h0M290.1 78.5h0M286.6 114.3h0M285.5 110.4h0M287.4 99.8h0M286.3 120.2h0M285.7 133.8h0M288.9 114.3h0M289.7 93.6h0M287.5 89.1h0M286.0 92.7h0M287.3 94.6h0M286.9 122.4h0M285.0 111.5h0M288.1 107.5h0M287.4 119.1h0M288.7 108.0h0M286.2 108.3h0M286.9 96.9h0M286.8 99.7h0M284.5 108.2h0M290.5 92.7h0M284.0 129.3h0M285.3 109.4h0M286.4 100.7h0M284.7 120.4h0M287.6 94.1h0M286.3 121.5h0M287.1 108.9h0M287.3 132.2h0M287.1 100.7h0M287.1 102.7h0M286.7 96.9h0M287.6 91.6h0M288.1 111.0h0M286.6 94.1h0M286.3 111.9h0M286.4 99.5h0M287.4 121.4h0M286.4 113.2h0M284.8 108.4h0M289.7 107.8h0M285.2 99.6h0M289.4 130.4h0M288.1 102.5h0M288.4 113.3h0M287.3 104.4h0M287.7 103.1h0M287.4 108.9h0M287.8 116.5h0M288.2 93.3h0M289.2 101.7h0M285.6 89.5h0M287.7 112.9h0M289.3 96.7h0M289.0 98.1h0M285.5 116.2h0M287.4 107.6h0M287.4 113.0h0M287.3 105.9h0M283.7 113.0h0M288.2 108.9h0M284.7 93.3h0M290.2 110.5h0M287.9 103.3h0M286.9 104.6h0M287.9 111.4h0M287.2 100.6h0M286.2 94.0h0M286.9 123.1h0M287.5 131.6h0M285.8 103.3h0M288.0 122.6h0M288.6 112.7h0M288.6 99.4h0M288.7 96.9h0M288.9 104.1h0M288.0 102.2h0M288.9 103.4h0M287.1 106.1h0M287.6 93.1h0M289.1 118.9h0M289.8 93.1h0M286.5 93.9h0M284.9 119.7h0M290.1 117.6h0M288.7 126.6h0M289.7 109.5h0M288.3 99.4h0M287.4 122.6h0M286.1 106.5h0M285.6 106.1h0M289.1 96.7h0M288.5 113.0h0M285.4 114.6h0M286.3 81.8h0M286.1 119.1h0M286.6 87.5h0M282.8 116.6h0M289.3 104.1h0M286.2 92.6h0M287.1 133.0h0M287.4 102.0h0M285.6 93.3h0M287.7 124.0h0M286.4 88.5h0M287.4 90.7h0M286.9 98.7h0M287.2 81.4h0M285.7 118.4h0M288.1 121.0h0M285.4 107.0h0M288.3 102.4h0M286.3 87.4h0M285.3 113.8h0M286.9 98.6h0M285.5 115.7h0M286.3 121.0h0M286.8 108.3h0M288.2 80.3h0M288.2 95.6h0M287.7 125.5h0M286.6 111.3h0M284.8 126.2h0M286.7 78.7h0M286.6 106.3h0M286.8 105.5h0M286.3 86.6h0M286.3 99.4h0M288.2 120.5h0M285.1 114.8h0M287.0 100.8h0M288.9 112.0h0M285.9 123.3h0M285.6 93.7h0M286.7 111.6h0M286.5 121.3h0M287.4 98.8h0M289.0 124.7h0M286.8 106.6h0M287.8 122.2h0M286.2 119.8h0M286.3 111.2h0M287.5 104.0h0M286.0 99.3h0M288.8 110.0h0M286.4 110.5h0M286.8 126.0h0M285.5 106.7h0M286.4 112.4h0M285.6 129.7h0M286.3 112.0h0M284.4 113.7h0M287.0 128.7h0M289.6 109.0h0M284.3 113.0h0M289.6 117.6h0M286.9 106.3h0M288.3 93.3h0M285.5 88.8h0M290.0 105.2h0M285.4 122.4h0M286.9 120.8h0M289.3 129.0h0M285.1 119.6h0M283.6 99.4h0M286.9 88.9h0M285.9 101.1h0M285.6 104.4h0M285.7 98.1h0M284.9 119.8h0M289.1 97.5h0M288.8 115.3h0M285.0 118.0h0M286.9 85.2h0M286.3 102.3h0M288.6 124.1h0M285.8 118.8h0M286.4 69.3h0M285.2 55.4h0M285.6 59.2h0M286.4 67.0h0M287.5 97.2h0M286.8 77.0h0M286.2 67.2h0M286.5 73.5h0M287.1 72.5h0M284.5 64.7h0M285.3 68.8h0M286.3 67.0h0M287.5 78.8h0M287.4 88.6h0M285.5 85.8h0M286.3 66.2h0M285.5 76.6h0M285.9 61.4h0M286.4 57.0h0M285.9 70.9h0M285.7 77.3h0M285.1 69.3h0M284.7 79.9h0M286.1 79.9h0M286.5 79.0h0M286.9 68.2h0M285.5 53.8h0M285.6 91.5h0M287.5 64.4h0M286.7 78.7h0M287.2 75.8h0M285.7 65.9h0M285.6 91.8h0M285.1 78.1h0M287.3 69.9h0M285.1 65.1h0M284.6 58.5h0M285.5 55.0h0M287.5 76.8h0M286.3 64.8h0M286.5 64.6h0M286.4 76.0h0M286.2 65.9h0M286.1 77.8h0M284.9 62.4h0M287.9 63.9h0M286.1 80.9h0M287.5 61.9h0M284.7 77.3h0M286.8 76.0h0M285.1 70.1h0M285.0 50.4h0M286.5 54.5h0M287.3 57.0h0M287.6 54.7h0M287.6 80.3h0M286.0 59.7h0M287.1 55.3h0M285.7 64.0h0M285.7 68.9h0M286.5 50.2h0M286.2 77.2h0M287.1 78.6h0M284.5 62.9h0M287.4 79.6h0M285.7 51.6h0M287.8 63.5h0M287.4 68.1h0M285.1 70.8h0M286.2 83.6h0M287.0 66.1h0M285.5 58.0h0M285.5 72.5h0M286.0 71.8h0M287.0 75.3h0M287.2 66.0h0M285.9 72.0h0M287.1 63.2h0M287.8 76.7h0M287.2 62.2h0M285.6 62.7h0M285.4 83.8h0M286.6 61.0h0M287.1 70.0h0M286.7 76.7h0M285.9 66.2h0M285.4 80.7h0M287.5 63.1h0M286.1 82.0h0M288.1 51.6h0M285.1 54.0h0M286.0 70.8h0M285.6 86.9h0M288.1 89.0h0M287.5 59.8h0M285.8 69.6h0M284.4 64.2h0M286.4 78.5h0M285.2 65.5h0M284.8 86.1h0M286.7 73.3h0M286.1 63.7h0M286.4 61.8h0M286.7 67.8h0M285.9 75.3h0M286.0 64.2h0M286.2 72.4h0M286.0 56.6h0M286.9 70.9h0M284.3 83.5h0M287.5 75.0h0M286.7 66.1h0M285.5 62.1h0M286.1 60.7h0M287.5 56.0h0M286.8 63.9h0M284.5 73.1h0M285.3 63.3h0M286.5 89.2h0M288.1 74.4h0M287.1 64.7h0M286.1 69.6h0M286.9 87.3h0M286.3 49.9h0M286.0 72.8h0M284.2 81.8h0M287.3 59.3h0M286.8 71.4h0M285.9 67.2h0M285.1 62.0h0M286.6 66.8h0M286.4 66.1h0M286.5 53.2h0M284.1 67.2h0M285.6 76.1h0M285.5 64.9h0M287.2 75.8h0M286.1 78.9h0M285.4 78.2h0M286.5 49.9h0M286.7 87.8h0M287.9 80.1h0M286.6 79.5h0M285.9 70.1h0M285.8 69.9h0M285.5 63.6h0M286.8 74.9h0M287.1 80.9h0M286.1 63.2h0M286.2 79.6h0M287.7 64.5h0M286.4 77.0h0M286.8 68.3h0M285.2 80.1h0M285.7 92.7h0M284.2 72.7h0M284.9 64.2h0M286.7 64.9h0M287.5 77.3h0M286.0 64.1h0M285.1 81.5h0M286.4 73.5h0M287.4 80.7h0M286.1 63.5h0M287.2 58.7h0M277.8 148.5h0M278.1 142.7h0M277.8 148.4h0M278.2 154.3h0M277.4 179.4h0M277.8 151.9h0M278.0 175.1h0M277.5 168.3h0M277.8 179.4h0M277.6 171.8h0M278.0 177.4h0M277.9 141.6h0M278.2 170.3h0M277.8 150.8h0M277.5 152.7h0M277.8 140.0h0M278.0 141.4h0M278.0 165.5h0M278.1 144.9h0M278.4 164.1h0M277.9 151.0h0M277.9 163.5h0M283.0 147.0h0M283.5 135.1h0M283.1 145.3h0M283.3 132.0h0M283.1 155.6h0M283.5 141.8h0M282.9 140.1h0M283.4 156.4h0M283.5 143.1h0M282.9 145.5h0M283.3 151.9h0M282.6 131.1h0M283.1 140.2h0M283.2 162.8h0M282.8 152.6h0M282.5 134.3h0M283.0 161.3h0M282.9 160.7h0M281.4 48.9h0M236.5 85.0h0M270.6 75.5h0M269.0 71.2h0M255.9 66.3h0M279.3 55.6h0M263.4 73.8h0M282.1 65.3h0M260.8 87.5h0M291.0 48.2h0M262.6 72.6h0M235.9 101.0h0M288.8 64.8h0M259.1 83.8h0M241.8 94.9h0M292.3 65.6h0M265.5 81.3h0M283.3 58.7h0M249.8 92.5h0M287.4 65.4h0M288.6 51.4h0M262.8 65.5h0M260.5 68.0h0M252.3 90.7h0M278.5 48.8h0M270.4 71.4h0M290.3 58.0h0M268.1 75.2h0M275.0 70.0h0M269.1 57.7h0M262.1 86.6h0M244.0 97.0h0M278.9 72.6h0M263.6 64.3h0M290.9 68.3h0M281.4 71.0h0M280.5 72.9h0M289.4 54.1h0M256.7 87.7h0M290.3 51.4h0M287.6 68.3h0M256.4 88.2h0M258.9 82.3h0M242.1 71.4h0M272.1 78.3h0M250.5 74.8h0M287.5 64.8h0M262.7 84.7h0M259.4 88.1h0M291.1 59.2h0M264.8 77.2h0M266.2 79.7h0M277.3 69.4h0M276.4 67.2h0M264.1 77.2h0M279.9 63.3h0M258.6 84.6h0M282.0 73.0h0M264.9 80.7h0M259.4 81.4h0M266.7 71.7h0M261.8 84.2h0M286.9 61.0h0M285.5 50.5h0M250.0 93.5h0M290.5 54.3h0M287.8 53.5h0M248.4 81.3h0M274.4 76.8h0M275.8 65.0h0M275.0 74.6h0M237.4 95.9h0M291.3 53.1h0M271.3 74.6h0M284.4 72.6h0M276.9 75.5h0M291.5 62.9h0M264.0 74.9h0M283.4 51.8h0M265.2 85.1h0M291.6 60.5h0M264.5 83.3h0M241.5 84.0h0M274.0 67.6h0M283.4 60.9h0M270.2 65.0h0M285.1 62.9h0M284.9 63.4h0M259.3 88.6h0M293.6 60.6h0M275.5 57.7h0M289.8 63.4h0M269.7 65.9h0M259.2 76.7h0M289.9 66.5h0M272.5 80.8h0M235.9 101.5h0M283.3 71.9h0M276.3 77.4h0M287.9 57.3h0M292.7 58.2h0M282.8 67.8h0M251.8 90.2h0M248.5 76.4h0M289.0 62.9h0M284.7 71.3h0M287.7 46.6h0M276.7 69.4h0M278.7 57.1h0M245.8 84.0h0M271.0 58.9h0M277.6 66.5h0M263.2 82.1h0M246.6 82.5h0M290.0 59.0h0M253.7 79.1h0M275.3 72.4h0M282.1 68.6h0M274.3 76.0h0M290.3 48.6h0M260.0 86.3h0M290.5 67.0h0M289.3 50.7h0M276.7 76.8h0M270.6 78.8h0M289.2 49.6h0M274.2 68.2h0M292.7 59.8h0M253.5 79.5h0M248.7 85.9h0M255.4 82.2h0M288.5 61.0h0M271.5 64.7h0M273.2 80.8h0M282.0 63.1h0M257.8 80.6h0M271.8 62.6h0M279.4 57.2h0M238.8 85.3h0M271.6 70.1h0M278.6 64.1h0M270.7 75.9h0M257.3 68.4h0M244.7 87.1h0M292.3 67.2h0M286.9 66.4h0M277.1 75.6h0M284.3 71.6h0M237.9 96.3h0M265.7 41.7h0M277.6 43.0h0M284.0 42.0h0M250.0 54.0h0M261.0 52.0h0" stroke="#222" stroke-width="1.5" stroke-linecap="round" fill="none"/>
<clipPath id="cp36"><rect x="36.5" y="11.6" width="309.5" height="195.4"/></clipPath>
<line clip-path="url(#cp36)" x1="57.90" y1="207.00" x2="346.00" y2="40.42" stroke="#555" stroke-width="1.4" stroke-dasharray="3.4 1.3"/>
<line clip-path="url(#cp36)" x1="78.70" y1="207.00" x2="346.00" y2="75.30" stroke="#333" stroke-width="1.3"/>
<line clip-path="url(#cp36)" x1="85.49" y1="207.00" x2="346.00" y2="76.33" stroke="#111" stroke-width="1.6" stroke-dasharray="3.6 1.3"/>
<rect x="36.5" y="11.6" width="309.5" height="195.4" fill="none" stroke="#999" stroke-width="1.2"/>
<path d="M36.50 207v-3M36.50 11.6v3M83.08 207v-1.6M83.08 11.6v1.6M110.33 207v-1.6M110.33 11.6v1.6M129.67 207v-1.6M129.67 11.6v1.6M144.67 207v-1.6M144.67 11.6v1.6M156.92 207v-1.6M156.92 11.6v1.6M167.28 207v-1.6M167.28 11.6v1.6M176.25 207v-1.6M176.25 11.6v1.6M184.17 207v-1.6M184.17 11.6v1.6M191.25 207v-3M191.25 11.6v3M237.83 207v-1.6M237.83 11.6v1.6M265.08 207v-1.6M265.08 11.6v1.6M284.42 207v-1.6M284.42 11.6v1.6M299.42 207v-1.6M299.42 11.6v1.6M311.67 207v-1.6M311.67 11.6v1.6M322.03 207v-1.6M322.03 11.6v1.6M331.00 207v-1.6M331.00 11.6v1.6M338.92 207v-1.6M338.92 11.6v1.6M346.00 207v-3M346.00 11.6v3M36.5 207.00h3M346 207.00h-3M36.5 158.15h3M346 158.15h-3M36.5 109.30h3M346 109.30h-3M36.5 60.45h3M346 60.45h-3M36.5 11.60h3M346 11.60h-3" stroke="#777" stroke-width="0.8" fill="none"/>
<text x="34.0" y="210.00" text-anchor="end" font-size="9.7" font-weight="bold">80</text>
<text x="34.0" y="161.15" text-anchor="end" font-size="9.7" font-weight="bold">100</text>
<text x="34.0" y="112.30" text-anchor="end" font-size="9.7" font-weight="bold">120</text>
<text x="34.0" y="63.45" text-anchor="end" font-size="9.7" font-weight="bold">140</text>
<text x="34.0" y="14.60" text-anchor="end" font-size="9.7" font-weight="bold">160</text>
<text x="36.50" y="221.00" text-anchor="middle" font-size="9.7" font-weight="bold">10<tspan dy="-5" font-size="6.5">1</tspan></text>
<text x="191.25" y="221.00" text-anchor="middle" font-size="9.7" font-weight="bold">10<tspan dy="-5" font-size="6.5">2</tspan></text>
<text x="346.00" y="221.00" text-anchor="middle" font-size="9.7" font-weight="bold">10<tspan dy="-5" font-size="6.5">3</tspan></text>
<text x="191.2" y="232" text-anchor="middle" font-size="9.7" font-weight="bold">Distance (m)</text>
<text transform="translate(13.5 109) rotate(-90)" text-anchor="middle" font-size="9.7" font-weight="bold">Path Loss (dB)</text>
<text x="110.3" y="165.6" font-size="9.7" font-weight="bold">(1)</text>
<text x="115.8" y="199.8" font-size="9.7" font-weight="bold">(2)</text>
<rect x="39.7" y="14.5" width="111.3" height="49.2" fill="#fff" stroke="#8a8a8a" stroke-width="1"/>
<circle cx="54.5" cy="21.8" r="0.7" fill="#222"/>
<line x1="43.900000000000006" y1="33.4" x2="65.1" y2="33.4" stroke="#444" stroke-width="1.4"/>
<line x1="43.900000000000006" y1="44.9" x2="65.1" y2="44.9" stroke="#666" stroke-width="1.1" stroke-dasharray="2.9 1.3"/>
<line x1="43.900000000000006" y1="56.5" x2="65.1" y2="56.5" stroke="#111" stroke-width="1.3" stroke-dasharray="2.9 1.3"/>
<text x="83.5" y="25.2" font-size="9.7" font-weight="bold">Measurement</text>
<text x="83.5" y="36.8" font-size="9.7" font-weight="bold">Regression</text>
<text x="67.30000000000001" y="48.3" font-size="9.7" font-weight="bold">(1)</text>
<text x="85.30000000000001" y="48.3" font-size="9.7" font-weight="bold">Modified Hata</text>
<text x="67.30000000000001" y="59.9" font-size="9.7" font-weight="bold">(2)</text>
<text x="85.30000000000001" y="59.9" font-size="9.7" font-weight="bold">Proposed</text>
<path d="M79.81 286.6V483.4M103.56 286.6V483.4M120.42 286.6V483.4M133.49 286.6V483.4M144.17 286.6V483.4M153.20 286.6V483.4M161.02 286.6V483.4M167.92 286.6V483.4M174.10 286.6V483.4M214.70 286.6V483.4M238.46 286.6V483.4M255.31 286.6V483.4M268.38 286.6V483.4M279.07 286.6V483.4M288.10 286.6V483.4M295.92 286.6V483.4M302.82 286.6V483.4M308.99 286.6V483.4M39.2 458.80H349.6M39.2 434.20H349.6M39.2 409.60H349.6M39.2 385.00H349.6M39.2 360.40H349.6M39.2 335.80H349.6M39.2 311.20H349.6" stroke="#a8a8a8" stroke-width="0.6" stroke-dasharray="1 1" fill="none"/>
<path d="M213.8 404.8h0M196.3 378.1h0M212.8 403.5h0M222.4 384.3h0M211.2 369.4h0M221.6 357.8h0M214.8 373.5h0M196.4 417.6h0M202.0 401.7h0M197.5 389.7h0M199.5 387.2h0M214.2 396.0h0M207.8 385.8h0M221.3 362.0h0M194.0 406.6h0M189.5 403.7h0M186.1 422.9h0M196.9 379.6h0M215.7 392.3h0M192.0 414.1h0M213.2 386.8h0M221.6 394.5h0M212.7 404.7h0M194.5 410.6h0M217.2 369.9h0M219.5 364.9h0M209.2 391.6h0M203.4 415.7h0M212.0 408.4h0M186.9 403.2h0M213.9 391.8h0M195.8 390.3h0M213.1 393.0h0M200.1 373.7h0M202.9 412.1h0M222.0 399.2h0M201.5 403.3h0M217.9 366.8h0M187.3 394.7h0M214.9 402.2h0M185.0 397.4h0M208.4 403.4h0M220.9 397.7h0M198.0 407.0h0M198.6 387.7h0M221.7 386.3h0M205.4 408.6h0M213.0 396.8h0M215.6 399.6h0M216.0 401.9h0M223.0 381.2h0M222.7 387.9h0M185.0 409.6h0M182.3 430.6h0M216.6 365.6h0M194.3 378.2h0M215.2 398.9h0M188.3 416.8h0M206.6 396.5h0M205.6 369.5h0M205.7 383.0h0M210.2 404.5h0M189.4 387.3h0M206.1 369.8h0M223.7 401.2h0M183.3 409.8h0M218.0 365.6h0M210.7 382.4h0M193.3 416.7h0M214.2 401.9h0M201.5 383.7h0M207.5 403.1h0M195.1 392.0h0M223.9 364.6h0M222.2 383.8h0M208.3 384.3h0M207.4 403.4h0M203.9 411.2h0M211.0 410.0h0M212.9 398.5h0M217.0 377.4h0M190.6 395.5h0M221.6 366.4h0M184.8 405.2h0M222.2 391.5h0M195.2 378.5h0M207.7 372.7h0M219.4 391.1h0M202.1 383.2h0M187.4 407.1h0M214.5 386.9h0M216.1 369.3h0M204.4 410.3h0M213.8 384.5h0M219.5 360.8h0M172.8 432.4h0M213.5 397.0h0M212.6 371.6h0M206.4 405.2h0M194.1 382.5h0M201.5 394.2h0M204.5 400.5h0M218.8 405.4h0M216.5 405.1h0M208.6 407.6h0M199.7 415.9h0M220.4 363.9h0M180.7 388.8h0M202.5 376.3h0M201.2 403.4h0M207.6 369.6h0M181.4 395.2h0M205.2 371.5h0M190.5 408.5h0M183.3 415.8h0M223.8 366.8h0M219.3 370.8h0M201.3 416.9h0M213.6 383.3h0M196.4 387.9h0M220.9 389.2h0M213.1 396.8h0M205.8 392.9h0M199.0 377.7h0M205.8 380.8h0M216.7 398.0h0M217.7 373.3h0M182.6 392.5h0M223.2 369.4h0M209.0 401.0h0M139.0 475.2h0M138.9 474.3h0M138.4 473.7h0M138.1 480.5h0M138.8 476.9h0M139.2 479.2h0M138.4 481.5h0M138.2 475.4h0M138.6 478.6h0M138.9 470.9h0M139.1 476.0h0M138.7 478.2h0M138.3 479.1h0M138.8 477.4h0M139.1 475.7h0M138.8 481.2h0M139.2 472.1h0M138.6 478.3h0M139.1 474.7h0M139.4 470.2h0M138.4 479.3h0M163.5 477.3h0M141.3 472.9h0M162.7 476.2h0M146.5 474.9h0M154.7 476.6h0M163.5 466.7h0M166.3 478.9h0M153.2 479.0h0M160.6 467.6h0M163.0 477.8h0M157.3 475.8h0M167.6 472.6h0M151.8 474.4h0M151.4 470.0h0M153.8 471.9h0M160.8 474.5h0M162.9 472.8h0M139.3 463.0h0M145.1 477.8h0M142.7 479.4h0M141.0 470.5h0M164.0 466.3h0M143.8 477.8h0M164.0 467.7h0M153.2 473.9h0M162.1 471.5h0M166.6 475.0h0M167.6 471.2h0M140.5 478.1h0M164.5 468.4h0M148.6 478.6h0M144.2 470.1h0M157.5 468.1h0M158.9 472.8h0M142.1 471.1h0M159.9 468.9h0M158.5 479.7h0M162.9 467.4h0M151.9 477.3h0M165.7 474.0h0M155.2 478.5h0M146.1 469.9h0M146.9 474.4h0M157.7 471.1h0M165.5 473.3h0M153.3 472.8h0M151.4 467.5h0M164.0 467.5h0M153.5 470.1h0M149.1 477.6h0M144.0 476.2h0M194.8 440.2h0M198.8 413.1h0M175.0 460.5h0M193.6 415.1h0M156.9 462.8h0M208.4 394.3h0M180.5 442.6h0M164.0 462.6h0M169.2 454.7h0M211.1 400.3h0M166.7 462.4h0M174.0 445.6h0M181.2 426.9h0M189.3 435.9h0M168.8 430.1h0M179.7 458.1h0M213.0 405.5h0M203.0 408.8h0M167.8 458.3h0M226.3 374.4h0M184.5 454.2h0M183.6 417.8h0M202.9 408.4h0M225.5 374.4h0M206.8 412.3h0M214.9 384.4h0M188.5 457.6h0M174.9 442.9h0M204.5 419.0h0M199.8 416.2h0M188.9 431.5h0M160.1 454.6h0M191.7 426.8h0M171.2 466.3h0M209.7 417.4h0M169.2 453.1h0M197.0 418.5h0M189.9 433.2h0M167.6 458.9h0M222.0 358.2h0M169.3 455.2h0M201.9 390.6h0M216.2 380.7h0M191.8 431.8h0M174.5 440.8h0M162.8 459.7h0M178.3 460.1h0M184.9 441.6h0M172.7 451.5h0M169.1 454.7h0M195.1 419.9h0M216.1 417.3h0M185.6 433.0h0M168.1 454.7h0M171.3 447.8h0M169.0 457.0h0M223.1 387.5h0M210.8 393.8h0M167.7 469.5h0M160.8 452.0h0M213.1 401.5h0M193.9 421.1h0M164.9 454.5h0M219.2 394.6h0M184.3 435.6h0M186.6 431.0h0M215.4 392.0h0M205.1 410.6h0M193.0 412.0h0M164.1 456.3h0M190.2 436.2h0M219.6 394.6h0M195.9 415.0h0M174.1 437.0h0M194.0 413.7h0M205.7 386.5h0M195.3 428.4h0M183.7 428.6h0M214.2 416.3h0M172.3 432.4h0M186.4 452.8h0M189.0 426.9h0M176.9 433.3h0M198.1 411.0h0M197.1 396.0h0M189.7 443.5h0M225.1 385.4h0M217.6 385.9h0M212.7 413.8h0M214.9 399.2h0M223.7 380.1h0M178.1 445.3h0M200.8 403.3h0M185.6 442.9h0M197.4 445.3h0M225.0 369.5h0M183.0 421.7h0M195.8 417.4h0M176.4 447.6h0M214.7 389.0h0M173.1 444.5h0M186.8 426.3h0M166.7 453.0h0M202.7 420.8h0M168.5 453.4h0M191.2 424.4h0M181.6 427.2h0M190.9 415.8h0M223.9 394.1h0M195.1 435.2h0M194.7 417.8h0M195.4 424.9h0M179.2 451.9h0M211.3 384.9h0M188.0 429.6h0M208.9 390.9h0M172.2 448.4h0M190.5 434.9h0M177.6 448.2h0M163.6 468.1h0M217.2 378.3h0M205.3 425.0h0M212.3 394.3h0M192.8 428.1h0M171.1 436.8h0M182.8 427.1h0M164.4 471.1h0M194.6 417.0h0M193.2 412.4h0M189.3 436.9h0M206.0 413.6h0M164.2 447.8h0M220.1 405.1h0M199.4 399.0h0M166.6 450.5h0M199.6 406.9h0M204.5 422.4h0M218.1 401.0h0M188.0 426.1h0M173.1 452.5h0M171.3 466.3h0M172.1 447.8h0M181.4 437.7h0M207.8 413.1h0M165.0 479.8h0M161.8 461.1h0M204.4 395.3h0M167.8 452.9h0M163.6 464.5h0M157.9 458.1h0M191.3 420.3h0M188.0 426.5h0M219.1 392.9h0M180.4 462.0h0M204.8 415.2h0M171.0 453.7h0M211.0 394.6h0M197.2 420.5h0M166.2 466.2h0M163.3 464.6h0M226.3 382.8h0M181.6 435.4h0M208.0 384.1h0M162.1 467.8h0M194.1 440.0h0M206.5 401.8h0M165.7 474.3h0M191.9 420.0h0M221.2 375.5h0M175.9 447.2h0M170.0 438.8h0M177.7 452.8h0M185.9 436.7h0M185.1 430.3h0M193.4 423.7h0M218.0 386.1h0M164.4 467.2h0M215.9 389.6h0M207.7 405.0h0M188.9 412.3h0M178.3 448.0h0M207.6 405.6h0M170.1 464.9h0M161.5 467.7h0M199.7 419.5h0M163.6 452.6h0M174.1 453.5h0M174.6 454.6h0M178.7 426.8h0M192.2 411.2h0M221.5 378.0h0M217.4 383.7h0M185.8 421.0h0M180.9 459.0h0M179.8 439.3h0M221.5 392.7h0M171.7 453.9h0M207.1 392.7h0M192.8 414.6h0M211.9 399.5h0M204.0 400.5h0M190.9 418.6h0M215.8 389.0h0M219.1 386.5h0M212.2 396.7h0M215.1 386.0h0M173.9 449.1h0M180.6 427.9h0M220.7 381.5h0M171.9 464.8h0M168.4 457.5h0M199.3 386.3h0M205.8 398.0h0M214.2 382.3h0M216.6 377.1h0M230.8 362.1h0M155.7 464.6h0M190.3 424.3h0M189.7 424.1h0M178.4 431.8h0M207.0 389.7h0M225.9 372.9h0M202.5 422.0h0M166.5 448.2h0M183.5 432.3h0M227.0 385.2h0M193.8 430.6h0M173.6 433.4h0M165.6 460.6h0M174.4 443.3h0M162.6 456.4h0M215.9 383.4h0M206.3 418.5h0M202.4 442.7h0M201.8 410.2h0M188.7 429.4h0M210.5 385.5h0M214.3 406.1h0M193.6 421.5h0M167.5 445.4h0M221.7 389.6h0M195.4 413.7h0M201.6 395.5h0M179.2 449.8h0M167.6 447.9h0M174.0 469.8h0M166.3 475.2h0M215.2 380.8h0M164.4 465.7h0M169.6 471.7h0M223.9 392.3h0M166.3 476.6h0M210.6 408.4h0M202.0 392.4h0M218.4 406.0h0M198.1 425.1h0M180.6 451.2h0M228.8 385.7h0M201.2 404.5h0M163.4 451.0h0M173.2 439.8h0M208.7 399.3h0M187.6 421.2h0M214.2 398.8h0M185.9 445.6h0M174.6 457.9h0M197.3 404.1h0M166.6 474.0h0M177.8 424.9h0M182.7 428.6h0M195.8 431.4h0M193.0 423.8h0M228.6 395.5h0M213.1 409.9h0M165.9 463.5h0M166.0 445.5h0M203.3 411.7h0M190.6 430.2h0M226.4 384.1h0M179.3 455.3h0M172.5 452.1h0M177.1 447.1h0M203.3 407.4h0M187.6 439.0h0M177.5 451.6h0M220.3 389.8h0M220.8 389.9h0M206.4 407.4h0M175.3 452.5h0M161.9 463.2h0M200.3 415.5h0M198.6 417.8h0M218.8 394.3h0M168.1 461.9h0M179.3 446.6h0M214.9 383.1h0M223.0 382.4h0M173.9 439.0h0M221.1 382.9h0M207.3 394.3h0M225.2 390.4h0M228.1 344.9h0M225.2 372.3h0M225.5 364.1h0M231.3 374.7h0M227.6 351.9h0M224.1 381.7h0M229.6 345.3h0M225.6 383.0h0M224.4 377.3h0M228.2 337.3h0M222.9 374.7h0M226.3 335.0h0M227.9 377.6h0M228.4 340.7h0M225.2 366.8h0M225.2 363.4h0M226.3 340.3h0M229.6 336.4h0M221.9 376.5h0M228.6 359.8h0M227.3 386.5h0M230.0 367.2h0M229.5 371.0h0M227.3 374.0h0M225.5 369.5h0M220.2 377.3h0M226.4 355.2h0M227.5 357.1h0M228.7 396.3h0M224.9 364.8h0M223.5 348.5h0M228.3 376.9h0M225.6 353.9h0M229.2 369.5h0M230.2 387.6h0M225.9 390.3h0M224.7 388.3h0M221.3 379.5h0M226.5 377.7h0M228.4 373.4h0M229.2 367.8h0M231.3 367.2h0M225.2 397.0h0M226.5 366.5h0M225.1 389.2h0M225.4 320.0h0M225.8 371.2h0M224.8 357.9h0M225.5 395.5h0M227.3 394.3h0M226.8 358.0h0M223.9 367.4h0M227.8 384.6h0M224.4 374.0h0M227.7 370.5h0M226.7 385.6h0M221.6 346.6h0M223.9 396.5h0M229.0 376.7h0M224.9 353.5h0M225.4 367.8h0M228.0 369.1h0M225.8 343.6h0M230.9 392.6h0M225.1 376.2h0M225.3 369.3h0M226.1 387.4h0M227.0 362.9h0M230.3 367.6h0M232.6 386.7h0M225.7 377.2h0M226.1 386.3h0M228.2 363.5h0M228.8 345.5h0M223.8 346.4h0M228.7 378.4h0M220.9 364.6h0M227.9 373.3h0M228.3 370.6h0M232.9 367.3h0M224.2 351.9h0M228.3 375.2h0M228.2 392.3h0M224.1 355.7h0M224.4 396.8h0M223.5 355.7h0M222.6 383.8h0M226.0 351.4h0M223.8 368.0h0M221.2 351.5h0M227.3 361.0h0M222.1 338.5h0M228.3 367.5h0M227.2 352.3h0M224.4 354.9h0M222.4 336.6h0M224.2 370.8h0M225.5 363.9h0M225.6 367.5h0M232.9 350.7h0M221.1 362.1h0M225.0 355.5h0M228.0 343.5h0M229.2 354.9h0M230.0 361.3h0M224.0 375.4h0M228.6 364.3h0M219.0 374.8h0M225.9 392.0h0M228.7 385.7h0M228.4 362.8h0M222.8 339.8h0M224.3 366.7h0M220.9 371.3h0M224.6 386.8h0M222.9 372.2h0M224.5 364.3h0M228.1 381.0h0M226.2 354.2h0M225.6 352.7h0M231.1 364.7h0M229.5 373.2h0M223.0 381.4h0M228.5 388.8h0M230.0 395.1h0M227.7 392.7h0M221.8 384.1h0M225.5 367.5h0M220.1 379.1h0M222.8 391.5h0M224.7 353.0h0M229.8 381.0h0M226.6 378.2h0M227.1 367.2h0M224.1 357.7h0M229.4 352.8h0M227.1 368.7h0M224.0 358.8h0M225.0 392.2h0M225.8 341.2h0M228.1 347.1h0M230.2 374.7h0M225.7 382.1h0M225.9 349.2h0M231.2 391.5h0M234.9 336.7h0M231.2 386.8h0M227.0 354.2h0M225.5 361.2h0M227.3 368.2h0M224.4 358.2h0M230.1 373.3h0M224.3 370.3h0M224.4 356.0h0M225.1 372.6h0M223.2 348.0h0M228.6 357.4h0M222.7 359.4h0M228.2 380.0h0M227.5 360.7h0M228.5 377.2h0M222.6 388.6h0M226.9 395.8h0M227.2 340.3h0M228.8 368.1h0M227.5 349.4h0M224.9 379.8h0M229.5 373.2h0M230.2 368.8h0M230.1 359.9h0M224.5 352.5h0M227.9 340.2h0M224.1 385.3h0M226.0 365.5h0M228.5 369.4h0M222.7 374.3h0M233.9 382.3h0M224.5 365.9h0M225.0 380.0h0M226.3 341.1h0M226.1 362.2h0M223.3 356.9h0M226.1 358.2h0M222.4 388.5h0M224.8 370.7h0M231.2 370.0h0M226.3 370.2h0M225.5 365.1h0M230.7 365.1h0M227.3 357.9h0M228.2 359.8h0M225.0 361.6h0M229.4 365.8h0M225.6 337.1h0M228.8 370.0h0M228.2 368.2h0M231.1 375.9h0M229.1 350.0h0M226.4 353.1h0M223.7 382.4h0M225.7 356.7h0M224.6 376.9h0M230.6 357.4h0M225.3 348.5h0M220.4 344.2h0M227.5 358.5h0M228.7 360.8h0M224.0 348.1h0M228.4 392.8h0M223.0 369.2h0M227.1 353.8h0M226.1 394.0h0M227.3 382.7h0M227.6 356.0h0M224.7 351.5h0M228.6 365.7h0M225.1 381.1h0M226.8 345.2h0M230.3 388.2h0M224.0 362.4h0M226.7 382.9h0M230.8 366.5h0M229.9 377.1h0M224.7 379.7h0M224.8 390.6h0M228.0 356.9h0M226.7 347.5h0M222.8 374.2h0M228.2 380.3h0M222.2 369.4h0M226.8 383.9h0M228.4 341.8h0M224.7 368.2h0M222.3 385.8h0M223.1 369.2h0M221.3 350.4h0M231.3 371.7h0M221.3 372.2h0M223.0 352.4h0M227.4 391.3h0M226.6 360.0h0M229.2 351.8h0M230.0 370.8h0M227.7 358.1h0M226.3 365.8h0M225.0 373.0h0M226.0 362.1h0M229.0 379.0h0M228.1 374.0h0M228.2 389.5h0M222.0 352.3h0M224.4 370.2h0M224.6 373.4h0M225.0 373.9h0M223.6 333.9h0M228.3 351.2h0M229.3 374.6h0M231.4 378.7h0M225.1 369.7h0M226.2 372.2h0M226.7 389.7h0M226.5 363.2h0M224.2 356.3h0M228.6 394.2h0M221.0 379.4h0M225.2 366.4h0M221.4 357.2h0M228.2 396.1h0M222.7 364.6h0M223.4 355.6h0M226.4 390.5h0M223.7 344.5h0M227.2 366.7h0M225.4 379.7h0M231.8 364.4h0M223.2 360.5h0M224.3 376.5h0M228.0 348.8h0M226.8 365.6h0M227.7 381.3h0M225.7 350.8h0M229.0 392.4h0M227.4 365.7h0M222.5 377.0h0M213.6 393.1h0M225.0 376.7h0M218.0 377.5h0M200.9 418.3h0M220.0 389.4h0M224.8 381.4h0M238.9 371.4h0M221.4 395.9h0M212.6 392.4h0M201.1 395.6h0M207.3 403.7h0M242.6 377.2h0M224.5 376.6h0M241.0 362.8h0M204.9 418.6h0M207.2 396.8h0M239.6 392.9h0M202.0 411.6h0M221.5 389.4h0M229.5 381.6h0M223.8 409.4h0M229.8 376.2h0M202.2 398.9h0M224.7 377.4h0M224.0 386.5h0M235.0 368.7h0M221.7 391.6h0M214.6 379.0h0M220.5 397.6h0M207.5 404.4h0M235.0 383.4h0M224.2 380.6h0M212.0 413.3h0M231.2 409.0h0M214.1 393.7h0M222.8 379.4h0M244.5 382.2h0M242.0 373.1h0M220.1 393.0h0M211.8 405.3h0M233.4 364.4h0M243.7 383.9h0M238.8 364.6h0M226.8 370.5h0M234.0 376.4h0M244.9 392.4h0M213.3 387.8h0M204.2 408.3h0M233.8 369.6h0M241.5 384.1h0M226.0 391.0h0M213.7 410.5h0M217.4 395.3h0M200.2 405.2h0M233.6 357.7h0M244.1 378.2h0M206.4 410.9h0M226.3 389.3h0M219.6 393.8h0M228.6 392.4h0M243.6 385.7h0M237.0 367.7h0M228.2 384.5h0M201.7 409.6h0M215.1 397.9h0M214.7 382.6h0M232.5 357.0h0M206.2 405.0h0M210.7 406.9h0M205.2 423.0h0M231.0 388.8h0M200.1 394.0h0M216.9 399.0h0M215.7 392.7h0M240.2 368.2h0M202.4 385.1h0M233.2 358.5h0M220.2 382.1h0M214.5 389.6h0M201.5 405.0h0M217.7 393.0h0M243.6 377.5h0M233.6 406.0h0M207.1 399.4h0M205.7 418.7h0M224.3 378.1h0M228.9 375.5h0M241.8 369.0h0M242.6 352.2h0M239.1 398.9h0M205.8 404.4h0M220.0 400.3h0M209.8 420.4h0M227.6 391.5h0M211.4 418.1h0M219.5 361.2h0M240.2 393.2h0M211.9 400.7h0M239.5 370.3h0M227.5 399.7h0M211.9 397.2h0M230.7 374.6h0M229.5 359.4h0M217.6 415.7h0M237.9 344.9h0M234.2 382.0h0M226.8 406.8h0M230.4 392.1h0M237.0 371.1h0M225.9 383.5h0M232.8 374.1h0M222.0 392.8h0M220.1 390.0h0M216.4 376.9h0M216.8 374.4h0M237.2 393.6h0M216.3 377.2h0M225.4 372.6h0M217.0 423.1h0M226.7 375.5h0M205.6 384.0h0M201.4 391.5h0M216.2 403.5h0M211.9 387.0h0M238.6 376.0h0M235.0 350.5h0M238.7 369.7h0M221.8 390.0h0M229.3 384.9h0M234.2 399.8h0M214.4 401.2h0M204.7 364.2h0M243.6 353.1h0M242.0 363.7h0M203.1 398.8h0M207.8 399.9h0M237.5 386.4h0M229.7 362.0h0M235.7 350.7h0M221.8 399.6h0M210.1 384.6h0M208.1 368.4h0M240.9 363.5h0M224.4 381.7h0M223.7 372.2h0M227.4 370.0h0M230.8 396.0h0M212.4 381.5h0M203.6 405.9h0M241.5 378.1h0M208.1 394.2h0M233.3 411.7h0M219.9 373.0h0M214.8 427.7h0M241.5 362.9h0M232.7 378.0h0M234.9 383.9h0M213.2 409.7h0M232.2 391.0h0M216.3 388.5h0M234.0 376.1h0M239.1 392.3h0M203.9 421.8h0M236.3 372.1h0M215.8 409.4h0M201.7 410.8h0M231.4 385.8h0M236.6 364.6h0M210.7 380.8h0M230.5 388.8h0M229.2 348.0h0M225.1 380.6h0M240.1 382.0h0M233.2 359.7h0M224.6 408.6h0M243.8 395.5h0M201.3 390.0h0M229.0 382.9h0M230.3 381.7h0M230.4 376.3h0M235.2 373.6h0M222.4 395.3h0M206.3 422.0h0M228.7 385.6h0M203.6 403.6h0M238.2 379.6h0M232.2 373.2h0M205.1 409.4h0M231.9 375.9h0M209.6 385.2h0M235.6 388.2h0M201.9 379.3h0M201.0 397.6h0M217.2 387.6h0M219.1 389.6h0M218.2 372.0h0M200.3 392.3h0M200.0 402.9h0M221.0 397.9h0M230.7 381.7h0M243.2 371.7h0M235.6 368.9h0M214.7 394.7h0M221.0 353.9h0M233.1 389.9h0M215.2 406.7h0M227.1 385.6h0M218.0 379.6h0M232.9 399.0h0M216.5 384.4h0M205.0 418.8h0M220.3 387.0h0M220.1 380.9h0M225.2 384.3h0M213.4 386.6h0M214.7 392.3h0M235.6 386.3h0M234.6 377.2h0M201.7 397.7h0M222.3 388.9h0M234.8 385.5h0M202.6 403.1h0M220.6 397.4h0M208.5 406.4h0M224.4 391.4h0M218.1 401.4h0M228.5 385.0h0M228.4 399.6h0M202.8 408.2h0M216.9 403.8h0M202.6 400.6h0M243.0 356.4h0M202.2 397.7h0M208.7 399.3h0M205.4 405.8h0M205.9 400.3h0M224.8 406.4h0M211.0 380.5h0M232.5 359.3h0M243.9 371.7h0M237.3 369.9h0M213.7 395.7h0M211.3 405.4h0M232.3 365.3h0M204.3 388.1h0M244.5 372.9h0M236.6 360.2h0M232.6 372.3h0M242.7 391.4h0M200.4 403.9h0M206.3 400.1h0M222.4 403.3h0M229.9 362.0h0M204.8 403.1h0M224.1 387.4h0M202.8 406.4h0M217.4 379.9h0M206.3 395.0h0M235.4 378.7h0M234.3 390.2h0M237.0 369.6h0M218.1 400.0h0M207.2 372.7h0M233.9 386.5h0M219.2 401.3h0M205.7 389.3h0M200.8 400.6h0M213.2 395.6h0M227.7 389.1h0M222.0 404.7h0M218.1 394.6h0M200.5 401.7h0M224.3 385.3h0M245.0 376.7h0M208.2 409.1h0M235.1 383.5h0M203.7 395.3h0M234.1 376.7h0M219.1 381.4h0M232.6 370.9h0M228.9 378.4h0M215.3 386.8h0M237.8 388.1h0M220.6 375.3h0M244.3 374.6h0M234.8 365.5h0M200.8 414.4h0M234.1 384.7h0M226.2 402.4h0M240.8 383.1h0M226.9 373.1h0M227.7 385.9h0M227.4 377.7h0M210.0 391.3h0M221.7 376.7h0M239.4 373.3h0M207.2 401.0h0M217.4 395.3h0M235.1 411.5h0M239.6 375.0h0M207.9 400.5h0M212.0 395.3h0M233.5 378.1h0M234.0 377.2h0M212.5 396.8h0M205.8 398.4h0M203.7 411.5h0M241.4 381.2h0M243.1 363.5h0M200.7 404.5h0M217.3 396.6h0M212.9 392.5h0M219.2 388.5h0M224.2 386.7h0M221.6 397.4h0M225.5 389.2h0M223.8 381.4h0M224.2 387.3h0M240.6 391.8h0M212.6 384.1h0M208.6 407.1h0M238.5 374.7h0M204.1 409.9h0M232.8 382.6h0M225.4 385.7h0M232.2 363.3h0M211.9 390.2h0M239.9 402.0h0M208.1 403.8h0M236.3 375.8h0M213.5 395.3h0M238.8 378.2h0M237.3 366.8h0M235.8 381.1h0M231.7 389.0h0M235.2 361.8h0M235.8 376.8h0M232.6 347.9h0M204.3 381.0h0M216.9 403.5h0M239.4 392.5h0M201.0 427.4h0M207.9 383.4h0M237.2 377.7h0M239.3 373.1h0M235.0 393.6h0M230.4 387.6h0M225.3 388.2h0M211.7 404.3h0M216.5 387.8h0M211.7 408.9h0M219.6 387.0h0M227.0 399.7h0M221.9 391.9h0M245.0 376.2h0M237.8 364.3h0M225.9 367.7h0M206.0 381.3h0M212.1 402.6h0M205.3 374.6h0M208.7 415.8h0M216.6 389.3h0M206.7 383.6h0M208.8 403.1h0M244.5 358.3h0M221.4 390.4h0M205.9 397.5h0M238.8 392.5h0M221.2 401.2h0M242.4 386.7h0M229.7 378.4h0M229.4 399.7h0M236.6 378.3h0M203.4 404.1h0M224.0 393.6h0M236.8 382.5h0M201.1 387.6h0M274.9 360.2h0M265.7 361.0h0M251.5 360.3h0M275.6 348.3h0M246.0 369.4h0M242.4 391.5h0M270.8 358.9h0M281.1 366.6h0M250.5 374.5h0M259.4 372.1h0M251.8 380.1h0M264.5 384.6h0M275.7 364.3h0M276.5 330.2h0M267.0 375.8h0M268.0 360.5h0M251.5 352.8h0M255.2 367.3h0M238.1 397.7h0M243.5 372.1h0M245.5 378.7h0M264.7 358.6h0M264.8 338.8h0M237.5 372.2h0M247.6 364.8h0M268.4 366.6h0M275.0 379.7h0M267.6 351.1h0M260.6 396.3h0M237.3 403.8h0M258.0 382.1h0M281.9 355.5h0M243.5 392.9h0M246.8 393.9h0M273.3 341.3h0M272.3 356.8h0M273.4 373.2h0M256.0 356.3h0M237.1 377.4h0M272.1 365.3h0M278.2 383.2h0M261.1 377.9h0M254.0 359.2h0M242.6 355.0h0M248.9 351.7h0M260.1 349.0h0M271.5 339.5h0M240.8 364.9h0M257.8 376.2h0M236.9 389.7h0M261.2 374.6h0M258.9 378.6h0M258.3 396.9h0M247.5 378.1h0M242.4 374.0h0M276.5 383.0h0M279.4 342.1h0M261.3 355.0h0M279.8 345.1h0M254.3 386.7h0M253.5 383.3h0M252.8 377.3h0M239.8 404.1h0M251.6 378.0h0M255.4 384.0h0M268.4 388.3h0M250.0 369.5h0M253.8 361.4h0M270.8 352.6h0M258.8 393.1h0M264.1 369.9h0M255.3 390.2h0M244.8 379.3h0M254.6 362.2h0M261.5 337.0h0M275.6 346.3h0M253.2 354.8h0M241.9 352.6h0M237.3 371.6h0M281.1 348.5h0M264.7 364.3h0M274.1 373.3h0M273.3 387.6h0M261.8 350.1h0M245.5 378.5h0M258.3 393.6h0M240.1 392.2h0M261.5 392.3h0M278.7 354.0h0M255.3 378.3h0M258.4 384.6h0M248.4 355.9h0M274.0 354.8h0M277.1 368.2h0M262.1 372.8h0M255.9 362.0h0M242.6 388.9h0M264.3 366.8h0M244.3 391.2h0M248.9 353.9h0M251.6 352.1h0M247.8 400.3h0M267.8 362.6h0M264.1 366.1h0M275.6 378.7h0M271.5 336.8h0M273.2 332.4h0M247.3 397.3h0M262.8 387.9h0M275.3 358.4h0M263.5 374.5h0M248.0 380.8h0M269.3 356.3h0M252.4 377.0h0M265.0 361.8h0M274.3 356.5h0M260.5 346.7h0M257.2 395.5h0M257.7 378.2h0M265.5 368.8h0M278.1 372.1h0M258.7 395.5h0M265.4 343.9h0M267.5 353.3h0M272.3 351.0h0M240.5 393.7h0M261.6 375.1h0M241.3 362.1h0M237.3 392.5h0M243.1 407.8h0M281.2 361.6h0M263.6 379.3h0M272.0 350.6h0M262.7 373.6h0M265.0 371.6h0M252.1 378.2h0M266.5 375.9h0M248.7 369.7h0M261.1 351.9h0M259.9 357.6h0M260.5 375.6h0M241.7 375.0h0M259.6 356.9h0M248.7 375.8h0M236.9 362.6h0M270.9 369.8h0M241.7 383.4h0M279.7 363.7h0M259.4 341.1h0M252.8 394.1h0M237.5 370.8h0M236.6 387.0h0M267.4 384.9h0M268.0 372.2h0M252.3 376.7h0M275.3 364.3h0M249.5 379.0h0M260.1 343.5h0M242.6 367.8h0M252.3 376.4h0M269.3 364.1h0M256.0 362.4h0M248.5 397.8h0M259.2 345.8h0M274.6 351.4h0M262.9 373.0h0M248.3 377.2h0M277.0 350.4h0M241.1 372.3h0M270.6 387.3h0M256.5 350.1h0M260.3 372.1h0M247.9 405.6h0M248.0 365.4h0M243.1 383.9h0M261.1 350.5h0M269.2 367.2h0M236.4 408.5h0M249.0 406.9h0M258.5 345.8h0M280.6 356.0h0M259.2 372.6h0M261.2 371.5h0M260.7 399.0h0M243.7 380.9h0M260.3 375.5h0M243.4 381.9h0M272.6 373.5h0M271.9 386.8h0M271.3 356.7h0M246.2 398.9h0M255.9 377.0h0M240.1 382.5h0M262.7 386.7h0M245.2 397.8h0M273.8 345.5h0M261.0 355.6h0M246.2 384.9h0M262.5 372.6h0M254.6 355.9h0M266.6 356.0h0M276.9 385.3h0M237.0 369.8h0M248.2 372.1h0M276.0 346.8h0M241.7 383.3h0M262.1 364.8h0M280.0 337.2h0M246.0 383.2h0M277.5 349.8h0M248.2 382.8h0M262.4 362.1h0M266.8 352.2h0M239.6 376.5h0M275.3 373.8h0M274.1 367.4h0M237.2 402.3h0M258.2 366.8h0M278.6 383.7h0M252.2 380.7h0M256.3 365.4h0M250.8 361.1h0M239.2 361.7h0M240.5 380.7h0M266.8 358.6h0M248.4 389.8h0M279.8 357.6h0M277.5 380.3h0M269.5 345.9h0M259.0 397.7h0M271.1 367.6h0M236.6 408.1h0M279.6 358.1h0M280.9 330.9h0M263.3 394.6h0M262.1 377.2h0M270.3 341.6h0M236.1 362.2h0M268.1 367.7h0M253.3 344.7h0M236.2 363.5h0M256.0 376.4h0M278.6 344.2h0M263.1 378.9h0M248.1 369.0h0M259.1 364.2h0M274.0 366.7h0M242.7 377.2h0M280.2 380.5h0M243.2 380.2h0M242.1 361.6h0M237.2 384.0h0M276.9 367.3h0M264.4 358.4h0M265.9 369.4h0M254.5 375.4h0M240.8 390.5h0M253.0 394.4h0M243.7 380.6h0M262.4 348.4h0M266.3 378.8h0M260.6 377.7h0M253.4 380.5h0M248.0 375.8h0M267.3 343.7h0M244.3 381.8h0M278.8 353.1h0M259.0 374.8h0M260.6 377.4h0M275.2 344.7h0M241.5 383.5h0M278.2 353.1h0M277.2 361.8h0M253.3 378.2h0M243.8 385.2h0M272.7 343.6h0M238.0 403.9h0M270.6 374.4h0M269.4 349.4h0M242.2 373.0h0M236.1 373.4h0M241.3 401.0h0M268.6 356.2h0M256.0 363.6h0M280.6 355.9h0M242.1 394.8h0M280.2 352.2h0M280.4 336.8h0M250.2 380.7h0M238.8 391.9h0M274.3 365.0h0M265.9 371.9h0M268.9 381.2h0M244.4 381.5h0M238.5 369.4h0M248.8 387.0h0M276.1 351.8h0M236.6 408.9h0M273.4 370.7h0M244.9 400.4h0M250.0 349.4h0M262.1 354.6h0M277.0 347.2h0M261.4 347.0h0M261.7 359.3h0M271.1 353.5h0M268.3 376.1h0M275.0 362.1h0M250.3 370.4h0M279.8 371.4h0M280.6 331.1h0M269.2 385.2h0M238.5 387.4h0M253.7 383.0h0M272.5 365.0h0M246.2 351.9h0M258.3 355.4h0M251.0 375.2h0M243.5 383.2h0M262.1 373.4h0M252.7 387.8h0M273.7 367.1h0M240.1 388.9h0M277.3 334.9h0M253.4 400.8h0M269.6 373.2h0M246.0 365.7h0M239.8 371.7h0M238.3 364.1h0M248.2 381.8h0M246.0 381.5h0M265.1 371.3h0M264.4 343.1h0M277.5 334.8h0M264.4 355.5h0M261.7 370.3h0M248.1 366.3h0M237.5 380.2h0M264.4 365.5h0M243.7 387.7h0M281.9 355.5h0M267.3 340.5h0M237.5 384.9h0M256.1 370.7h0M240.3 387.2h0M236.0 367.0h0M254.2 368.4h0M278.6 345.2h0M242.0 382.3h0M281.5 328.5h0M256.6 380.2h0M249.9 351.9h0M278.8 347.1h0M250.4 393.6h0M243.0 374.1h0M278.1 361.7h0M278.4 371.3h0M271.9 370.7h0M271.3 390.2h0M257.3 378.3h0M275.1 378.0h0M254.7 397.2h0M258.1 364.1h0M243.3 389.4h0M260.4 373.0h0M268.9 381.5h0M248.0 350.9h0M242.3 361.5h0M239.5 377.1h0M257.7 386.0h0M241.0 355.3h0M255.4 354.1h0M264.1 340.6h0M238.7 358.4h0M272.4 341.7h0M240.4 399.2h0M241.5 363.2h0M266.1 368.7h0M279.3 358.8h0M241.3 390.5h0M268.2 380.4h0M257.6 395.4h0M245.3 405.2h0M262.1 373.0h0M255.7 361.7h0M253.6 394.8h0M275.9 361.9h0M261.7 373.8h0M273.2 365.3h0M238.0 380.8h0M279.4 333.3h0M246.4 383.1h0M259.6 380.2h0M239.1 395.3h0M245.7 364.9h0M258.0 397.4h0M270.5 354.4h0M271.5 337.2h0M257.6 370.6h0M247.4 382.5h0M263.9 370.9h0M253.0 380.2h0M243.5 380.8h0M271.0 390.6h0M272.2 363.6h0M243.8 374.9h0M237.8 378.7h0M270.1 377.5h0M273.0 376.3h0M239.3 376.2h0M254.2 362.1h0M267.9 378.0h0M251.3 383.5h0M272.3 377.7h0M237.9 370.9h0M261.8 357.5h0M245.9 368.0h0M268.8 366.7h0M236.7 391.2h0M268.4 368.2h0M257.0 378.3h0M268.0 387.8h0M241.3 398.9h0M274.4 359.1h0M266.1 349.9h0M237.6 401.6h0M276.0 355.8h0M243.7 374.4h0M253.6 367.6h0M252.2 385.0h0M271.5 374.4h0M270.8 355.5h0M239.9 413.4h0M275.2 349.8h0M243.3 379.0h0M269.0 359.1h0M241.7 401.7h0M254.8 373.2h0M241.0 387.7h0M266.8 360.1h0M254.4 366.7h0M261.9 388.1h0M281.9 375.9h0M273.9 347.4h0M245.2 364.9h0M256.0 352.3h0M262.2 391.1h0M251.5 404.1h0M238.8 400.3h0M252.0 377.0h0M248.8 366.4h0M245.1 377.1h0M243.4 372.1h0M240.9 369.4h0M274.8 385.6h0M256.9 368.8h0M269.5 362.0h0M271.8 364.6h0M275.3 358.7h0M263.0 390.0h0M274.9 361.2h0M242.3 367.2h0M244.7 351.5h0M265.7 380.0h0M253.3 352.0h0M244.8 375.8h0M253.1 353.9h0M254.2 390.9h0M276.9 371.6h0M255.8 363.2h0M277.1 337.8h0M245.4 386.0h0M276.1 356.5h0M273.9 360.8h0M244.2 397.2h0M271.3 368.5h0M272.6 349.7h0M272.3 354.5h0M277.4 362.3h0M256.9 364.4h0M258.6 361.9h0M247.6 405.0h0M258.9 350.4h0M278.5 358.9h0M264.9 345.2h0M273.1 356.0h0M275.9 357.7h0M264.1 378.0h0M261.4 370.0h0M245.7 372.7h0M262.8 397.2h0M264.5 395.1h0M238.3 400.6h0M236.2 389.0h0M280.9 353.8h0M238.4 368.9h0M273.2 338.7h0M264.7 370.8h0M274.4 380.5h0M261.1 366.2h0M261.5 378.6h0M246.2 378.5h0M263.3 377.1h0M277.1 365.2h0M246.5 382.0h0M278.6 352.5h0M247.6 395.3h0M265.6 366.7h0M278.1 346.5h0M273.8 367.5h0M250.3 369.0h0M261.9 349.0h0M272.5 358.9h0M281.1 327.1h0M270.0 366.4h0M278.5 370.1h0M259.8 395.2h0M264.4 376.2h0M247.7 384.8h0M254.1 376.1h0M252.2 379.2h0M280.4 367.7h0M280.3 365.0h0M279.1 371.8h0M255.1 370.0h0M280.1 341.4h0M265.6 350.5h0M245.3 350.4h0M258.0 388.3h0M240.9 375.3h0M260.5 380.7h0M279.8 361.1h0M255.1 379.2h0M253.4 355.5h0M239.5 389.6h0M258.4 364.5h0M267.3 373.6h0M278.6 339.2h0M251.8 362.7h0M247.5 372.1h0M279.1 378.1h0M240.7 375.6h0M252.8 403.5h0M258.5 380.0h0M279.6 373.8h0M263.7 363.9h0M276.2 344.0h0M277.5 372.4h0M270.6 374.9h0M272.4 354.0h0M245.4 372.3h0M273.5 384.2h0M272.8 338.5h0M250.8 367.8h0M245.5 380.8h0M248.3 386.2h0M275.0 350.2h0M268.2 345.2h0M258.0 342.1h0M240.0 365.2h0M277.1 352.9h0M236.6 390.7h0M245.6 389.2h0M277.5 386.6h0M259.9 363.9h0M251.8 353.3h0M259.4 388.0h0M264.9 395.5h0M267.6 338.8h0M261.1 356.7h0M238.2 396.0h0M243.3 391.8h0M248.1 379.3h0M257.4 379.2h0M262.5 359.8h0M272.5 349.5h0M245.6 366.6h0M241.1 375.8h0M274.3 380.2h0M263.4 362.3h0M253.4 395.9h0M239.4 359.4h0M244.8 391.4h0M272.8 356.6h0M260.0 378.6h0M236.9 390.0h0M258.8 359.2h0M256.1 359.9h0M271.0 354.1h0M240.3 387.1h0M254.2 400.3h0M278.2 375.0h0M269.4 377.8h0M266.0 367.2h0M254.5 386.8h0M247.5 392.2h0M240.3 375.7h0M250.0 356.9h0M252.7 373.5h0M256.2 367.3h0M274.7 369.2h0M255.8 367.9h0M265.7 371.6h0M243.6 387.5h0M252.9 371.6h0M278.9 360.9h0M244.0 373.0h0M241.1 388.8h0M239.4 382.4h0M236.2 396.4h0M242.8 402.8h0M240.0 386.7h0M243.8 386.8h0M254.8 390.0h0M268.3 372.6h0M273.6 363.9h0M262.4 362.8h0M240.7 388.6h0M273.8 373.3h0M266.5 353.5h0M274.2 367.3h0M270.8 362.6h0M245.3 375.1h0M280.4 351.2h0M272.0 364.4h0M251.0 370.2h0M271.5 350.2h0M255.4 387.7h0M240.8 373.1h0M265.0 386.2h0M281.7 344.0h0M266.6 352.5h0M278.2 364.2h0M245.1 365.2h0M259.2 380.5h0M249.9 396.7h0M279.4 356.4h0M242.9 365.5h0M237.2 377.3h0M260.6 371.5h0M255.1 376.7h0M245.8 378.8h0M278.5 339.3h0M249.4 378.7h0M246.9 389.6h0M267.1 351.9h0M280.7 345.1h0M255.3 383.3h0M270.9 360.2h0M238.6 396.9h0M274.8 343.1h0M260.8 365.4h0M265.8 376.7h0M257.5 355.4h0M236.8 405.0h0M253.8 372.3h0M243.5 380.9h0M244.3 353.1h0M274.3 359.1h0M252.0 378.7h0M274.0 349.5h0M271.2 375.2h0M268.0 370.4h0M258.0 361.6h0M239.1 384.9h0M273.6 355.0h0M237.3 408.5h0M253.6 368.0h0M276.8 374.1h0M270.7 380.0h0M262.8 395.8h0M265.0 353.6h0M279.0 356.0h0M271.5 347.9h0M261.0 384.5h0M253.1 355.3h0M241.2 362.2h0M274.3 362.3h0M272.5 371.6h0M265.8 350.8h0M277.1 361.9h0M237.4 402.7h0M240.7 369.8h0M263.6 365.5h0M281.9 364.1h0M278.9 356.4h0M265.5 357.7h0M241.0 375.9h0M261.3 350.7h0M264.4 367.9h0M271.9 347.2h0M281.2 362.9h0M271.7 343.9h0M259.7 381.9h0M270.6 361.5h0M252.3 358.6h0M257.4 343.6h0M260.5 355.6h0M253.0 394.9h0M281.1 340.0h0M249.2 360.1h0M265.7 392.2h0M246.7 396.7h0M281.9 363.7h0M252.0 396.0h0M263.8 371.2h0M278.9 372.4h0M267.5 393.7h0M262.8 373.3h0M239.6 367.7h0M255.4 361.9h0M256.4 370.9h0M268.0 376.0h0M258.3 374.4h0M248.5 368.5h0M260.4 358.9h0M253.4 349.1h0M273.6 375.8h0M257.5 347.1h0M256.9 358.5h0M268.7 351.5h0M260.7 360.8h0M256.0 351.3h0M239.8 402.1h0M257.2 383.2h0M275.8 348.8h0M280.7 332.0h0M275.3 336.4h0M240.9 400.4h0M276.7 344.3h0M258.8 355.6h0M267.9 334.7h0M264.7 371.1h0M258.8 374.6h0M245.7 371.7h0M252.6 388.0h0M252.2 389.3h0M271.4 387.8h0M242.9 400.3h0M239.1 383.7h0M275.1 387.1h0M266.4 347.3h0M261.9 341.6h0M242.8 376.7h0M241.8 372.7h0M266.7 341.2h0M243.0 400.7h0M275.3 350.2h0M243.8 397.5h0M264.7 355.5h0M246.9 362.3h0M250.4 366.8h0M251.0 387.8h0M237.1 398.1h0M255.3 375.4h0M275.8 368.0h0M259.0 363.0h0M244.8 399.1h0M259.9 367.4h0M279.0 354.4h0M257.4 385.9h0M258.2 382.9h0M271.5 354.8h0M239.1 391.8h0M250.4 374.5h0M254.2 368.3h0M250.2 376.7h0M261.2 381.9h0M271.9 371.8h0M254.8 381.1h0M272.1 354.6h0M256.4 372.9h0M277.1 356.0h0M251.0 377.9h0M256.4 400.8h0M267.5 359.9h0M236.4 385.4h0M276.8 364.6h0M256.4 361.4h0M253.1 370.0h0M241.4 392.2h0M240.5 374.5h0M257.7 374.6h0M273.6 362.8h0M263.8 363.7h0M277.9 346.7h0M281.3 362.5h0M259.7 352.9h0M244.9 409.3h0M279.4 376.9h0M246.2 361.2h0M261.8 352.2h0M245.3 404.2h0M276.6 356.2h0M271.3 369.6h0M260.1 372.8h0M276.0 360.4h0M267.5 372.3h0M265.0 355.9h0M267.1 359.6h0M277.0 379.5h0M254.4 350.1h0M268.2 371.6h0M252.3 378.9h0M266.7 377.3h0M260.4 369.6h0M270.5 368.0h0M261.3 363.9h0M258.8 397.1h0M240.2 415.2h0M238.3 375.3h0M275.5 372.6h0M256.8 369.8h0M280.9 379.2h0M256.6 378.5h0M240.3 402.0h0M270.2 343.5h0M250.7 366.0h0M264.7 366.5h0M237.8 376.4h0M277.2 348.3h0M244.5 375.4h0M253.0 350.6h0M255.2 393.2h0M260.4 389.5h0M279.0 374.1h0M276.0 356.0h0M253.4 345.7h0M253.2 403.8h0M270.0 383.1h0M251.3 373.0h0M246.6 357.0h0M279.2 342.9h0M270.5 370.1h0M254.8 374.1h0M245.3 397.7h0M259.0 373.1h0M255.4 368.9h0M249.7 384.7h0M262.6 375.2h0M243.8 369.4h0M248.1 371.5h0M261.5 366.7h0M254.8 355.0h0M255.0 361.3h0M266.7 377.9h0M239.4 388.1h0M270.7 371.8h0M280.0 353.3h0M277.8 371.0h0M276.7 371.5h0M238.1 365.5h0M250.2 374.7h0M240.6 377.3h0M240.9 379.8h0M244.1 380.3h0M238.6 408.3h0M278.8 338.0h0M263.3 369.6h0M250.8 352.0h0M247.3 397.1h0M236.2 374.4h0M237.4 402.2h0M265.7 372.1h0M258.0 399.3h0M250.6 377.4h0M257.5 384.7h0M253.2 360.0h0M268.4 351.2h0M261.4 387.7h0M255.3 387.1h0M236.2 386.6h0M261.2 381.0h0M276.0 329.6h0M247.5 349.1h0M251.6 366.2h0M270.8 390.9h0M243.4 376.1h0M262.9 389.1h0M264.5 391.2h0M272.4 353.3h0M277.1 374.3h0M274.7 358.2h0M244.5 392.5h0M271.7 370.6h0M263.5 367.6h0M254.9 361.6h0M238.2 383.8h0M263.2 372.2h0M255.7 370.0h0M268.2 352.7h0M263.1 353.7h0M242.5 398.4h0M268.5 357.6h0M242.3 374.7h0M242.1 393.2h0M266.8 357.3h0M277.9 363.0h0M269.0 374.3h0M279.4 344.3h0M242.7 361.6h0M240.2 396.1h0M257.9 383.4h0M248.1 366.6h0M248.7 384.2h0M244.6 352.1h0M249.6 374.0h0M270.0 371.8h0M254.6 378.2h0M259.0 360.3h0M243.1 390.5h0M265.1 368.1h0M267.9 369.6h0M252.0 362.3h0M261.2 337.0h0M247.6 380.3h0M239.8 393.3h0M243.6 356.0h0M236.3 377.5h0M277.5 367.5h0M280.0 339.6h0M243.4 365.1h0M273.7 366.3h0M262.6 363.3h0M271.2 341.6h0M263.7 353.6h0M259.5 355.6h0M252.9 369.9h0M253.5 390.9h0M276.5 356.6h0M249.5 386.4h0M243.3 390.4h0M281.6 353.1h0M249.1 390.2h0M240.7 401.8h0M248.5 373.3h0M273.1 349.7h0M272.2 374.9h0M276.9 331.9h0M277.4 365.9h0M281.9 352.9h0M251.1 398.7h0M246.4 404.2h0M279.5 351.1h0M278.2 352.2h0M259.9 380.0h0M250.4 378.2h0M245.1 404.5h0M281.0 356.8h0M265.4 362.2h0M264.1 355.2h0M244.5 369.0h0M244.4 362.6h0M255.3 400.7h0M277.3 374.3h0M273.4 388.4h0M248.2 389.9h0M239.0 356.0h0M264.1 344.3h0M270.0 371.2h0M278.7 362.3h0M265.4 367.3h0M247.7 400.2h0M260.5 361.9h0M268.5 358.2h0M245.0 367.3h0M277.8 368.5h0M242.7 393.5h0M236.5 388.0h0M249.4 382.7h0M271.5 382.5h0M262.1 369.1h0M248.9 394.8h0M251.3 388.1h0M259.4 375.9h0M273.3 355.3h0M280.8 354.1h0M267.8 361.8h0M242.5 383.0h0M276.1 378.7h0M273.5 362.8h0M268.6 359.0h0M273.6 353.9h0M236.8 369.1h0M267.3 364.6h0M258.5 351.4h0M281.7 351.2h0M279.7 360.4h0M257.7 375.5h0M274.5 366.5h0M269.5 328.9h0M270.2 350.6h0M252.3 346.7h0M269.6 362.8h0M237.5 387.9h0M237.5 360.9h0M246.6 384.1h0M246.8 389.9h0M236.6 391.4h0M276.6 331.3h0M272.3 357.9h0M271.7 351.5h0M273.4 368.5h0M278.8 367.0h0M243.0 380.6h0M258.7 366.1h0M253.1 357.8h0M253.5 383.8h0M266.5 372.9h0M252.6 373.6h0M278.9 334.7h0M242.2 402.7h0M244.1 354.6h0M276.5 361.8h0M247.8 379.9h0M252.4 350.4h0M256.9 372.9h0M269.4 354.7h0M277.8 338.9h0M266.6 387.1h0M246.6 364.3h0M275.1 370.2h0M250.7 398.7h0M239.8 359.0h0M237.6 397.0h0M274.4 384.3h0M260.2 364.5h0M247.1 384.7h0M239.0 361.8h0M280.7 357.7h0M272.5 351.9h0M270.7 372.3h0M254.9 365.0h0M245.3 363.3h0M252.7 370.7h0M266.3 343.5h0M264.8 379.1h0M241.0 396.8h0M275.6 362.6h0M263.2 388.6h0M262.1 353.9h0M265.6 358.2h0M261.3 373.9h0M280.0 369.6h0M246.3 401.8h0M267.9 390.9h0M264.4 377.0h0M281.1 364.0h0M267.1 351.2h0M246.4 405.0h0M283.6 339.2h0M285.7 352.3h0M283.4 345.0h0M284.2 361.5h0M288.6 357.8h0M283.2 326.8h0M289.7 357.8h0M288.6 327.2h0M290.0 328.5h0M288.5 350.8h0M285.2 350.6h0M286.8 329.4h0M284.8 361.8h0M286.0 342.5h0M286.9 347.1h0M281.4 333.5h0M285.9 357.1h0M285.9 356.5h0M287.3 336.3h0M285.6 343.9h0M281.3 329.6h0M288.0 355.3h0M289.0 328.6h0M286.1 355.3h0M289.2 328.0h0M290.2 339.9h0M281.4 362.7h0M290.2 327.3h0M284.7 333.5h0M286.6 340.9h0M290.4 346.0h0M282.2 328.3h0M281.1 343.4h0M285.3 334.5h0M286.7 333.0h0M290.4 330.6h0M289.7 346.3h0M287.4 350.1h0M286.4 331.5h0M288.5 330.8h0M284.2 355.4h0M286.5 360.7h0M286.9 343.4h0M282.0 363.4h0M284.0 349.4h0M281.5 338.2h0M284.6 361.9h0M286.1 331.6h0M281.9 360.2h0M282.8 360.8h0M282.6 340.7h0M290.1 322.5h0M281.5 361.4h0M281.4 346.9h0M284.8 338.3h0M284.7 347.8h0M288.1 358.6h0M283.0 355.1h0M282.0 350.5h0M283.5 357.3h0M288.8 345.3h0M284.3 341.3h0M286.8 357.5h0M285.6 343.3h0M289.3 346.7h0M281.3 339.0h0M286.1 351.3h0M288.2 357.6h0M288.5 337.1h0M288.1 354.1h0M284.4 362.2h0M288.6 345.7h0M286.8 339.1h0M289.1 336.0h0M289.4 324.4h0M286.3 338.2h0M281.6 340.3h0M290.3 333.9h0M283.0 341.7h0M286.8 333.4h0M281.2 357.6h0M281.3 346.8h0M289.1 351.0h0M290.3 325.5h0M283.7 359.8h0M285.5 333.6h0M281.3 338.9h0M281.1 353.9h0M281.9 357.9h0M289.4 347.3h0M282.6 347.7h0M281.6 337.0h0M285.8 329.4h0M282.8 337.2h0M289.8 329.6h0M288.6 343.3h0M288.0 350.2h0M283.7 351.3h0M286.9 333.3h0M286.8 344.3h0M281.4 362.0h0M287.9 344.5h0M290.3 328.9h0M283.9 356.8h0M289.2 333.5h0M282.9 361.5h0M281.4 356.0h0M285.0 331.8h0M286.3 327.8h0M285.1 336.5h0M283.4 362.1h0M281.6 364.8h0M284.9 346.4h0M281.8 333.1h0M282.9 345.4h0M288.9 355.2h0M288.4 344.4h0M289.2 325.3h0M285.2 345.3h0M286.2 361.8h0M290.1 324.9h0M288.5 332.6h0M282.2 358.2h0M288.4 350.2h0M283.4 361.6h0M286.8 329.1h0M281.3 347.3h0M284.8 346.3h0M284.8 347.4h0M286.2 329.9h0M284.9 350.5h0M282.5 362.8h0M289.3 334.4h0M284.9 361.0h0M281.8 347.3h0M288.0 352.6h0M288.1 350.5h0M281.6 358.8h0M282.1 360.4h0M281.1 347.3h0M286.1 333.3h0M286.3 334.9h0M290.3 327.9h0M283.9 327.0h0M282.5 363.7h0M289.7 346.7h0M282.7 337.4h0M286.8 337.6h0M281.8 335.0h0M288.6 358.7h0M274.2 367.3h0M278.9 384.6h0M272.0 380.8h0M277.0 387.2h0M273.2 375.8h0M278.8 374.4h0M271.8 386.0h0M274.2 380.6h0M277.3 363.8h0M272.5 387.5h0M276.7 369.5h0M277.0 386.9h0M278.4 380.8h0M279.3 384.2h0M272.3 388.1h0M272.6 370.1h0M273.9 384.9h0M275.5 378.6h0M278.0 376.8h0M278.4 379.1h0M279.1 374.6h0M273.3 379.5h0M275.3 381.3h0M279.4 373.4h0M275.6 388.8h0M277.4 379.9h0M278.0 369.3h0M272.8 383.1h0M276.6 383.7h0M273.8 366.4h0M275.3 381.7h0M279.3 375.7h0M273.8 381.4h0M278.5 377.6h0M276.6 382.5h0M271.0 380.7h0M275.3 379.8h0M276.8 384.0h0M278.4 385.5h0M274.3 390.1h0M274.7 382.1h0M278.9 390.7h0M271.9 386.7h0M275.8 374.9h0M277.6 372.9h0M273.6 390.4h0M278.5 385.3h0M276.6 363.6h0M273.0 369.7h0M277.0 389.4h0M276.3 380.5h0M271.6 363.8h0M273.2 383.0h0M271.9 387.9h0M272.5 384.9h0M277.5 378.7h0M274.6 377.3h0M272.4 374.4h0M276.4 374.5h0M271.9 381.5h0M274.4 377.6h0M271.7 365.9h0M272.6 378.3h0M274.9 376.6h0M275.0 376.9h0M277.2 364.3h0M276.9 378.4h0M274.3 373.3h0M279.2 379.5h0M274.2 365.3h0M273.3 379.4h0M271.6 368.3h0M275.4 371.7h0M276.3 373.3h0M277.3 374.2h0M276.8 374.2h0M277.4 374.1h0M278.9 373.6h0M275.9 372.8h0M279.4 373.9h0M277.6 376.0h0M272.3 395.8h0M274.5 387.2h0M277.0 373.7h0M272.8 366.9h0M278.5 389.2h0M277.8 378.9h0M276.3 382.2h0M273.1 389.4h0M276.4 362.1h0M278.2 373.7h0M276.8 380.7h0M273.1 391.5h0M279.3 378.3h0M275.4 379.8h0M278.2 378.7h0M277.4 378.7h0M278.5 380.4h0M273.5 374.0h0M271.3 372.7h0M278.3 375.7h0M276.6 384.6h0M273.7 389.5h0M273.6 380.2h0M275.2 376.6h0M278.9 390.0h0M272.5 384.0h0M279.0 385.6h0M274.2 378.0h0M278.2 375.4h0M273.3 383.4h0M276.8 377.7h0M276.2 389.5h0M278.4 371.2h0M279.4 382.0h0M276.7 379.2h0M277.6 370.1h0M273.8 375.9h0M272.8 369.8h0M276.7 376.0h0M272.4 376.7h0M276.2 369.9h0M271.9 384.8h0M272.0 375.0h0M276.7 382.3h0M275.2 376.1h0M272.2 372.0h0M276.0 391.8h0M277.5 389.0h0M275.1 363.6h0M272.1 377.8h0M272.7 375.9h0M277.6 365.0h0M272.4 380.6h0M279.3 383.6h0M278.8 379.5h0M273.1 383.2h0M273.4 394.8h0M279.4 375.1h0M278.4 390.2h0M275.5 377.1h0M273.7 391.1h0M272.3 382.1h0M276.8 373.7h0M277.5 391.8h0M277.2 387.0h0M273.8 364.9h0M277.2 386.5h0M277.1 377.5h0M274.5 381.0h0M271.8 368.7h0M279.4 384.0h0M276.5 380.6h0M276.3 370.8h0M271.6 376.2h0M276.3 391.8h0M275.6 392.8h0M274.4 365.9h0M276.8 383.7h0M278.8 376.5h0M278.8 374.7h0M272.0 381.4h0M272.0 392.7h0M274.1 384.1h0M277.1 370.7h0M272.2 379.7h0M272.8 383.2h0M273.3 389.1h0M275.5 378.6h0M278.9 380.5h0M276.5 381.3h0M275.6 385.0h0M275.6 362.6h0M276.3 391.6h0M277.5 382.1h0M274.9 379.4h0M276.3 369.6h0M277.7 381.6h0M274.2 374.0h0M271.9 364.8h0M272.9 383.2h0M276.1 379.5h0M278.3 378.8h0M274.7 365.7h0M275.7 383.0h0M276.7 385.0h0M277.4 380.7h0M272.3 386.1h0M272.3 371.3h0M276.6 380.1h0M275.4 382.5h0M278.4 382.3h0M279.1 377.3h0M274.8 372.4h0M271.9 391.9h0M278.6 367.4h0M279.3 373.8h0M271.9 375.6h0M273.3 381.9h0M273.6 379.7h0M273.8 366.1h0M278.3 368.8h0M273.9 394.6h0M271.3 380.1h0M277.4 379.3h0M275.3 376.2h0M277.9 381.8h0M276.6 372.6h0M279.3 389.2h0M275.2 386.9h0M275.3 379.2h0M279.1 387.5h0M272.6 377.9h0M274.3 375.6h0M279.3 388.1h0M279.4 378.5h0M277.9 372.1h0M276.9 393.5h0M278.0 377.7h0M278.5 383.4h0M276.4 392.8h0M275.1 368.0h0M275.5 376.6h0M273.7 388.0h0M274.2 376.7h0M277.6 375.4h0M271.4 378.0h0M278.4 376.7h0M273.4 376.6h0M275.9 383.0h0M272.6 380.2h0M277.9 394.7h0M277.4 382.3h0M272.6 394.3h0M275.1 380.6h0M275.3 394.9h0M276.0 378.2h0M271.3 390.3h0M277.7 380.9h0M276.9 393.8h0M276.2 372.4h0M274.0 375.3h0M276.3 382.9h0M275.9 370.9h0M273.4 392.5h0M274.5 377.9h0M279.0 384.2h0M273.6 388.6h0M310.5 335.0h0M301.3 352.1h0M297.1 362.1h0M294.8 367.4h0M300.1 325.0h0M301.1 339.2h0M300.8 329.2h0M309.5 324.1h0M296.9 331.9h0M295.1 340.0h0M307.5 351.9h0M318.7 312.6h0M299.9 335.7h0M305.5 320.9h0M305.9 362.1h0M313.8 367.3h0M312.3 329.8h0M303.2 325.8h0M312.7 348.5h0M306.8 354.3h0M311.9 320.9h0M318.8 330.5h0M291.1 342.5h0M296.4 319.8h0M296.9 363.6h0M297.7 338.5h0M307.0 338.9h0M307.1 317.8h0M318.3 358.8h0M316.1 314.7h0M308.3 325.3h0M305.3 327.5h0M310.9 335.4h0M309.2 313.1h0M303.0 324.3h0M311.0 347.8h0M302.7 337.0h0M305.6 339.8h0M305.2 354.4h0M302.1 345.4h0M301.7 355.0h0M306.6 338.1h0M305.3 322.4h0M297.7 366.1h0M317.7 308.5h0M317.9 314.1h0M317.5 317.9h0M305.5 339.0h0M299.6 356.2h0M299.1 310.9h0M294.2 318.8h0M303.9 343.1h0M294.3 329.7h0M306.9 339.6h0M308.0 348.0h0M302.4 339.3h0M302.4 339.2h0M305.7 341.3h0M310.0 334.2h0M303.8 343.0h0M317.8 354.3h0M300.0 321.8h0M301.8 342.5h0M302.8 352.9h0M304.7 334.5h0M307.5 336.2h0M309.8 369.4h0M303.8 357.0h0M316.9 377.0h0M293.3 369.8h0M307.9 332.1h0M306.3 326.0h0M296.7 332.9h0M296.2 352.7h0M313.9 338.7h0M308.7 358.6h0M305.4 338.7h0M303.8 343.5h0M302.6 334.0h0M303.2 309.3h0M310.3 354.1h0M313.3 333.1h0M309.6 346.0h0M301.2 338.3h0M309.8 371.3h0M312.9 346.0h0M293.4 345.4h0M308.1 336.3h0M302.2 324.0h0M306.7 344.9h0M297.2 356.5h0M298.6 338.1h0M305.1 301.0h0M302.1 324.7h0M302.5 371.1h0M299.8 328.4h0M308.8 341.1h0M313.1 305.5h0M299.3 328.1h0M307.6 323.3h0M302.8 351.6h0M307.6 348.7h0M313.4 347.4h0M307.5 355.3h0M305.0 329.7h0M298.7 367.0h0M313.4 333.8h0M317.0 353.7h0M292.8 374.1h0M309.7 329.1h0M304.6 344.4h0M297.1 335.9h0M317.5 340.2h0M309.4 343.2h0M320.0 336.8h0M300.4 338.2h0M302.6 350.1h0M295.6 315.4h0M306.3 325.4h0M294.3 329.5h0M303.6 314.5h0M313.6 343.8h0M309.4 330.2h0M312.3 323.3h0M306.7 314.7h0M311.0 322.8h0M305.0 345.4h0M297.2 316.3h0M309.0 353.5h0M305.3 348.6h0M300.4 342.9h0M298.3 309.2h0M314.0 324.9h0M294.6 355.7h0M300.1 331.4h0M308.2 324.9h0M309.9 325.6h0M307.4 344.4h0M295.5 306.6h0M313.1 355.3h0M305.0 341.8h0M295.8 320.2h0M313.1 348.2h0M293.3 316.8h0M304.6 363.3h0M301.4 317.5h0M307.6 313.6h0M306.7 336.6h0M300.4 339.3h0M308.6 324.7h0M307.3 324.2h0M298.5 364.2h0M311.1 321.8h0M307.1 310.0h0M304.5 330.6h0M308.1 359.8h0M300.2 349.4h0M300.3 336.9h0M305.0 315.5h0M299.3 336.0h0M307.4 347.9h0M310.7 355.4h0M318.0 310.5h0M315.6 330.5h0M320.1 328.0h0M300.0 367.1h0M317.0 332.6h0M303.0 336.4h0M304.4 329.2h0M306.5 357.0h0M305.8 305.2h0M308.0 327.6h0M316.3 310.6h0M291.0 327.2h0M296.0 329.6h0M297.1 328.7h0M308.0 362.1h0M306.7 316.9h0M308.6 332.1h0M318.9 346.6h0M306.2 330.4h0M296.3 328.5h0M308.9 370.6h0M318.3 350.7h0M319.5 323.1h0M305.6 341.8h0M307.0 322.0h0M308.2 345.1h0M310.1 313.0h0M305.0 351.1h0M302.8 343.8h0M316.6 343.2h0M316.5 337.3h0M306.1 341.2h0M302.0 322.5h0M301.8 338.4h0M298.2 347.5h0M297.6 344.8h0M304.1 321.4h0M301.1 347.0h0M307.9 316.8h0M302.5 324.8h0M299.7 322.7h0M303.4 326.9h0M308.5 348.9h0M304.3 355.4h0M315.3 344.9h0M302.9 324.6h0M305.0 350.0h0M299.8 354.1h0M320.2 324.2h0M307.9 316.9h0M314.3 334.6h0M303.7 370.3h0M310.0 332.0h0M299.5 334.2h0M301.8 349.2h0M303.9 317.0h0M299.9 318.7h0M310.9 335.2h0M311.7 351.6h0M314.0 331.9h0M299.7 326.1h0M302.0 308.6h0M305.6 364.2h0M310.4 315.6h0M297.3 359.6h0M304.1 324.9h0M312.9 356.7h0M306.6 366.3h0M305.2 322.1h0M298.2 347.1h0M303.6 349.7h0M310.6 358.6h0M312.8 331.8h0M294.4 358.2h0M308.5 338.9h0M303.3 319.9h0M299.5 354.3h0M318.3 358.7h0M310.3 336.9h0M298.4 335.0h0M298.8 350.4h0M307.0 366.0h0M295.7 315.9h0M304.3 355.3h0M309.1 371.8h0M296.7 322.1h0M306.9 346.9h0M308.6 338.2h0M301.2 343.2h0M308.2 358.5h0M310.2 309.8h0M308.6 328.4h0M301.1 313.5h0M311.4 331.7h0M303.4 369.1h0M307.1 319.2h0M306.1 329.1h0M305.6 326.7h0M292.0 344.0h0M312.7 331.6h0M308.9 323.7h0M306.5 323.9h0M309.8 334.3h0M302.8 316.1h0M309.1 357.0h0M291.0 339.3h0M300.6 326.8h0M301.6 334.3h0M303.6 349.5h0M302.0 322.3h0M300.3 337.5h0M307.3 327.9h0M310.9 358.0h0M312.5 313.0h0M309.1 361.1h0M315.6 316.6h0M316.4 323.5h0M302.5 316.1h0M301.6 335.3h0M303.2 348.6h0M310.5 342.2h0M309.1 315.8h0M307.1 327.8h0M301.1 365.1h0M302.8 333.7h0M304.3 321.0h0M307.1 352.1h0M307.3 304.9h0M309.0 322.2h0M300.7 352.6h0M315.3 334.0h0M310.8 335.2h0M310.4 347.8h0M294.8 323.6h0M311.0 311.2h0M306.7 336.5h0M307.0 326.0h0M290.0 336.6h0M295.1 324.3h0M303.5 324.0h0M296.5 312.6h0M314.5 341.7h0M298.0 370.0h0M310.7 315.7h0M308.1 356.6h0M306.0 325.8h0M315.7 319.5h0M302.7 346.1h0M297.9 330.9h0M308.1 332.0h0M314.4 329.1h0M302.0 369.6h0M312.8 309.4h0M309.7 344.4h0M305.8 369.4h0M307.1 339.8h0M306.6 373.7h0M301.6 337.1h0M306.7 339.9h0M308.6 350.5h0M300.7 324.7h0M310.1 347.0h0M301.1 325.7h0M309.5 345.1h0M299.9 355.8h0M308.4 317.2h0M304.2 335.1h0M303.5 344.0h0M305.4 324.9h0M308.2 354.6h0M293.8 358.3h0M314.2 327.6h0M312.7 341.5h0M307.9 326.5h0M294.6 335.2h0M311.5 345.4h0M305.8 334.7h0M317.0 340.3h0M302.6 329.7h0M304.4 357.8h0M312.5 353.4h0M291.1 326.8h0M303.1 347.0h0M299.3 361.2h0M308.0 334.1h0M317.0 351.4h0M312.2 300.1h0M296.6 361.2h0M311.1 348.8h0M308.4 352.0h0M306.5 341.0h0M298.0 354.3h0M318.5 356.9h0M317.8 349.9h0M307.8 333.1h0M300.2 335.0h0M298.0 338.4h0M298.1 334.1h0M311.9 323.6h0M294.1 316.1h0M313.6 336.1h0M304.6 322.1h0M308.2 331.5h0M311.0 315.9h0M310.9 330.6h0M304.7 333.7h0M308.4 374.9h0M306.8 336.3h0M306.1 355.7h0M306.5 346.3h0M299.0 342.9h0M308.0 332.6h0M296.5 348.8h0M313.6 346.8h0M303.3 313.8h0M297.8 349.2h0M310.3 334.3h0M310.5 310.5h0M306.6 324.5h0M295.5 349.8h0M296.9 353.8h0M309.6 335.7h0M307.6 351.3h0M307.9 311.3h0M309.9 319.0h0M299.9 343.7h0M313.5 322.4h0M301.6 327.0h0M306.2 342.8h0M300.3 332.7h0M297.6 325.8h0M300.6 313.6h0M299.5 372.8h0M303.1 313.8h0M316.4 330.3h0M307.9 356.3h0M302.0 335.9h0M308.7 321.3h0M302.0 318.0h0M313.6 357.4h0M311.3 350.9h0M303.5 304.1h0M305.6 313.8h0M306.4 348.5h0M299.0 365.4h0M298.1 328.2h0M305.0 353.9h0M299.8 310.1h0M305.8 308.8h0M311.8 316.0h0M304.4 346.1h0M310.0 341.0h0M318.0 349.9h0M303.0 307.1h0M315.8 366.2h0M300.3 330.4h0M307.2 341.9h0M304.9 306.3h0M295.9 336.8h0M314.8 322.9h0M311.8 364.1h0M299.3 341.3h0M304.6 359.0h0M305.4 323.6h0M297.5 324.2h0M308.2 340.0h0M296.7 338.7h0M294.1 321.3h0M315.9 346.4h0M301.7 357.6h0M300.8 331.3h0M304.5 328.8h0M301.1 328.8h0M309.1 335.2h0M311.7 344.9h0M312.1 356.5h0M290.7 332.5h0M311.3 332.1h0M307.2 362.9h0M306.6 335.2h0M314.0 338.3h0M310.3 332.0h0M294.2 352.7h0M307.7 344.3h0M304.9 317.2h0M313.6 353.6h0M291.7 344.2h0M310.4 358.0h0M307.0 346.3h0M310.5 336.2h0M308.7 319.8h0M291.7 354.3h0M310.8 358.7h0M305.8 322.0h0M300.6 336.0h0M312.5 345.2h0M305.7 334.9h0M317.4 343.9h0M313.4 330.6h0M298.4 326.0h0M311.4 358.2h0M306.0 307.7h0M305.8 348.2h0M305.0 323.4h0M313.0 337.6h0M300.5 325.5h0M309.0 339.7h0M295.4 326.3h0M308.2 341.8h0M297.3 312.4h0M297.3 318.5h0M305.7 334.6h0M298.3 347.9h0M313.6 322.5h0M298.5 370.7h0M317.0 330.4h0M311.6 350.5h0M306.7 305.5h0M310.3 319.7h0M307.4 319.6h0M309.5 309.6h0M302.0 329.4h0M308.7 322.2h0M303.7 365.0h0M305.5 335.7h0M302.0 341.7h0M302.3 300.7h0M311.8 362.8h0M305.7 363.6h0M311.3 317.7h0M303.9 318.4h0M305.4 323.6h0M302.8 361.5h0M314.9 313.8h0M317.3 319.1h0M305.4 309.3h0M312.2 341.7h0M296.1 351.5h0M297.3 320.0h0M311.1 356.7h0M294.1 339.6h0M313.0 346.5h0M318.0 359.0h0M305.5 359.1h0M296.8 346.0h0M300.0 359.9h0M300.1 337.1h0M311.9 342.5h0M299.0 368.0h0M300.5 335.1h0M316.9 323.0h0M297.7 315.9h0M301.7 328.0h0M315.5 304.6h0M294.7 317.1h0M301.3 313.3h0M307.6 335.0h0M305.8 336.9h0M302.3 350.8h0M297.2 355.0h0M312.0 364.3h0M302.6 332.7h0M301.6 313.1h0M306.4 350.5h0M316.2 344.2h0M307.4 329.6h0M303.9 371.3h0M310.4 343.7h0M291.3 330.0h0M301.6 340.9h0M306.0 321.4h0M301.3 371.7h0M300.7 316.3h0M302.3 319.6h0M299.4 355.0h0M302.4 334.0h0M306.7 316.0h0M308.8 353.6h0M298.7 357.4h0M304.7 309.1h0M300.6 348.6h0M312.5 354.6h0M318.3 369.5h0M307.6 345.7h0M309.1 350.5h0M304.3 339.3h0M309.7 349.8h0M304.8 367.3h0M297.4 349.9h0M314.9 326.8h0M310.6 371.5h0M306.2 315.8h0M309.6 327.1h0M318.0 326.0h0M303.0 360.3h0M311.4 322.2h0M307.5 330.2h0M291.1 336.4h0M303.8 347.1h0M310.3 348.1h0M308.8 317.7h0M305.5 317.7h0M297.6 312.7h0M308.1 357.3h0M307.6 333.1h0M310.1 340.5h0M318.9 337.4h0M306.7 311.7h0M314.0 308.9h0M309.8 317.9h0M309.9 330.7h0M299.4 319.8h0M309.8 338.9h0M305.5 310.2h0M315.6 328.9h0M312.2 343.0h0M312.3 354.7h0M301.0 331.2h0M306.3 348.8h0M312.5 342.3h0M302.6 341.0h0M306.7 330.2h0M315.1 343.9h0M306.3 356.4h0M308.3 337.2h0M315.2 331.5h0M296.4 349.2h0M307.5 348.6h0M306.8 312.2h0M309.0 356.1h0M314.7 357.9h0M307.7 343.0h0M302.0 329.0h0M312.6 325.4h0M308.0 340.2h0M315.9 330.5h0M308.9 307.7h0M313.7 355.6h0M301.1 311.0h0M305.4 334.3h0M307.1 329.0h0M300.9 364.0h0M309.4 310.8h0M304.0 354.3h0M304.1 345.2h0M306.0 312.8h0M295.2 325.2h0M312.9 319.0h0M309.5 340.8h0M310.6 346.8h0M315.4 355.1h0M308.6 324.5h0M304.5 346.1h0M316.0 333.1h0M303.9 345.9h0M307.7 336.0h0M291.4 336.7h0M302.8 331.4h0M306.4 345.9h0M311.1 339.0h0M310.2 320.4h0M313.3 301.2h0M302.6 354.3h0M302.6 350.3h0M308.0 335.7h0M300.9 357.3h0M303.7 336.2h0M306.8 335.0h0M292.4 329.8h0M295.3 359.1h0M309.2 368.3h0M301.3 333.7h0M311.6 326.4h0M302.9 355.6h0M299.0 352.7h0M310.6 348.3h0M304.5 312.7h0M308.8 342.4h0M301.5 340.6h0M300.6 332.3h0M303.9 345.1h0M300.7 334.7h0M304.9 344.2h0M299.1 337.2h0M308.6 332.6h0M311.6 366.7h0M309.4 336.7h0M297.3 348.0h0M314.7 353.6h0M293.9 321.2h0M307.6 334.3h0M306.8 322.6h0M311.5 334.6h0M301.4 317.4h0M302.6 352.4h0M314.2 337.5h0M314.0 316.4h0M299.0 345.5h0M304.2 320.4h0M300.6 312.9h0M314.0 338.3h0M301.5 325.0h0M306.5 349.7h0M307.9 345.3h0M297.1 340.5h0M312.4 354.9h0M301.4 342.6h0M295.9 358.9h0M308.4 343.5h0M307.3 343.3h0M305.7 331.7h0M317.9 370.2h0M311.0 327.8h0M306.2 335.3h0M303.6 330.0h0M318.9 306.7h0M303.1 347.8h0M292.5 369.9h0M314.6 366.1h0M302.6 333.6h0M290.9 322.3h0M296.3 328.2h0M296.6 346.3h0M290.7 330.8h0M300.8 350.9h0M301.9 342.4h0M317.5 316.5h0M305.5 318.0h0M302.0 352.0h0M304.9 352.1h0M307.4 337.8h0M313.0 362.7h0M315.2 336.5h0M292.4 332.6h0M295.8 336.9h0M305.9 347.0h0M302.6 339.9h0M313.7 340.1h0M302.2 323.2h0M302.1 323.0h0M304.3 358.6h0M315.8 329.5h0M302.7 332.4h0M306.6 353.3h0M308.4 316.5h0M306.5 324.8h0M312.4 326.6h0M318.0 312.8h0M311.7 327.0h0M303.5 321.1h0M305.2 329.5h0M308.1 318.5h0M298.3 357.5h0M299.6 350.3h0M302.3 348.6h0M292.4 346.6h0M312.2 325.3h0M300.9 327.2h0M314.8 316.6h0M296.3 372.2h0M299.0 330.5h0M313.4 338.3h0M305.6 320.1h0M311.6 332.9h0M306.9 345.5h0M306.2 342.9h0M301.7 316.4h0M309.5 350.2h0M307.9 324.0h0M307.8 310.6h0M303.2 352.7h0M314.6 342.9h0M306.7 333.4h0M310.4 324.0h0M298.0 350.4h0M294.6 332.7h0M311.3 325.4h0M301.6 346.8h0M300.3 342.1h0M308.7 316.7h0M315.5 358.6h0M304.2 308.7h0M304.1 323.5h0M309.3 343.4h0M310.0 335.7h0M306.7 350.8h0M293.5 347.1h0M300.8 359.9h0M301.3 337.3h0M307.7 324.3h0M305.8 318.8h0M307.6 348.2h0M304.4 341.6h0M313.4 326.2h0M306.3 364.2h0M303.8 343.8h0M311.6 347.4h0M308.6 338.8h0M304.9 342.5h0M299.4 357.2h0M309.2 355.3h0M305.3 339.4h0M310.7 339.8h0M302.2 317.7h0M296.2 327.9h0M302.1 323.3h0M293.1 337.5h0M311.1 338.8h0M307.3 325.4h0M309.3 308.6h0M306.2 333.0h0M317.2 337.5h0M315.9 342.8h0M314.5 322.3h0M299.9 306.0h0M307.0 337.1h0M312.5 327.2h0M317.4 313.0h0M308.6 359.8h0M317.5 334.0h0M298.1 333.6h0M300.9 339.6h0M298.9 349.1h0M301.9 350.8h0M300.8 305.7h0M294.0 327.5h0M315.4 344.7h0M310.0 347.0h0M300.4 340.9h0M291.8 322.1h0M314.4 344.3h0M290.1 334.0h0M298.4 337.2h0M297.3 357.9h0M301.0 335.4h0M309.4 344.9h0M312.2 362.0h0M308.4 354.2h0M297.9 315.9h0M315.3 319.0h0M314.5 303.2h0M311.7 355.1h0M298.6 327.9h0M300.7 335.7h0M300.6 317.2h0M301.7 346.7h0M310.7 322.0h0M307.6 352.5h0M303.3 341.6h0M314.2 336.1h0M305.5 346.6h0M302.1 333.0h0M301.7 336.6h0M296.9 357.6h0M304.4 365.7h0M299.9 346.6h0M305.3 361.0h0M308.7 310.5h0M309.3 339.6h0M302.8 337.0h0M319.4 329.3h0M297.9 346.4h0M311.0 369.9h0M306.2 346.1h0M308.0 356.4h0M301.2 360.9h0M300.5 360.0h0M310.5 338.8h0M293.8 327.3h0M306.9 357.0h0M295.7 352.4h0M293.1 330.0h0M306.5 365.1h0M302.0 323.8h0M319.6 317.1h0M293.6 336.7h0M307.0 315.6h0M306.7 335.1h0M307.2 336.7h0M302.7 328.0h0M294.6 338.9h0M311.1 316.5h0M311.2 299.6h0M308.7 351.5h0M307.9 353.3h0M314.4 352.1h0M312.9 330.9h0M310.9 345.4h0M301.6 332.1h0M313.1 357.7h0M299.9 317.9h0M308.7 342.6h0M299.0 330.0h0M304.8 349.7h0M311.5 339.0h0M303.8 307.9h0M312.7 332.4h0M302.6 321.3h0M317.7 345.5h0M304.9 352.2h0M311.0 344.9h0M305.7 320.8h0M298.1 329.3h0M303.0 340.4h0M319.9 358.2h0M297.2 345.6h0M295.0 348.7h0M308.1 329.7h0M314.8 335.4h0M303.3 348.2h0M299.9 340.5h0M304.4 340.5h0M304.5 344.5h0M313.9 365.6h0M319.2 360.8h0M305.0 361.7h0M300.2 344.4h0M297.6 325.0h0M293.8 318.3h0M305.5 340.4h0M295.0 321.4h0M311.0 305.4h0M304.3 332.9h0M301.0 375.3h0M316.1 338.3h0M293.7 340.5h0M312.3 337.0h0M306.7 340.8h0M307.8 315.8h0M305.9 342.6h0M298.0 351.4h0M310.2 342.5h0M314.4 343.1h0M291.7 338.7h0M306.7 350.3h0M305.1 319.1h0M303.8 305.0h0M308.8 330.0h0M304.5 337.8h0M303.1 348.4h0M314.3 325.7h0M299.1 341.0h0M303.0 337.4h0M302.9 350.2h0M300.2 330.3h0M302.2 348.6h0M315.7 350.5h0M300.0 333.5h0M294.7 330.4h0M300.9 327.5h0M296.9 320.0h0M314.6 350.1h0M309.0 344.8h0M298.2 335.9h0M304.4 339.8h0M303.6 338.6h0M306.8 352.7h0M307.7 332.5h0M309.6 349.5h0M307.4 310.6h0M305.8 329.7h0M299.7 325.1h0M306.4 343.3h0M307.3 328.7h0M296.3 324.8h0M306.3 325.7h0M296.9 313.9h0M293.9 315.8h0M305.2 321.5h0M309.4 343.9h0M312.4 342.1h0M301.8 350.2h0M295.4 365.6h0M299.4 352.8h0M303.9 307.4h0M304.9 327.3h0M309.1 362.9h0M304.4 340.3h0M313.2 344.0h0M301.2 341.2h0M309.1 314.7h0M310.3 344.5h0M308.5 335.1h0M309.5 321.1h0M298.1 343.8h0M312.0 366.1h0M302.1 334.5h0M304.5 316.3h0M298.6 335.5h0M308.4 322.6h0M300.9 329.3h0M310.6 343.8h0M300.4 321.6h0M308.3 335.8h0M307.1 335.1h0M309.6 329.7h0M306.2 330.6h0M297.2 331.9h0M306.9 332.6h0M308.4 335.0h0M319.0 345.7h0M319.0 329.0h0M312.1 323.4h0M312.8 345.3h0M302.1 372.5h0M298.2 333.0h0M310.1 370.0h0M309.7 341.4h0M309.7 342.3h0M310.0 352.1h0M308.5 344.2h0M305.1 335.0h0M301.8 331.5h0M310.9 322.0h0M306.0 321.4h0M313.4 351.2h0M304.0 365.5h0M300.4 352.6h0M310.6 332.0h0M300.1 365.8h0M300.2 355.6h0M305.9 303.8h0M303.4 347.8h0M314.9 317.1h0M308.2 343.6h0M312.8 330.0h0M315.8 343.2h0M313.4 331.3h0M312.5 336.8h0M302.6 308.5h0M309.1 335.9h0M305.3 321.8h0M311.5 353.8h0M301.9 325.3h0M310.7 343.9h0M302.5 346.1h0M311.3 333.9h0M314.7 322.5h0M314.7 338.6h0M303.2 334.0h0M315.4 349.1h0M293.9 320.8h0M307.2 316.8h0M296.0 347.7h0M306.2 340.2h0M297.7 355.8h0M305.8 358.6h0M301.0 305.2h0M315.1 340.2h0M312.2 337.2h0M313.4 351.5h0M309.4 368.2h0M305.5 332.9h0M304.6 333.7h0M297.9 346.8h0M300.6 348.4h0M311.8 333.8h0M303.3 350.2h0M308.9 358.5h0M299.9 327.0h0M315.8 322.9h0M305.6 357.1h0M319.5 320.9h0M309.9 321.6h0M314.0 312.9h0M305.1 330.4h0M303.1 334.8h0M316.3 333.1h0M311.5 329.3h0M312.1 331.3h0M313.4 327.1h0M307.2 328.9h0M303.1 337.6h0M309.0 325.9h0M293.9 337.8h0M306.9 317.3h0M314.3 313.0h0M304.7 347.9h0M319.5 321.9h0M303.9 336.7h0M299.0 318.4h0M310.4 310.2h0M305.1 312.4h0M310.7 320.3h0M301.8 356.5h0M310.2 323.1h0M307.1 338.8h0M308.1 328.4h0M313.0 336.7h0M300.9 314.7h0M305.2 353.0h0M314.1 338.3h0M314.9 327.3h0M311.4 348.3h0M298.5 309.3h0M307.7 322.9h0M303.5 340.7h0M304.1 361.1h0M295.5 326.5h0M291.6 365.1h0M313.2 354.7h0M312.0 320.2h0M296.1 343.6h0M303.8 353.9h0M306.7 319.0h0M302.2 359.9h0M309.8 309.3h0M303.5 358.2h0M296.5 354.3h0M303.3 363.0h0M309.4 349.4h0M299.8 339.9h0M311.5 308.9h0M313.6 364.8h0M310.5 346.3h0M310.2 349.5h0M305.6 325.8h0M301.1 343.6h0M301.3 334.9h0M316.4 344.8h0M313.4 313.8h0M298.7 343.0h0M304.6 322.7h0M301.1 325.9h0M297.8 348.1h0M303.8 310.9h0M311.6 325.9h0M306.5 331.4h0M304.3 352.3h0M290.9 334.0h0M297.9 317.0h0M306.2 310.3h0M311.8 332.7h0M307.3 361.4h0M311.9 343.9h0M299.9 324.8h0M301.3 357.7h0M296.6 345.9h0M295.0 311.3h0M312.1 302.4h0M297.1 367.6h0M313.7 338.0h0M312.3 335.6h0M303.6 341.3h0M296.3 333.9h0M301.9 332.8h0M301.0 334.3h0M301.4 301.9h0M300.5 329.7h0M306.3 327.4h0M303.9 353.2h0M305.6 351.7h0M305.8 328.9h0M314.5 333.1h0M320.0 336.6h0M306.1 368.2h0M305.4 353.2h0M304.8 324.1h0M312.7 359.5h0M310.8 319.7h0M306.7 354.2h0M305.0 337.0h0M310.0 315.7h0M313.3 328.0h0M302.9 332.2h0M309.0 353.3h0M293.3 357.2h0M301.3 306.0h0M309.3 327.1h0M295.0 353.4h0M295.4 343.8h0M307.7 344.0h0M292.2 346.3h0M303.7 348.1h0M320.5 357.1h0M308.4 328.8h0M316.9 343.4h0M300.7 324.6h0M304.6 307.5h0M308.6 336.1h0M313.7 322.7h0M316.0 334.2h0M311.4 300.9h0M308.4 344.0h0M298.7 334.3h0M313.3 338.3h0M302.0 322.9h0M312.9 321.6h0M315.4 351.1h0M295.9 345.8h0M320.1 330.8h0M304.7 315.0h0M313.6 343.6h0M312.6 326.8h0M319.0 349.2h0M314.3 323.4h0M317.5 338.1h0M311.9 341.1h0M300.6 325.9h0M304.8 344.0h0M310.9 312.3h0M312.7 356.9h0M307.1 328.1h0M301.1 328.0h0M297.3 332.0h0M306.7 329.1h0M305.2 338.2h0M302.7 324.7h0M310.3 330.0h0M311.2 337.8h0M307.0 331.6h0M292.1 321.7h0M301.3 348.2h0M301.7 367.5h0M310.5 325.1h0M301.7 349.5h0M304.5 323.3h0M298.4 330.6h0M302.2 317.0h0M311.9 322.5h0M309.1 333.4h0M300.2 329.6h0M297.6 371.1h0M313.3 320.6h0M306.1 345.4h0M310.3 348.8h0M308.2 305.9h0M307.0 306.9h0M312.5 315.8h0M318.5 330.0h0M305.0 317.4h0M307.7 331.2h0M304.4 354.0h0M293.4 369.1h0M303.7 325.1h0M306.1 359.6h0M313.6 335.5h0M299.3 331.7h0M304.0 332.0h0M306.3 331.7h0M309.5 310.4h0M319.8 334.4h0M310.7 316.9h0M310.8 341.3h0M317.4 314.1h0M294.2 363.1h0M315.7 317.1h0M312.3 330.2h0M306.9 352.8h0M298.8 344.2h0M310.0 355.5h0M302.9 358.1h0M315.7 331.1h0M306.8 346.2h0M306.8 364.1h0M304.1 300.4h0M312.1 352.8h0M298.2 344.2h0M299.3 331.0h0M291.1 322.4h0M303.0 322.8h0M307.4 322.9h0M304.4 362.7h0M299.3 336.4h0M304.6 331.5h0M310.1 336.9h0M308.3 345.3h0M292.4 348.5h0M302.6 335.8h0M299.9 332.6h0M310.3 335.3h0M308.4 333.8h0M298.8 325.8h0M309.8 330.9h0M307.8 356.8h0M302.7 349.2h0M308.3 340.7h0M304.6 355.9h0M301.3 338.1h0M313.4 355.3h0M295.1 335.9h0M319.5 360.1h0M307.9 345.1h0M303.2 331.0h0M309.1 316.4h0M299.5 338.4h0M303.3 338.5h0M320.1 318.1h0M309.4 332.6h0M305.0 326.2h0M305.0 340.7h0M312.6 314.9h0M312.6 335.9h0M303.8 367.9h0M314.5 352.3h0M306.0 335.7h0M305.8 361.6h0M311.5 329.9h0M301.0 350.0h0M295.2 341.2h0M305.1 329.0h0M312.3 344.4h0M304.1 375.5h0M312.3 322.0h0M314.7 321.5h0M303.7 364.4h0M306.2 325.5h0M305.2 334.3h0M310.8 328.6h0M309.6 323.8h0M307.5 344.3h0M315.8 319.5h0M309.0 319.0h0M308.2 332.1h0M301.1 345.3h0M306.8 360.1h0M315.6 335.7h0M311.2 351.5h0M307.1 359.0h0M305.6 344.0h0M299.8 350.3h0M301.2 332.9h0M313.5 309.5h0M306.5 349.3h0M306.9 317.4h0M315.2 345.6h0M303.4 322.5h0M303.0 316.7h0M316.3 334.2h0M310.7 315.1h0M295.2 337.5h0M306.2 333.0h0M300.9 332.6h0M302.8 361.6h0M304.7 349.8h0M294.9 332.2h0M301.3 349.8h0M319.0 342.9h0M304.9 330.7h0M303.0 313.9h0M313.1 324.2h0M296.8 368.8h0M304.7 337.1h0M315.4 345.6h0M306.4 364.7h0M308.7 324.2h0M304.8 354.3h0M311.3 319.1h0M305.2 299.9h0M307.1 336.0h0M308.1 336.5h0M293.1 323.9h0M312.7 325.4h0M312.1 343.0h0M308.1 345.1h0M303.9 321.3h0M309.0 323.1h0M320.1 339.5h0M316.8 330.9h0M301.6 333.3h0M317.1 331.3h0M301.6 307.2h0M302.0 342.4h0M305.5 339.9h0M310.8 345.5h0M304.9 348.0h0M313.4 366.7h0M308.6 329.6h0M317.5 339.7h0M296.9 359.0h0M307.3 330.1h0M311.1 355.5h0M317.2 328.1h0M292.0 328.8h0M304.9 318.2h0M292.8 334.0h0M309.6 371.0h0M302.7 367.0h0M308.8 337.9h0M313.6 345.0h0M312.6 355.6h0M305.1 318.5h0M310.9 329.4h0M303.2 304.9h0M310.6 323.1h0M303.2 325.9h0M312.5 330.7h0M301.1 332.6h0M296.3 343.5h0M308.0 327.7h0M298.7 346.0h0M302.6 333.0h0M313.1 365.9h0M299.0 307.4h0M290.5 335.1h0M295.2 337.2h0M308.0 359.9h0M314.3 334.2h0M307.3 345.0h0M307.1 339.0h0M314.2 370.2h0M306.4 330.2h0M316.0 320.8h0M317.0 327.5h0M304.5 342.9h0M315.5 359.8h0M305.8 314.2h0M306.6 359.6h0M314.2 328.7h0M298.1 323.5h0M295.6 328.1h0M314.8 320.9h0M320.3 317.8h0M308.6 337.3h0M313.9 322.9h0M295.3 364.7h0M302.8 344.9h0M304.1 323.9h0M307.7 364.1h0M303.3 319.2h0M306.1 344.3h0M305.3 363.3h0M310.9 345.3h0M314.1 325.2h0M312.7 332.7h0M316.4 339.1h0M305.3 360.6h0M303.4 338.2h0M293.5 346.3h0M294.8 317.2h0M312.2 336.9h0M309.9 356.9h0M306.8 331.1h0M304.3 327.6h0M297.9 329.4h0M291.1 355.3h0M302.4 344.5h0M304.7 342.6h0M315.7 306.1h0M301.7 353.7h0M309.5 328.4h0M315.6 350.2h0M317.0 344.5h0M304.3 325.9h0M313.2 317.2h0M312.8 351.4h0M306.8 300.0h0M300.3 362.2h0M308.3 321.8h0M301.8 338.8h0M304.9 353.7h0M307.2 371.0h0M313.1 318.6h0M304.8 332.6h0M304.5 351.0h0M303.5 335.5h0M303.5 351.6h0M309.7 306.8h0M295.8 352.3h0M306.8 334.8h0M298.0 335.5h0M302.4 323.9h0M311.7 331.4h0M318.6 353.3h0M307.6 339.8h0M310.7 354.5h0M307.7 345.4h0M303.3 329.1h0M307.0 330.9h0M313.3 336.3h0M307.8 327.9h0M303.7 359.1h0M303.1 316.0h0M309.8 364.5h0M304.1 323.7h0M312.9 320.5h0M296.5 335.0h0M311.8 313.7h0M300.7 363.6h0M305.9 363.2h0M313.8 365.3h0M302.8 356.7h0M303.7 304.6h0M312.7 346.8h0M313.1 323.4h0M306.2 350.1h0M311.7 330.8h0M303.5 327.9h0M314.1 345.3h0M303.0 354.1h0M310.6 317.2h0M305.2 341.8h0M304.4 343.2h0M300.2 333.6h0M311.8 332.2h0M312.4 355.5h0M315.3 357.8h0M311.4 348.0h0M309.5 347.5h0M302.8 348.4h0M306.8 325.8h0M309.5 334.4h0M298.3 320.0h0M293.4 332.9h0M293.5 339.0h0M292.1 362.4h0M292.0 355.1h0M291.8 371.2h0M292.7 335.1h0M292.2 335.4h0M292.9 361.6h0M291.6 343.1h0M292.3 346.9h0M291.9 329.1h0M292.4 333.5h0M292.1 333.3h0M291.1 336.0h0M292.7 334.6h0M292.3 341.4h0M292.3 341.0h0M292.2 365.9h0M291.7 378.1h0M292.3 341.2h0M292.7 374.5h0M293.2 355.7h0M291.9 351.9h0M293.0 321.8h0M292.1 366.3h0M292.1 337.9h0M292.2 374.7h0M292.6 372.0h0M291.5 338.5h0M292.3 330.0h0M292.2 366.0h0M292.0 331.8h0M293.3 345.7h0M291.3 364.5h0M292.2 345.0h0M292.4 359.8h0M293.1 353.3h0M291.0 359.6h0M292.1 337.1h0M291.4 350.1h0M291.9 347.7h0M292.5 356.9h0M292.1 348.1h0M293.4 336.7h0M291.4 336.9h0M292.5 348.7h0M292.4 331.7h0M292.3 323.3h0M292.6 351.9h0M292.1 346.9h0M292.6 357.3h0M292.1 337.9h0M292.0 344.9h0M291.7 331.2h0M292.0 340.4h0M292.7 362.1h0M292.0 377.4h0M292.7 342.4h0M292.2 355.2h0M292.3 334.5h0M293.0 321.8h0M291.6 337.5h0M292.2 343.2h0M292.8 342.0h0M292.6 333.4h0M292.5 350.5h0M293.1 367.2h0M292.0 338.0h0M292.4 354.5h0M293.3 357.5h0M291.6 364.9h0M292.6 358.9h0M292.6 364.8h0M292.5 348.8h0M292.6 325.2h0M291.8 328.6h0M292.4 339.7h0M292.2 330.6h0M292.5 334.2h0M292.4 344.1h0M293.4 347.0h0M292.9 340.3h0M293.6 353.6h0M292.6 330.4h0M292.8 338.0h0M293.1 327.3h0M291.9 367.2h0M291.4 362.8h0M291.5 324.5h0M292.8 355.9h0M292.1 323.4h0M292.2 354.3h0M292.4 348.0h0M292.8 348.7h0M291.8 351.0h0M292.0 351.0h0M292.8 370.7h0M292.2 350.0h0M292.7 347.0h0M292.9 335.6h0M292.2 357.2h0M291.8 362.1h0M291.6 360.9h0M292.0 363.6h0M291.7 345.1h0M292.4 323.5h0M291.5 349.3h0M292.4 373.3h0M292.1 369.6h0M292.8 336.2h0M292.4 372.1h0M292.7 362.7h0M291.4 331.0h0M292.5 360.0h0M292.0 364.6h0M291.4 340.7h0M292.3 343.5h0M291.9 369.0h0M292.1 368.3h0M292.7 363.8h0M290.5 339.5h0M292.8 337.2h0M293.6 352.9h0M292.2 356.6h0M292.0 364.2h0M292.2 335.8h0M292.8 320.9h0M293.7 367.5h0M291.8 346.8h0M290.5 345.9h0M292.5 365.1h0M292.2 323.4h0M292.2 348.0h0M292.1 342.3h0M291.0 356.4h0M292.5 347.6h0M291.9 360.1h0M292.4 326.0h0M292.0 340.9h0M291.7 333.2h0M291.2 367.2h0M293.1 370.6h0M292.2 349.9h0M292.5 360.6h0M293.2 344.7h0M292.6 337.4h0M292.4 372.4h0M290.9 346.8h0M292.9 372.2h0M291.6 328.2h0M291.4 358.8h0M292.5 343.0h0M292.2 355.6h0M291.5 359.2h0M292.2 333.7h0M292.6 353.8h0M292.5 356.3h0M291.5 363.2h0M291.4 349.0h0M292.0 354.2h0M292.4 380.0h0M292.4 382.4h0M292.4 384.8h0M292.3 387.2h0M292.3 389.6h0M292.3 392.0h0M292.4 394.4h0M292.6 396.8h0M292.3 399.2h0M292.3 401.6h0M298.6 319.9h0M296.9 340.5h0M298.2 335.2h0M298.3 360.0h0M298.6 321.1h0M299.3 320.3h0M299.4 321.4h0M300.6 327.9h0M301.9 331.0h0M297.6 353.2h0M299.3 332.3h0M299.7 341.2h0M298.7 342.2h0M300.1 352.3h0M295.8 323.4h0M300.0 332.0h0M298.8 343.7h0M296.3 364.1h0M298.7 334.1h0M301.9 333.0h0M298.9 354.7h0M302.1 345.2h0M302.3 344.0h0M299.5 370.8h0M298.6 333.2h0M300.1 355.2h0M301.7 337.5h0M297.8 355.0h0M301.3 349.2h0M296.4 365.9h0M298.8 347.8h0M299.8 348.4h0M298.2 342.1h0M299.3 323.1h0M300.4 355.1h0M299.2 336.6h0M297.9 331.7h0M299.3 361.7h0M297.7 367.4h0M298.1 371.0h0M301.8 325.8h0M299.9 329.7h0M298.4 329.6h0M298.9 350.0h0M299.0 339.8h0M298.4 370.2h0M300.2 339.7h0M300.7 354.5h0M300.3 344.7h0M298.5 333.9h0M298.2 341.0h0M296.2 338.6h0M300.7 347.4h0M298.6 342.9h0M297.3 357.5h0M297.4 340.9h0M300.3 349.2h0M298.7 369.2h0M300.2 352.2h0M300.5 346.9h0M299.5 349.8h0M294.9 354.1h0M301.1 362.3h0M297.2 356.6h0M301.3 344.8h0M299.3 342.4h0M298.0 339.4h0M298.3 345.3h0M297.9 322.8h0M299.6 327.2h0M299.9 328.2h0M297.1 366.1h0M296.4 349.0h0M301.0 360.3h0M299.7 341.8h0M297.1 350.0h0M300.6 333.0h0M300.8 316.5h0M299.8 341.4h0M299.9 337.7h0M298.3 335.9h0M294.8 324.6h0M300.2 353.7h0M297.9 356.5h0M302.0 353.0h0M298.5 360.9h0M299.9 332.9h0M298.0 353.7h0M296.9 344.1h0M298.3 337.9h0M302.2 345.3h0M299.1 331.0h0M296.2 340.2h0M300.6 344.7h0M300.8 319.0h0M297.9 367.1h0M299.2 359.3h0M299.1 356.7h0M297.9 370.3h0M299.2 354.9h0M296.7 353.9h0M299.6 369.2h0M300.6 338.0h0M297.8 325.5h0M300.1 358.9h0M300.2 341.6h0M299.9 360.2h0M301.2 354.7h0M299.1 334.9h0M297.9 344.2h0M300.2 328.9h0M299.8 345.8h0M295.9 342.6h0M299.2 357.0h0M298.5 349.1h0M299.2 341.1h0M301.3 346.9h0M299.7 343.9h0M298.0 338.5h0M298.2 348.7h0M299.4 328.7h0M299.7 332.9h0M303.1 348.8h0M297.6 359.0h0M298.2 352.8h0M300.5 341.1h0M298.5 361.6h0M299.3 349.9h0M296.6 370.6h0M296.6 352.6h0M300.1 345.1h0M297.5 327.6h0M300.2 363.9h0M298.3 359.7h0M299.5 365.4h0M300.8 337.2h0M297.9 329.4h0M297.9 365.3h0M300.8 345.2h0M299.1 309.4h0M298.8 354.7h0M300.4 326.5h0M297.6 365.8h0M299.0 361.2h0M297.2 316.2h0M297.1 350.1h0M300.0 345.0h0M300.9 354.2h0M299.3 327.4h0M296.9 324.2h0M298.9 358.4h0M299.5 316.1h0M299.0 343.6h0M300.8 351.5h0M297.8 356.0h0M299.5 350.2h0M298.9 362.8h0M298.5 342.8h0M299.8 343.1h0M297.2 334.4h0M298.6 348.0h0M300.3 355.6h0M300.6 343.8h0M299.3 327.6h0M300.7 308.4h0M300.9 344.0h0M298.9 333.8h0M302.0 350.6h0M301.3 328.6h0M298.6 356.1h0M298.9 341.7h0M298.3 336.0h0M298.9 349.6h0M299.6 338.1h0M299.4 344.4h0M298.4 334.1h0M299.8 351.9h0M300.8 320.2h0M300.4 343.5h0M300.0 353.3h0M298.5 357.8h0M298.6 353.1h0M301.5 364.2h0M299.1 348.7h0M300.4 337.4h0M301.5 315.2h0M296.8 312.8h0M301.5 317.1h0M297.6 344.5h0M300.3 319.7h0M299.2 323.2h0M298.1 355.1h0M297.6 318.4h0M297.5 345.8h0M297.2 357.6h0M298.5 362.2h0M300.5 348.3h0M298.7 324.2h0M301.9 330.1h0M298.7 366.0h0M298.0 368.3h0M299.0 338.5h0M301.5 357.7h0M297.9 356.0h0M299.0 339.7h0M300.5 360.3h0M298.3 331.6h0M299.8 353.5h0M298.8 353.8h0M298.7 342.6h0M298.8 336.5h0M298.7 367.8h0M300.1 333.1h0M296.7 331.7h0M297.1 324.1h0M298.3 341.5h0M296.7 342.1h0M297.6 332.8h0M297.2 361.5h0M298.8 346.7h0M306.7 368.2h0M304.3 362.7h0M305.6 348.8h0M307.9 361.1h0M307.3 353.9h0M306.6 364.1h0M307.4 349.2h0M306.9 353.8h0M306.4 339.4h0M306.5 345.2h0M306.6 356.0h0M305.6 357.8h0M308.1 359.0h0M308.9 367.7h0M306.2 339.7h0M306.0 339.3h0M308.9 323.8h0M306.6 374.5h0M306.6 358.8h0M306.2 363.4h0M305.7 339.3h0M307.0 354.7h0M304.3 376.8h0M307.3 357.9h0M307.9 328.2h0M305.8 357.6h0M305.6 352.6h0M308.4 367.6h0M305.9 380.9h0M305.4 353.5h0M307.2 361.3h0M304.8 369.6h0M303.6 337.9h0M306.1 349.0h0M305.5 324.3h0M305.2 357.1h0M305.2 365.1h0M305.4 358.9h0M305.7 360.6h0M303.4 339.8h0M307.0 338.5h0M305.7 374.9h0M305.6 364.2h0M305.7 346.7h0M307.1 363.2h0M306.4 339.8h0M308.7 335.9h0M303.5 358.8h0M307.1 351.3h0M307.2 358.0h0M306.7 360.1h0M305.9 355.9h0M306.1 339.4h0M306.5 350.5h0M305.6 344.7h0M305.2 351.5h0M306.1 319.7h0M307.1 374.7h0M309.3 330.2h0M304.4 325.6h0M305.0 350.3h0M305.2 351.3h0M305.9 347.6h0M308.1 333.8h0M306.6 364.4h0M307.4 330.8h0M308.3 363.6h0M305.6 330.5h0M305.2 357.5h0M306.6 355.1h0M304.8 326.6h0M308.0 353.3h0M305.4 369.9h0M305.1 369.3h0M304.8 364.9h0M304.5 343.2h0M306.0 351.1h0M305.3 338.0h0M306.4 373.3h0M305.5 340.5h0M306.6 334.6h0M306.3 343.1h0M307.3 382.4h0M306.9 325.6h0M305.4 368.5h0M307.5 366.4h0M305.4 343.9h0M304.9 356.9h0M307.1 327.6h0M304.5 359.9h0M305.2 361.3h0M304.2 340.2h0M304.2 356.4h0M306.4 353.9h0M304.9 363.3h0M308.0 365.5h0M307.8 372.0h0M306.4 351.6h0M305.2 363.6h0M306.0 368.8h0M305.7 382.2h0M307.4 355.4h0M303.7 345.5h0M305.8 342.2h0M306.1 351.8h0M306.5 323.8h0M306.8 335.1h0M305.5 365.2h0M304.6 377.3h0M307.3 343.0h0M306.5 374.7h0M305.9 359.7h0M307.3 344.8h0M305.1 376.6h0M304.0 369.5h0M306.6 369.3h0M306.1 363.8h0M305.6 370.7h0M305.2 348.8h0M306.6 348.7h0M307.1 343.7h0M304.9 369.4h0M304.3 362.1h0M306.8 370.8h0M304.7 348.3h0M307.5 349.2h0M307.7 353.7h0M305.3 354.3h0M308.8 350.0h0M305.7 378.5h0M305.9 357.2h0M305.9 309.0h0M306.5 343.4h0M307.0 358.3h0M306.4 356.7h0M305.2 355.0h0M305.6 350.3h0M304.2 380.2h0M304.8 340.3h0M306.2 367.2h0M306.0 370.2h0M305.3 370.9h0M305.1 339.1h0M306.0 343.2h0M306.1 360.9h0M307.2 363.5h0M307.2 364.2h0M304.8 342.8h0M305.5 347.8h0M303.9 381.4h0M308.4 366.1h0M303.5 366.0h0M305.9 369.0h0M306.0 352.1h0M306.2 360.0h0M306.7 327.3h0M305.2 348.6h0M306.8 359.9h0M305.2 365.5h0M304.9 342.1h0M305.0 331.2h0M305.1 340.0h0M308.0 318.4h0M307.0 336.0h0M306.7 351.9h0M303.6 362.3h0M305.9 379.3h0M306.7 357.0h0M303.9 341.0h0M307.1 357.7h0M304.7 347.7h0M306.0 372.1h0M306.3 372.4h0M305.8 325.6h0M306.0 349.3h0M307.4 374.8h0M307.8 350.5h0M306.2 365.8h0M303.6 360.6h0M304.7 351.3h0M305.4 367.8h0M306.7 358.7h0M307.4 363.8h0M305.5 349.5h0M305.2 350.8h0M306.1 360.4h0M306.2 348.1h0M306.8 333.2h0M306.9 332.1h0M305.7 358.3h0M303.0 339.1h0M305.5 338.4h0M302.4 341.7h0M305.8 365.0h0M309.2 317.0h0M307.5 310.6h0M306.4 356.3h0M308.7 349.4h0M304.7 378.5h0M306.5 347.7h0M306.6 327.7h0M305.2 357.5h0M305.3 358.1h0M306.8 358.7h0M306.3 358.8h0M305.8 346.6h0M306.8 359.4h0M305.8 351.8h0M305.1 323.1h0M306.5 331.8h0M305.8 336.8h0M306.2 346.9h0M304.6 331.5h0M305.9 376.5h0M305.6 350.6h0M304.3 335.5h0M307.8 339.6h0M306.2 353.0h0M306.3 341.3h0M307.0 333.7h0M307.7 330.9h0M307.2 351.5h0M305.2 381.7h0M306.3 304.5h0M305.3 345.2h0M305.7 352.3h0M306.5 337.7h0M304.7 354.5h0M306.9 322.5h0M306.5 356.0h0M304.8 331.3h0M309.5 365.1h0M305.9 351.7h0M307.5 371.8h0M306.0 335.1h0M306.5 358.0h0M307.1 379.4h0M306.1 347.1h0M306.0 334.0h0M307.5 345.3h0M307.4 355.2h0M309.0 345.1h0M306.4 359.1h0M303.9 370.9h0M304.3 337.1h0M306.7 324.9h0M304.8 335.9h0M304.3 323.9h0M307.4 338.0h0M304.1 346.7h0M304.1 322.0h0M306.2 351.6h0M307.5 349.8h0M307.0 323.4h0M304.6 343.1h0M306.9 322.3h0M304.8 360.3h0M306.4 345.1h0M302.3 357.8h0M304.5 373.5h0M306.5 361.0h0M305.8 349.5h0M306.5 354.7h0M301.3 341.5h0M307.7 348.8h0M307.1 379.0h0M308.5 339.5h0M305.3 347.5h0M311.8 316.2h0M311.9 348.2h0M312.1 312.4h0M311.2 308.6h0M311.5 305.1h0M311.7 361.6h0M311.9 313.8h0M312.0 310.4h0M311.9 324.4h0M311.8 313.0h0M311.3 330.9h0M311.2 305.4h0M311.2 314.8h0M312.1 345.7h0M312.4 337.6h0M311.3 358.2h0M311.1 307.3h0M311.6 342.1h0M311.8 331.9h0M311.5 320.5h0M311.6 326.9h0M312.0 356.3h0M311.9 365.1h0M311.5 339.9h0M311.1 342.1h0M311.6 306.0h0M312.2 303.1h0M311.0 337.4h0M312.4 305.6h0M311.8 364.6h0M312.4 308.6h0M311.4 308.8h0M311.4 339.1h0M311.1 332.3h0M311.8 343.7h0M311.8 346.1h0M311.6 323.0h0M311.8 315.0h0M311.9 333.6h0M311.4 311.6h0M312.1 333.9h0M311.0 353.2h0M311.5 307.8h0M311.9 340.6h0M311.6 303.1h0M311.8 351.4h0M311.0 346.5h0M311.6 353.7h0M311.7 351.8h0M311.1 345.8h0M312.0 341.7h0M311.2 322.9h0M311.3 311.4h0M311.1 361.5h0M311.8 361.8h0M311.4 322.5h0M312.0 361.7h0M312.1 339.5h0M311.6 313.1h0M311.9 310.6h0M312.5 326.9h0M311.0 327.1h0M310.9 318.9h0M312.5 325.4h0M311.3 319.3h0M313.0 365.6h0M312.1 306.6h0M310.7 350.4h0M312.1 312.3h0M311.7 330.9h0M311.8 318.5h0M312.1 342.3h0M311.5 348.3h0M311.6 329.1h0M311.8 338.8h0M311.0 348.9h0M311.6 315.3h0M311.8 364.2h0M311.7 364.5h0M311.8 334.6h0M311.7 307.5h0M310.9 343.4h0M311.3 342.5h0M310.9 328.0h0M311.9 304.5h0M312.2 313.7h0M311.8 308.6h0M310.8 327.2h0M311.6 313.9h0M312.1 333.4h0M311.9 347.9h0M312.1 348.2h0M312.1 364.3h0M311.3 357.4h0M311.8 317.7h0M311.9 321.1h0M311.3 332.9h0M311.5 342.6h0M311.7 346.8h0M312.6 313.3h0M312.2 342.0h0M311.8 349.3h0M311.8 341.9h0M311.0 356.3h0M311.8 311.0h0M312.2 309.4h0M311.6 312.1h0M312.0 317.2h0M312.4 353.9h0M311.6 313.4h0M311.1 305.9h0M311.7 339.8h0M311.7 304.8h0M313.0 356.5h0M311.7 345.7h0M311.7 310.9h0M312.2 339.6h0M311.4 350.4h0M311.6 331.2h0M311.7 337.1h0M311.7 365.5h0M311.9 337.4h0M311.8 357.9h0M310.7 305.7h0M312.2 330.5h0M311.5 314.1h0M312.1 355.0h0M311.8 361.5h0M312.0 317.3h0M312.3 364.2h0M311.7 352.7h0M311.6 322.0h0M311.9 312.9h0M311.7 360.4h0M312.5 344.8h0M311.7 345.8h0M311.5 364.6h0M312.6 356.8h0M311.5 337.7h0M312.1 345.1h0M311.5 343.0h0M312.1 301.3h0M312.5 309.2h0M312.4 306.6h0M311.6 343.5h0M312.0 364.3h0M312.3 346.9h0M311.8 325.7h0M312.6 309.2h0M312.5 350.5h0M312.5 320.5h0M311.8 343.2h0M312.0 303.5h0M311.2 348.4h0M311.4 317.8h0M312.0 357.3h0M311.5 339.0h0M311.8 315.7h0M311.3 357.9h0M311.5 340.8h0M311.2 348.6h0M311.9 364.2h0M311.5 332.9h0M311.8 348.1h0M312.0 359.8h0M311.6 317.8h0M311.8 322.9h0M312.8 359.8h0M312.0 313.2h0M312.5 336.5h0M314.7 320.8h0M313.1 354.8h0M315.7 380.0h0M313.8 335.6h0M312.4 306.3h0M314.5 368.2h0M314.0 387.8h0M312.3 369.4h0M315.8 340.1h0M313.4 366.3h0M314.4 301.6h0M316.5 353.6h0M313.1 333.9h0M313.1 378.9h0M314.3 327.9h0M315.3 375.7h0M315.1 334.2h0M312.7 344.8h0M312.5 375.4h0M315.1 361.1h0M312.6 336.6h0M313.8 346.3h0M314.3 332.2h0M314.7 361.3h0M313.9 350.2h0M313.0 382.7h0M314.7 369.2h0M314.3 343.2h0M314.9 385.1h0M315.4 317.3h0M314.4 337.5h0M313.5 364.7h0M313.7 371.0h0M311.9 358.9h0M313.1 351.6h0M314.2 309.2h0M314.1 337.5h0M314.0 377.8h0M313.0 359.7h0M312.8 337.6h0M313.4 351.1h0M314.0 336.0h0M313.7 305.6h0M314.1 346.4h0M313.1 336.3h0M313.2 321.8h0M313.2 346.9h0M313.5 344.0h0M313.2 355.5h0M313.7 352.1h0M313.3 355.9h0M315.2 346.0h0M313.1 333.7h0M312.8 349.0h0M314.2 351.2h0M315.5 374.5h0M313.6 352.6h0M312.6 334.9h0M314.6 371.0h0M312.7 350.7h0M313.7 371.2h0M312.6 370.8h0M314.6 320.9h0M314.1 329.2h0M313.6 363.7h0M314.1 311.6h0M312.6 340.0h0M313.5 356.5h0M314.1 339.3h0M314.5 330.6h0M311.9 350.0h0M314.3 342.0h0M312.7 338.6h0M311.6 363.6h0M314.6 335.3h0M314.9 345.4h0M312.7 381.0h0M314.6 372.0h0M313.8 351.8h0M314.6 346.5h0M315.7 357.5h0M315.0 356.7h0M314.0 320.3h0M312.6 332.7h0M313.1 377.8h0M313.5 328.3h0M313.2 390.9h0M314.2 367.9h0M314.4 350.7h0M315.7 340.1h0M315.0 354.4h0M312.5 370.7h0M316.3 362.7h0M313.8 383.7h0M313.4 363.2h0M312.0 336.3h0M313.9 365.3h0M316.1 370.0h0M313.8 349.6h0M314.4 330.2h0M314.2 333.4h0M314.9 365.5h0M313.1 330.8h0M313.0 394.6h0M314.5 370.1h0M314.8 308.7h0M313.1 326.1h0M314.2 353.7h0M314.8 321.8h0M314.2 348.4h0M313.4 373.5h0M316.0 367.3h0M315.3 325.8h0M314.5 370.0h0M313.7 375.9h0M312.5 334.8h0M313.4 367.1h0M313.9 337.1h0M312.8 320.0h0M314.9 380.4h0M312.5 379.3h0M315.5 329.5h0M313.0 376.2h0M313.5 337.1h0M314.3 360.6h0M314.9 320.0h0M312.7 363.7h0M314.5 377.7h0M313.4 355.1h0M312.4 371.1h0M312.6 359.3h0M315.0 375.0h0M312.4 338.7h0M313.2 338.0h0M313.8 304.6h0M315.3 340.9h0M311.6 344.3h0M314.0 324.0h0M314.0 376.0h0M312.1 345.0h0M313.5 365.9h0M314.4 331.9h0M313.5 351.4h0M313.2 369.2h0M314.0 377.5h0M314.9 387.7h0M312.4 340.7h0M313.8 375.7h0M313.6 350.6h0M313.7 374.5h0M314.7 348.8h0M313.2 350.7h0M312.2 359.8h0M313.6 336.2h0M312.5 351.7h0M315.5 361.0h0M315.2 308.0h0M312.7 339.2h0M313.8 340.3h0M312.1 376.0h0M313.6 355.2h0M313.3 351.4h0M315.7 334.1h0M314.3 362.3h0M314.0 344.5h0M314.9 375.1h0M313.4 345.2h0M314.5 350.7h0M313.1 366.2h0M313.2 362.9h0M315.8 314.5h0M310.9 356.6h0M314.4 350.5h0M313.0 307.2h0M314.8 322.4h0M313.0 374.5h0M314.0 360.0h0M312.4 340.5h0M314.9 374.3h0M313.0 310.0h0M312.3 384.8h0M310.5 338.0h0M311.9 387.7h0M314.5 342.1h0M312.5 339.5h0M312.4 358.9h0M313.8 345.6h0M313.6 376.4h0M313.9 371.1h0M313.5 343.6h0M315.7 347.4h0M312.6 351.9h0M313.1 393.4h0M313.5 351.1h0M314.3 376.7h0M315.3 351.1h0M313.8 331.9h0M314.6 312.5h0M314.2 357.5h0M316.9 363.5h0M313.1 357.8h0M315.2 382.7h0M313.7 369.4h0M314.0 395.9h0M314.5 367.0h0M315.1 330.1h0M313.1 379.0h0M313.6 326.4h0M312.8 348.6h0M311.0 320.8h0M316.0 374.0h0M313.9 386.1h0M313.7 319.0h0M312.9 330.2h0M313.5 334.6h0M314.2 305.8h0M315.0 348.3h0M314.1 344.6h0M313.9 317.5h0M313.1 314.8h0M313.8 356.5h0M311.8 313.5h0M313.2 350.2h0M313.8 355.7h0M315.4 366.9h0M312.0 348.3h0M312.4 355.4h0M314.6 385.6h0M311.2 335.8h0M316.1 350.6h0M314.0 380.7h0M314.7 322.0h0M314.4 365.4h0M314.4 311.4h0M312.8 311.7h0M313.5 345.4h0M313.8 349.8h0M314.6 394.9h0M314.9 381.0h0M314.1 345.8h0M313.2 362.3h0M314.2 333.9h0M313.3 337.3h0M314.6 332.5h0M313.4 358.2h0M313.4 338.4h0M314.8 339.8h0M311.9 393.9h0M314.3 343.0h0M313.3 365.8h0M314.5 360.7h0M314.4 340.4h0M312.8 341.1h0M314.3 378.7h0M315.4 338.7h0M313.4 367.5h0M314.6 341.1h0M316.3 342.4h0M311.8 387.1h0M313.5 309.6h0M315.7 334.3h0M313.6 336.8h0M313.6 361.4h0M312.7 334.8h0M310.9 353.9h0M314.6 367.4h0M315.1 374.4h0M314.4 317.6h0M312.7 392.8h0M311.8 351.2h0M314.0 327.7h0M315.3 356.6h0M314.2 327.4h0M314.3 341.6h0M315.6 329.2h0M313.2 339.2h0M314.8 381.5h0M313.3 352.2h0M313.0 370.9h0M313.3 360.2h0M314.5 348.5h0M313.0 383.2h0M313.4 382.2h0M314.1 342.1h0M312.9 370.3h0M313.2 342.3h0M314.0 338.9h0M314.0 361.3h0M313.0 352.6h0M313.2 347.9h0M314.7 301.8h0M313.3 330.2h0M313.7 353.0h0M313.6 367.4h0M313.1 366.4h0M314.5 337.3h0M313.5 362.0h0M312.0 320.6h0M315.4 361.2h0M313.5 395.4h0M313.9 345.1h0M314.1 326.0h0M313.3 375.9h0M312.6 347.6h0M312.8 350.7h0M313.1 363.7h0M314.4 342.7h0M313.4 367.8h0M314.2 333.5h0M311.3 332.4h0M312.7 357.5h0M313.9 361.2h0M312.6 355.9h0M314.5 366.6h0M313.5 349.3h0M313.4 335.0h0M312.7 361.9h0M313.5 312.9h0M312.2 350.6h0M314.7 373.7h0M314.1 364.1h0M313.4 378.1h0M312.6 344.9h0M314.2 344.9h0M312.9 339.3h0M314.8 338.8h0M314.4 355.8h0M313.0 374.4h0M313.5 350.0h0M315.5 388.5h0M314.4 362.2h0M314.7 302.1h0M313.2 366.8h0M314.5 339.7h0M312.4 353.3h0M314.4 333.6h0M314.7 338.3h0M314.2 376.2h0M313.4 342.8h0M313.5 333.3h0M314.0 342.3h0M314.2 336.4h0M313.9 366.3h0M314.2 378.9h0M312.7 314.3h0M312.2 362.3h0M314.2 349.9h0M311.3 345.1h0M312.0 370.5h0M312.4 333.5h0M314.5 331.3h0M314.4 349.4h0M316.9 334.3h0M313.4 339.2h0M313.4 371.2h0M313.6 320.7h0M312.3 381.8h0M314.7 384.6h0M312.8 344.1h0M312.9 367.8h0M313.9 326.8h0M313.2 345.8h0M314.2 341.6h0M314.5 332.6h0M314.5 375.5h0M313.7 361.4h0M312.9 375.7h0M313.7 315.5h0M312.6 350.0h0M312.2 342.5h0M312.1 316.2h0M314.7 378.8h0M312.3 355.1h0M314.9 362.0h0M313.7 389.5h0M313.4 340.4h0M313.8 391.4h0M315.4 309.4h0M312.3 386.9h0M314.2 372.8h0M313.2 325.3h0M312.6 322.9h0M312.7 339.3h0M312.7 382.6h0M313.7 363.5h0M314.6 356.9h0M314.1 350.3h0M313.5 323.9h0M315.5 325.8h0M313.1 334.1h0M313.8 376.0h0M313.4 307.4h0M314.4 327.8h0M314.2 363.7h0M313.7 350.8h0M314.4 341.6h0M314.0 329.3h0M313.1 311.0h0M314.7 334.4h0M313.2 324.8h0M313.1 340.3h0M314.5 329.5h0M313.3 315.6h0M313.8 384.8h0M316.4 302.1h0M314.6 371.2h0M313.2 341.7h0M313.2 337.9h0M314.8 322.3h0M314.1 328.8h0M312.8 341.0h0M314.4 301.5h0M312.1 376.0h0M315.1 355.2h0M315.1 350.7h0M315.4 350.1h0M312.5 377.8h0M314.4 350.8h0M315.8 369.6h0M314.2 335.4h0M313.6 393.2h0M315.1 335.2h0M312.3 325.6h0M313.7 335.0h0M314.2 373.3h0M313.3 389.3h0M313.8 360.1h0M314.6 326.4h0M313.7 333.3h0M312.6 339.6h0M312.2 382.8h0M312.9 328.5h0M313.3 351.0h0M313.0 322.7h0M316.6 355.8h0M313.6 330.4h0M314.4 370.1h0M312.5 338.6h0M313.2 371.4h0M314.4 349.7h0M313.1 336.0h0M314.8 363.5h0M313.1 315.2h0M314.0 387.1h0M315.3 381.3h0M314.9 324.0h0M313.9 347.7h0M313.9 305.1h0M314.5 364.4h0M313.4 358.5h0M312.7 356.6h0M314.8 338.1h0M314.9 349.6h0M314.1 334.4h0M313.6 345.4h0M312.7 334.6h0M313.2 335.2h0M313.4 334.3h0M314.6 331.4h0M313.9 372.0h0M314.2 385.9h0M318.5 342.3h0M319.0 343.8h0M320.0 316.4h0M317.7 314.9h0M319.3 317.0h0M317.6 322.5h0M319.3 351.1h0M318.8 333.1h0M318.9 339.2h0M318.8 322.2h0M320.5 326.8h0M316.8 343.5h0M317.8 339.3h0M319.1 330.2h0M319.2 348.1h0M318.4 325.9h0M319.2 326.4h0M319.0 328.1h0M319.0 325.7h0M319.9 345.8h0M318.3 313.3h0M319.1 340.4h0M319.7 307.8h0M318.5 309.5h0M320.0 334.1h0M318.3 338.3h0M317.6 332.1h0M318.1 305.2h0M319.0 350.9h0M319.8 349.7h0M318.6 322.2h0M318.9 352.8h0M318.9 325.6h0M319.5 334.8h0M318.1 323.1h0M318.8 319.7h0M318.2 312.5h0M319.3 330.1h0M319.6 343.6h0M317.1 329.0h0M319.1 343.0h0M318.8 346.4h0M319.5 355.5h0M318.3 348.8h0M319.0 334.9h0M318.0 338.1h0M319.6 332.5h0M320.8 322.4h0M319.2 317.4h0M320.2 358.5h0M320.2 321.8h0M318.7 342.3h0M319.0 355.3h0M319.1 337.5h0M319.8 326.6h0M318.4 340.0h0M319.6 356.5h0M318.3 321.2h0M319.5 321.9h0M318.9 327.4h0M317.6 345.5h0M318.6 345.9h0M319.4 326.5h0M318.8 335.6h0M319.2 347.2h0M320.8 317.8h0M317.9 332.7h0M318.4 340.6h0M318.3 344.3h0M319.0 344.2h0M318.6 314.6h0M318.8 333.6h0M318.3 326.4h0M318.3 337.8h0M320.5 340.7h0M321.0 333.1h0M318.8 337.9h0M317.6 360.6h0M318.6 348.0h0M319.6 335.4h0M318.8 325.7h0M320.4 309.7h0M321.4 331.9h0M318.8 321.4h0M319.5 319.2h0M319.7 328.8h0M318.3 328.1h0M318.9 339.6h0M319.9 343.1h0M319.3 343.0h0M318.3 318.2h0M319.7 344.7h0M318.3 357.1h0M320.2 331.0h0M319.0 331.2h0M317.4 341.1h0M318.3 343.0h0M319.6 334.8h0M320.5 340.2h0M319.3 321.1h0M318.7 309.3h0M320.9 325.9h0M317.9 328.6h0M319.8 333.2h0M317.7 326.6h0M317.5 321.0h0M318.1 337.1h0M319.6 341.1h0M319.2 330.4h0M318.8 328.7h0M319.3 335.1h0M318.4 326.4h0M320.2 341.0h0M319.1 326.6h0M319.4 306.8h0M317.9 359.7h0M318.9 339.7h0M318.0 346.9h0M319.5 331.6h0M317.6 332.2h0M319.6 335.4h0M319.8 336.2h0M319.4 332.5h0M320.0 322.4h0M320.2 342.9h0M318.7 335.3h0M318.6 361.8h0M318.6 323.2h0M319.0 329.2h0M318.8 333.7h0M318.8 307.5h0M320.4 322.4h0M319.0 306.6h0M318.6 325.3h0M320.2 336.5h0M318.0 336.2h0M318.9 349.2h0M268.5 451.0h0M289.0 460.0h0M304.0 450.5h0M316.0 450.5h0M237.0 459.0h0M241.0 404.0h0M243.0 409.0h0M244.5 414.0h0M262.0 407.0h0" stroke="#222" stroke-width="1.5" stroke-linecap="round" fill="none"/>
<clipPath id="cp39"><rect x="39.2" y="286.6" width="310.40000000000003" height="196.79999999999995"/></clipPath>
<line clip-path="url(#cp39)" x1="59.60" y1="483.40" x2="349.60" y2="303.82" stroke="#555" stroke-width="1.4" stroke-dasharray="3.4 1.3"/>
<line clip-path="url(#cp39)" x1="100.29" y1="483.40" x2="349.60" y2="308.00" stroke="#333" stroke-width="1.3"/>
<line clip-path="url(#cp39)" x1="92.00" y1="483.40" x2="349.60" y2="307.51" stroke="#111" stroke-width="1.6" stroke-dasharray="3.6 1.3"/>
<rect x="39.2" y="286.6" width="310.40000000000003" height="196.79999999999995" fill="none" stroke="#999" stroke-width="1.2"/>
<path d="M39.20 483.4v-3M39.20 286.6v3M79.81 483.4v-1.6M79.81 286.6v1.6M103.56 483.4v-1.6M103.56 286.6v1.6M120.42 483.4v-1.6M120.42 286.6v1.6M133.49 483.4v-1.6M133.49 286.6v1.6M144.17 483.4v-1.6M144.17 286.6v1.6M153.20 483.4v-1.6M153.20 286.6v1.6M161.02 483.4v-1.6M161.02 286.6v1.6M167.92 483.4v-1.6M167.92 286.6v1.6M174.10 483.4v-3M174.10 286.6v3M214.70 483.4v-1.6M214.70 286.6v1.6M238.46 483.4v-1.6M238.46 286.6v1.6M255.31 483.4v-1.6M255.31 286.6v1.6M268.38 483.4v-1.6M268.38 286.6v1.6M279.07 483.4v-1.6M279.07 286.6v1.6M288.10 483.4v-1.6M288.10 286.6v1.6M295.92 483.4v-1.6M295.92 286.6v1.6M302.82 483.4v-1.6M302.82 286.6v1.6M308.99 483.4v-3M308.99 286.6v3M349.60 483.4v-1.6M349.60 286.6v1.6M39.2 483.40h3M349.6 483.40h-3M39.2 458.80h3M349.6 458.80h-3M39.2 434.20h3M349.6 434.20h-3M39.2 409.60h3M349.6 409.60h-3M39.2 385.00h3M349.6 385.00h-3M39.2 360.40h3M349.6 360.40h-3M39.2 335.80h3M349.6 335.80h-3M39.2 311.20h3M349.6 311.20h-3M39.2 286.60h3M349.6 286.60h-3" stroke="#777" stroke-width="0.8" fill="none"/>
<text x="36.7" y="486.40" text-anchor="end" font-size="9.7" font-weight="bold">80</text>
<text x="36.7" y="461.80" text-anchor="end" font-size="9.7" font-weight="bold">90</text>
<text x="36.7" y="437.20" text-anchor="end" font-size="9.7" font-weight="bold">100</text>
<text x="36.7" y="412.60" text-anchor="end" font-size="9.7" font-weight="bold">110</text>
<text x="36.7" y="388.00" text-anchor="end" font-size="9.7" font-weight="bold">120</text>
<text x="36.7" y="363.40" text-anchor="end" font-size="9.7" font-weight="bold">130</text>
<text x="36.7" y="338.80" text-anchor="end" font-size="9.7" font-weight="bold">140</text>
<text x="36.7" y="314.20" text-anchor="end" font-size="9.7" font-weight="bold">150</text>
<text x="36.7" y="289.60" text-anchor="end" font-size="9.7" font-weight="bold">160</text>
<text x="39.20" y="497.40" text-anchor="middle" font-size="9.7" font-weight="bold">10<tspan dy="-5" font-size="6.5">1</tspan></text>
<text x="174.10" y="497.40" text-anchor="middle" font-size="9.7" font-weight="bold">10<tspan dy="-5" font-size="6.5">2</tspan></text>
<text x="308.99" y="497.40" text-anchor="middle" font-size="9.7" font-weight="bold">10<tspan dy="-5" font-size="6.5">3</tspan></text>
<text x="193.8" y="507.8" text-anchor="middle" font-size="9.7" font-weight="bold">Distance (m)</text>
<text transform="translate(15.2 384.5) rotate(-90)" text-anchor="middle" font-size="9.7" font-weight="bold">Path Loss (dB)</text>
<text x="89.8" y="454" font-size="9.7" font-weight="bold">(1)</text>
<text x="105.4" y="466.5" font-size="9.7" font-weight="bold">(2)</text>
<rect x="42.4" y="289.8" width="112.4" height="49.099999999999966" fill="#fff" stroke="#8a8a8a" stroke-width="1"/>
<circle cx="57.2" cy="297.1" r="0.7" fill="#222"/>
<line x1="46.6" y1="308.7" x2="67.8" y2="308.7" stroke="#444" stroke-width="1.4"/>
<line x1="46.6" y1="320.3" x2="67.8" y2="320.3" stroke="#666" stroke-width="1.1" stroke-dasharray="2.9 1.3"/>
<line x1="46.6" y1="331.9" x2="67.8" y2="331.9" stroke="#111" stroke-width="1.3" stroke-dasharray="2.9 1.3"/>
<text x="86.19999999999999" y="300.5" font-size="9.7" font-weight="bold">Measurement</text>
<text x="86.19999999999999" y="312.09999999999997" font-size="9.7" font-weight="bold">Regression</text>
<text x="70.0" y="323.7" font-size="9.7" font-weight="bold">(1)</text>
<text x="88.0" y="323.7" font-size="9.7" font-weight="bold">Modified Hata</text>
<text x="70.0" y="335.29999999999995" font-size="9.7" font-weight="bold">(2)</text>
<text x="88.0" y="335.29999999999995" font-size="9.7" font-weight="bold">Proposed</text>
</svg>
<div class="cap" style="left:5.1px;top:241.2px;width:347.2px;font-size:11.9px"><div class="l1">(a) Area A: four story small-scale buildings, contiguous storefronts</div><div class="l2" style="word-spacing:0.4px">adjacent to sidewalks, and narrow streets</div></div>
<div class="cap" style="left:7.5px;top:517.7px;width:343.3px;font-size:12.1px"><div class="l1">(b) Area B: fifteen-story large-scale apartment complex, distant to</div><div class="l2" style="word-spacing:0.5px;letter-spacing:0.08px">sidewalks, and wide streets</div></div>
</body></html>
